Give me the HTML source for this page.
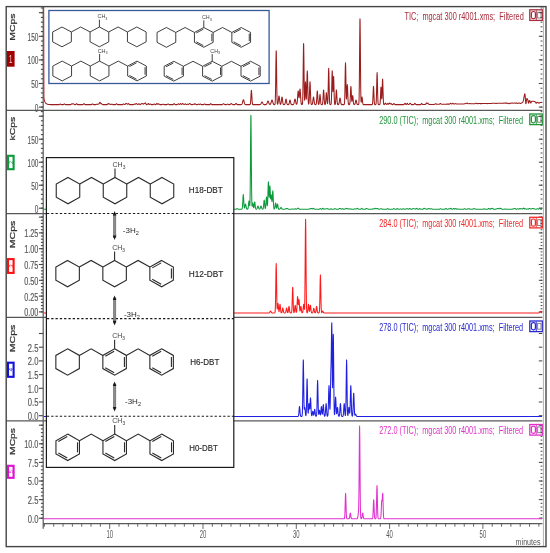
<!DOCTYPE html><html><head><meta charset="utf-8"><style>html,body{margin:0;padding:0;background:#fff;}svg{display:block;filter:blur(0.3px)}</style></head><body><svg width="550" height="553" viewBox="0 0 550 553" font-family="'Liberation Sans', Arial, sans-serif">
<rect width="550" height="553" fill="#fff"/>
<clipPath id="cp0"><rect x="43.2" y="6.8" width="499.2" height="103.60000000000001"/></clipPath>
<line x1="40.9" y1="107.10" x2="43.2" y2="107.10" stroke="#444" stroke-width="1.1"/>
<line x1="540.6" y1="107.10" x2="542.4" y2="107.10" stroke="#444" stroke-width="1.0"/>
<line x1="40.9" y1="102.38" x2="43.2" y2="102.38" stroke="#444" stroke-width="1.1"/>
<line x1="540.6" y1="102.38" x2="542.4" y2="102.38" stroke="#444" stroke-width="1.0"/>
<line x1="40.9" y1="97.66" x2="43.2" y2="97.66" stroke="#444" stroke-width="1.1"/>
<line x1="540.6" y1="97.66" x2="542.4" y2="97.66" stroke="#444" stroke-width="1.0"/>
<line x1="40.9" y1="92.94" x2="43.2" y2="92.94" stroke="#444" stroke-width="1.1"/>
<line x1="540.6" y1="92.94" x2="542.4" y2="92.94" stroke="#444" stroke-width="1.0"/>
<line x1="40.9" y1="88.22" x2="43.2" y2="88.22" stroke="#444" stroke-width="1.1"/>
<line x1="540.6" y1="88.22" x2="542.4" y2="88.22" stroke="#444" stroke-width="1.0"/>
<line x1="40.9" y1="83.50" x2="43.2" y2="83.50" stroke="#444" stroke-width="1.1"/>
<line x1="540.6" y1="83.50" x2="542.4" y2="83.50" stroke="#444" stroke-width="1.0"/>
<line x1="40.9" y1="78.78" x2="43.2" y2="78.78" stroke="#444" stroke-width="1.1"/>
<line x1="540.6" y1="78.78" x2="542.4" y2="78.78" stroke="#444" stroke-width="1.0"/>
<line x1="40.9" y1="74.06" x2="43.2" y2="74.06" stroke="#444" stroke-width="1.1"/>
<line x1="540.6" y1="74.06" x2="542.4" y2="74.06" stroke="#444" stroke-width="1.0"/>
<line x1="40.9" y1="69.34" x2="43.2" y2="69.34" stroke="#444" stroke-width="1.1"/>
<line x1="540.6" y1="69.34" x2="542.4" y2="69.34" stroke="#444" stroke-width="1.0"/>
<line x1="40.9" y1="64.62" x2="43.2" y2="64.62" stroke="#444" stroke-width="1.1"/>
<line x1="540.6" y1="64.62" x2="542.4" y2="64.62" stroke="#444" stroke-width="1.0"/>
<line x1="40.9" y1="59.90" x2="43.2" y2="59.90" stroke="#444" stroke-width="1.1"/>
<line x1="540.6" y1="59.90" x2="542.4" y2="59.90" stroke="#444" stroke-width="1.0"/>
<line x1="40.9" y1="55.18" x2="43.2" y2="55.18" stroke="#444" stroke-width="1.1"/>
<line x1="540.6" y1="55.18" x2="542.4" y2="55.18" stroke="#444" stroke-width="1.0"/>
<line x1="40.9" y1="50.46" x2="43.2" y2="50.46" stroke="#444" stroke-width="1.1"/>
<line x1="540.6" y1="50.46" x2="542.4" y2="50.46" stroke="#444" stroke-width="1.0"/>
<line x1="40.9" y1="45.74" x2="43.2" y2="45.74" stroke="#444" stroke-width="1.1"/>
<line x1="540.6" y1="45.74" x2="542.4" y2="45.74" stroke="#444" stroke-width="1.0"/>
<line x1="40.9" y1="41.02" x2="43.2" y2="41.02" stroke="#444" stroke-width="1.1"/>
<line x1="540.6" y1="41.02" x2="542.4" y2="41.02" stroke="#444" stroke-width="1.0"/>
<line x1="40.9" y1="36.30" x2="43.2" y2="36.30" stroke="#444" stroke-width="1.1"/>
<line x1="540.6" y1="36.30" x2="542.4" y2="36.30" stroke="#444" stroke-width="1.0"/>
<line x1="40.9" y1="31.58" x2="43.2" y2="31.58" stroke="#444" stroke-width="1.1"/>
<line x1="540.6" y1="31.58" x2="542.4" y2="31.58" stroke="#444" stroke-width="1.0"/>
<line x1="40.9" y1="26.86" x2="43.2" y2="26.86" stroke="#444" stroke-width="1.1"/>
<line x1="540.6" y1="26.86" x2="542.4" y2="26.86" stroke="#444" stroke-width="1.0"/>
<line x1="40.9" y1="22.14" x2="43.2" y2="22.14" stroke="#444" stroke-width="1.1"/>
<line x1="540.6" y1="22.14" x2="542.4" y2="22.14" stroke="#444" stroke-width="1.0"/>
<line x1="40.9" y1="17.42" x2="43.2" y2="17.42" stroke="#444" stroke-width="1.1"/>
<line x1="540.6" y1="17.42" x2="542.4" y2="17.42" stroke="#444" stroke-width="1.0"/>
<line x1="40.9" y1="12.70" x2="43.2" y2="12.70" stroke="#444" stroke-width="1.1"/>
<line x1="540.6" y1="12.70" x2="542.4" y2="12.70" stroke="#444" stroke-width="1.0"/>
<line x1="40.9" y1="7.98" x2="43.2" y2="7.98" stroke="#444" stroke-width="1.1"/>
<line x1="540.6" y1="7.98" x2="542.4" y2="7.98" stroke="#444" stroke-width="1.0"/>
<line x1="38.9" y1="107.10" x2="43.2" y2="107.10" stroke="#444" stroke-width="1.1"/>
<line x1="538.8" y1="107.10" x2="542.4" y2="107.10" stroke="#444" stroke-width="1.0"/>
<line x1="38.9" y1="83.50" x2="43.2" y2="83.50" stroke="#444" stroke-width="1.1"/>
<line x1="538.8" y1="83.50" x2="542.4" y2="83.50" stroke="#444" stroke-width="1.0"/>
<line x1="38.9" y1="59.90" x2="43.2" y2="59.90" stroke="#444" stroke-width="1.1"/>
<line x1="538.8" y1="59.90" x2="542.4" y2="59.90" stroke="#444" stroke-width="1.0"/>
<line x1="38.9" y1="36.30" x2="43.2" y2="36.30" stroke="#444" stroke-width="1.1"/>
<line x1="538.8" y1="36.30" x2="542.4" y2="36.30" stroke="#444" stroke-width="1.0"/>
<line x1="38.9" y1="12.70" x2="43.2" y2="12.70" stroke="#444" stroke-width="1.1"/>
<line x1="538.8" y1="12.70" x2="542.4" y2="12.70" stroke="#444" stroke-width="1.0"/>
<text x="34.8" y="111.50" font-size="10.4" fill="#555555" stroke="#555555" stroke-width="0.15" textLength="3.6" lengthAdjust="spacingAndGlyphs">0</text>
<text x="31.2" y="87.90" font-size="10.4" fill="#555555" stroke="#555555" stroke-width="0.15" textLength="7.2" lengthAdjust="spacingAndGlyphs">50</text>
<text x="27.6" y="64.30" font-size="10.4" fill="#555555" stroke="#555555" stroke-width="0.15" textLength="10.8" lengthAdjust="spacingAndGlyphs">100</text>
<text x="27.6" y="40.70" font-size="10.4" fill="#555555" stroke="#555555" stroke-width="0.15" textLength="10.8" lengthAdjust="spacingAndGlyphs">150</text>
<text transform="translate(15.2,40.7) rotate(-90)" font-size="8.0" fill="#333" stroke="#333" stroke-width="0.25" textLength="27.3" lengthAdjust="spacingAndGlyphs">MCps</text>
<rect x="6.8" y="51.0" width="7.8" height="15.7" fill="#a00000"/>
<text x="10.8" y="62.9" font-size="10.5" fill="#f4dede" text-anchor="middle" textLength="3.4" lengthAdjust="spacingAndGlyphs">1</text>
<text x="404.4" y="19.5" font-size="11" fill="#a82c3c" textLength="119.4" lengthAdjust="spacingAndGlyphs" style="white-space:pre">TIC;  mgcat 300 r4001.xms;  Filtered</text>
<rect x="529.8" y="9.8" width="12.6" height="10.6" fill="none" stroke="#a82c3c" stroke-width="1.3"/>
<rect x="531.4" y="11.5" width="4.0" height="7.2" rx="1.8" fill="none" stroke="#a82c3c" stroke-width="1.2"/>
<line x1="536.3" y1="10.2" x2="536.3" y2="20.0" stroke="#a82c3c" stroke-width="0.9"/>
<rect x="537.6" y="12.2" width="3.4" height="5.8" fill="none" stroke="#333" stroke-opacity="0.6" stroke-width="1.0"/>
<clipPath id="cp1"><rect x="43.2" y="111.0" width="499.2" height="102.69999999999999"/></clipPath>
<line x1="40.9" y1="208.20" x2="43.2" y2="208.20" stroke="#444" stroke-width="1.1"/>
<line x1="540.6" y1="208.20" x2="542.4" y2="208.20" stroke="#444" stroke-width="1.0"/>
<line x1="40.9" y1="203.60" x2="43.2" y2="203.60" stroke="#444" stroke-width="1.1"/>
<line x1="540.6" y1="203.60" x2="542.4" y2="203.60" stroke="#444" stroke-width="1.0"/>
<line x1="40.9" y1="199.00" x2="43.2" y2="199.00" stroke="#444" stroke-width="1.1"/>
<line x1="540.6" y1="199.00" x2="542.4" y2="199.00" stroke="#444" stroke-width="1.0"/>
<line x1="40.9" y1="194.40" x2="43.2" y2="194.40" stroke="#444" stroke-width="1.1"/>
<line x1="540.6" y1="194.40" x2="542.4" y2="194.40" stroke="#444" stroke-width="1.0"/>
<line x1="40.9" y1="189.80" x2="43.2" y2="189.80" stroke="#444" stroke-width="1.1"/>
<line x1="540.6" y1="189.80" x2="542.4" y2="189.80" stroke="#444" stroke-width="1.0"/>
<line x1="40.9" y1="185.20" x2="43.2" y2="185.20" stroke="#444" stroke-width="1.1"/>
<line x1="540.6" y1="185.20" x2="542.4" y2="185.20" stroke="#444" stroke-width="1.0"/>
<line x1="40.9" y1="180.60" x2="43.2" y2="180.60" stroke="#444" stroke-width="1.1"/>
<line x1="540.6" y1="180.60" x2="542.4" y2="180.60" stroke="#444" stroke-width="1.0"/>
<line x1="40.9" y1="176.00" x2="43.2" y2="176.00" stroke="#444" stroke-width="1.1"/>
<line x1="540.6" y1="176.00" x2="542.4" y2="176.00" stroke="#444" stroke-width="1.0"/>
<line x1="40.9" y1="171.40" x2="43.2" y2="171.40" stroke="#444" stroke-width="1.1"/>
<line x1="540.6" y1="171.40" x2="542.4" y2="171.40" stroke="#444" stroke-width="1.0"/>
<line x1="40.9" y1="166.80" x2="43.2" y2="166.80" stroke="#444" stroke-width="1.1"/>
<line x1="540.6" y1="166.80" x2="542.4" y2="166.80" stroke="#444" stroke-width="1.0"/>
<line x1="40.9" y1="162.20" x2="43.2" y2="162.20" stroke="#444" stroke-width="1.1"/>
<line x1="540.6" y1="162.20" x2="542.4" y2="162.20" stroke="#444" stroke-width="1.0"/>
<line x1="40.9" y1="157.60" x2="43.2" y2="157.60" stroke="#444" stroke-width="1.1"/>
<line x1="540.6" y1="157.60" x2="542.4" y2="157.60" stroke="#444" stroke-width="1.0"/>
<line x1="40.9" y1="153.00" x2="43.2" y2="153.00" stroke="#444" stroke-width="1.1"/>
<line x1="540.6" y1="153.00" x2="542.4" y2="153.00" stroke="#444" stroke-width="1.0"/>
<line x1="40.9" y1="148.40" x2="43.2" y2="148.40" stroke="#444" stroke-width="1.1"/>
<line x1="540.6" y1="148.40" x2="542.4" y2="148.40" stroke="#444" stroke-width="1.0"/>
<line x1="40.9" y1="143.80" x2="43.2" y2="143.80" stroke="#444" stroke-width="1.1"/>
<line x1="540.6" y1="143.80" x2="542.4" y2="143.80" stroke="#444" stroke-width="1.0"/>
<line x1="40.9" y1="139.20" x2="43.2" y2="139.20" stroke="#444" stroke-width="1.1"/>
<line x1="540.6" y1="139.20" x2="542.4" y2="139.20" stroke="#444" stroke-width="1.0"/>
<line x1="40.9" y1="134.60" x2="43.2" y2="134.60" stroke="#444" stroke-width="1.1"/>
<line x1="540.6" y1="134.60" x2="542.4" y2="134.60" stroke="#444" stroke-width="1.0"/>
<line x1="40.9" y1="130.00" x2="43.2" y2="130.00" stroke="#444" stroke-width="1.1"/>
<line x1="540.6" y1="130.00" x2="542.4" y2="130.00" stroke="#444" stroke-width="1.0"/>
<line x1="40.9" y1="125.40" x2="43.2" y2="125.40" stroke="#444" stroke-width="1.1"/>
<line x1="540.6" y1="125.40" x2="542.4" y2="125.40" stroke="#444" stroke-width="1.0"/>
<line x1="40.9" y1="120.80" x2="43.2" y2="120.80" stroke="#444" stroke-width="1.1"/>
<line x1="540.6" y1="120.80" x2="542.4" y2="120.80" stroke="#444" stroke-width="1.0"/>
<line x1="40.9" y1="116.20" x2="43.2" y2="116.20" stroke="#444" stroke-width="1.1"/>
<line x1="540.6" y1="116.20" x2="542.4" y2="116.20" stroke="#444" stroke-width="1.0"/>
<line x1="40.9" y1="111.60" x2="43.2" y2="111.60" stroke="#444" stroke-width="1.1"/>
<line x1="540.6" y1="111.60" x2="542.4" y2="111.60" stroke="#444" stroke-width="1.0"/>
<line x1="38.9" y1="208.20" x2="43.2" y2="208.20" stroke="#444" stroke-width="1.1"/>
<line x1="538.8" y1="208.20" x2="542.4" y2="208.20" stroke="#444" stroke-width="1.0"/>
<line x1="38.9" y1="185.20" x2="43.2" y2="185.20" stroke="#444" stroke-width="1.1"/>
<line x1="538.8" y1="185.20" x2="542.4" y2="185.20" stroke="#444" stroke-width="1.0"/>
<line x1="38.9" y1="162.20" x2="43.2" y2="162.20" stroke="#444" stroke-width="1.1"/>
<line x1="538.8" y1="162.20" x2="542.4" y2="162.20" stroke="#444" stroke-width="1.0"/>
<line x1="38.9" y1="139.20" x2="43.2" y2="139.20" stroke="#444" stroke-width="1.1"/>
<line x1="538.8" y1="139.20" x2="542.4" y2="139.20" stroke="#444" stroke-width="1.0"/>
<line x1="38.9" y1="116.20" x2="43.2" y2="116.20" stroke="#444" stroke-width="1.1"/>
<line x1="538.8" y1="116.20" x2="542.4" y2="116.20" stroke="#444" stroke-width="1.0"/>
<text x="34.8" y="212.60" font-size="10.4" fill="#555555" stroke="#555555" stroke-width="0.15" textLength="3.6" lengthAdjust="spacingAndGlyphs">0</text>
<text x="31.2" y="189.60" font-size="10.4" fill="#555555" stroke="#555555" stroke-width="0.15" textLength="7.2" lengthAdjust="spacingAndGlyphs">50</text>
<text x="27.6" y="166.60" font-size="10.4" fill="#555555" stroke="#555555" stroke-width="0.15" textLength="10.8" lengthAdjust="spacingAndGlyphs">100</text>
<text x="27.6" y="143.60" font-size="10.4" fill="#555555" stroke="#555555" stroke-width="0.15" textLength="10.8" lengthAdjust="spacingAndGlyphs">150</text>
<text transform="translate(15.2,140.4) rotate(-90)" font-size="8.0" fill="#333" stroke="#333" stroke-width="0.25" textLength="23.7" lengthAdjust="spacingAndGlyphs">kCps</text>
<rect x="8.0" y="155.8" width="5.6" height="13.4" fill="#fff" stroke="#0c9a3c" stroke-width="2.1"/>
<text transform="translate(12.6,162.5) rotate(-90)" font-size="5.6" fill="#0c9a3c" text-anchor="middle">2</text>
<text x="379.2" y="123.7" font-size="11" fill="#22943a" textLength="143.9" lengthAdjust="spacingAndGlyphs" style="white-space:pre">290.0 (TIC);  mgcat 300 r4001.xms;  Filtered</text>
<rect x="529.8" y="114.0" width="12.6" height="10.6" fill="none" stroke="#22943a" stroke-width="1.3"/>
<rect x="531.4" y="115.7" width="4.0" height="7.2" rx="1.8" fill="none" stroke="#22943a" stroke-width="1.2"/>
<line x1="536.3" y1="114.4" x2="536.3" y2="124.2" stroke="#22943a" stroke-width="0.9"/>
<rect x="537.6" y="116.4" width="3.4" height="5.8" fill="none" stroke="#333" stroke-opacity="0.6" stroke-width="1.0"/>
<clipPath id="cp2"><rect x="43.2" y="214.29999999999998" width="499.2" height="103.1"/></clipPath>
<line x1="40.9" y1="311.90" x2="43.2" y2="311.90" stroke="#444" stroke-width="1.1"/>
<line x1="540.6" y1="311.90" x2="542.4" y2="311.90" stroke="#444" stroke-width="1.0"/>
<line x1="40.9" y1="308.74" x2="43.2" y2="308.74" stroke="#444" stroke-width="1.1"/>
<line x1="540.6" y1="308.74" x2="542.4" y2="308.74" stroke="#444" stroke-width="1.0"/>
<line x1="40.9" y1="305.58" x2="43.2" y2="305.58" stroke="#444" stroke-width="1.1"/>
<line x1="540.6" y1="305.58" x2="542.4" y2="305.58" stroke="#444" stroke-width="1.0"/>
<line x1="40.9" y1="302.42" x2="43.2" y2="302.42" stroke="#444" stroke-width="1.1"/>
<line x1="540.6" y1="302.42" x2="542.4" y2="302.42" stroke="#444" stroke-width="1.0"/>
<line x1="40.9" y1="299.26" x2="43.2" y2="299.26" stroke="#444" stroke-width="1.1"/>
<line x1="540.6" y1="299.26" x2="542.4" y2="299.26" stroke="#444" stroke-width="1.0"/>
<line x1="40.9" y1="296.10" x2="43.2" y2="296.10" stroke="#444" stroke-width="1.1"/>
<line x1="540.6" y1="296.10" x2="542.4" y2="296.10" stroke="#444" stroke-width="1.0"/>
<line x1="40.9" y1="292.94" x2="43.2" y2="292.94" stroke="#444" stroke-width="1.1"/>
<line x1="540.6" y1="292.94" x2="542.4" y2="292.94" stroke="#444" stroke-width="1.0"/>
<line x1="40.9" y1="289.78" x2="43.2" y2="289.78" stroke="#444" stroke-width="1.1"/>
<line x1="540.6" y1="289.78" x2="542.4" y2="289.78" stroke="#444" stroke-width="1.0"/>
<line x1="40.9" y1="286.62" x2="43.2" y2="286.62" stroke="#444" stroke-width="1.1"/>
<line x1="540.6" y1="286.62" x2="542.4" y2="286.62" stroke="#444" stroke-width="1.0"/>
<line x1="40.9" y1="283.46" x2="43.2" y2="283.46" stroke="#444" stroke-width="1.1"/>
<line x1="540.6" y1="283.46" x2="542.4" y2="283.46" stroke="#444" stroke-width="1.0"/>
<line x1="40.9" y1="280.30" x2="43.2" y2="280.30" stroke="#444" stroke-width="1.1"/>
<line x1="540.6" y1="280.30" x2="542.4" y2="280.30" stroke="#444" stroke-width="1.0"/>
<line x1="40.9" y1="277.14" x2="43.2" y2="277.14" stroke="#444" stroke-width="1.1"/>
<line x1="540.6" y1="277.14" x2="542.4" y2="277.14" stroke="#444" stroke-width="1.0"/>
<line x1="40.9" y1="273.98" x2="43.2" y2="273.98" stroke="#444" stroke-width="1.1"/>
<line x1="540.6" y1="273.98" x2="542.4" y2="273.98" stroke="#444" stroke-width="1.0"/>
<line x1="40.9" y1="270.82" x2="43.2" y2="270.82" stroke="#444" stroke-width="1.1"/>
<line x1="540.6" y1="270.82" x2="542.4" y2="270.82" stroke="#444" stroke-width="1.0"/>
<line x1="40.9" y1="267.66" x2="43.2" y2="267.66" stroke="#444" stroke-width="1.1"/>
<line x1="540.6" y1="267.66" x2="542.4" y2="267.66" stroke="#444" stroke-width="1.0"/>
<line x1="40.9" y1="264.50" x2="43.2" y2="264.50" stroke="#444" stroke-width="1.1"/>
<line x1="540.6" y1="264.50" x2="542.4" y2="264.50" stroke="#444" stroke-width="1.0"/>
<line x1="40.9" y1="261.34" x2="43.2" y2="261.34" stroke="#444" stroke-width="1.1"/>
<line x1="540.6" y1="261.34" x2="542.4" y2="261.34" stroke="#444" stroke-width="1.0"/>
<line x1="40.9" y1="258.18" x2="43.2" y2="258.18" stroke="#444" stroke-width="1.1"/>
<line x1="540.6" y1="258.18" x2="542.4" y2="258.18" stroke="#444" stroke-width="1.0"/>
<line x1="40.9" y1="255.02" x2="43.2" y2="255.02" stroke="#444" stroke-width="1.1"/>
<line x1="540.6" y1="255.02" x2="542.4" y2="255.02" stroke="#444" stroke-width="1.0"/>
<line x1="40.9" y1="251.86" x2="43.2" y2="251.86" stroke="#444" stroke-width="1.1"/>
<line x1="540.6" y1="251.86" x2="542.4" y2="251.86" stroke="#444" stroke-width="1.0"/>
<line x1="40.9" y1="248.70" x2="43.2" y2="248.70" stroke="#444" stroke-width="1.1"/>
<line x1="540.6" y1="248.70" x2="542.4" y2="248.70" stroke="#444" stroke-width="1.0"/>
<line x1="40.9" y1="245.54" x2="43.2" y2="245.54" stroke="#444" stroke-width="1.1"/>
<line x1="540.6" y1="245.54" x2="542.4" y2="245.54" stroke="#444" stroke-width="1.0"/>
<line x1="40.9" y1="242.38" x2="43.2" y2="242.38" stroke="#444" stroke-width="1.1"/>
<line x1="540.6" y1="242.38" x2="542.4" y2="242.38" stroke="#444" stroke-width="1.0"/>
<line x1="40.9" y1="239.22" x2="43.2" y2="239.22" stroke="#444" stroke-width="1.1"/>
<line x1="540.6" y1="239.22" x2="542.4" y2="239.22" stroke="#444" stroke-width="1.0"/>
<line x1="40.9" y1="236.06" x2="43.2" y2="236.06" stroke="#444" stroke-width="1.1"/>
<line x1="540.6" y1="236.06" x2="542.4" y2="236.06" stroke="#444" stroke-width="1.0"/>
<line x1="40.9" y1="232.90" x2="43.2" y2="232.90" stroke="#444" stroke-width="1.1"/>
<line x1="540.6" y1="232.90" x2="542.4" y2="232.90" stroke="#444" stroke-width="1.0"/>
<line x1="40.9" y1="229.74" x2="43.2" y2="229.74" stroke="#444" stroke-width="1.1"/>
<line x1="540.6" y1="229.74" x2="542.4" y2="229.74" stroke="#444" stroke-width="1.0"/>
<line x1="40.9" y1="226.58" x2="43.2" y2="226.58" stroke="#444" stroke-width="1.1"/>
<line x1="540.6" y1="226.58" x2="542.4" y2="226.58" stroke="#444" stroke-width="1.0"/>
<line x1="40.9" y1="223.42" x2="43.2" y2="223.42" stroke="#444" stroke-width="1.1"/>
<line x1="540.6" y1="223.42" x2="542.4" y2="223.42" stroke="#444" stroke-width="1.0"/>
<line x1="40.9" y1="220.26" x2="43.2" y2="220.26" stroke="#444" stroke-width="1.1"/>
<line x1="540.6" y1="220.26" x2="542.4" y2="220.26" stroke="#444" stroke-width="1.0"/>
<line x1="40.9" y1="217.10" x2="43.2" y2="217.10" stroke="#444" stroke-width="1.1"/>
<line x1="540.6" y1="217.10" x2="542.4" y2="217.10" stroke="#444" stroke-width="1.0"/>
<line x1="38.9" y1="311.90" x2="43.2" y2="311.90" stroke="#444" stroke-width="1.1"/>
<line x1="538.8" y1="311.90" x2="542.4" y2="311.90" stroke="#444" stroke-width="1.0"/>
<line x1="38.9" y1="296.10" x2="43.2" y2="296.10" stroke="#444" stroke-width="1.1"/>
<line x1="538.8" y1="296.10" x2="542.4" y2="296.10" stroke="#444" stroke-width="1.0"/>
<line x1="38.9" y1="280.30" x2="43.2" y2="280.30" stroke="#444" stroke-width="1.1"/>
<line x1="538.8" y1="280.30" x2="542.4" y2="280.30" stroke="#444" stroke-width="1.0"/>
<line x1="38.9" y1="264.50" x2="43.2" y2="264.50" stroke="#444" stroke-width="1.1"/>
<line x1="538.8" y1="264.50" x2="542.4" y2="264.50" stroke="#444" stroke-width="1.0"/>
<line x1="38.9" y1="248.70" x2="43.2" y2="248.70" stroke="#444" stroke-width="1.1"/>
<line x1="538.8" y1="248.70" x2="542.4" y2="248.70" stroke="#444" stroke-width="1.0"/>
<line x1="38.9" y1="232.90" x2="43.2" y2="232.90" stroke="#444" stroke-width="1.1"/>
<line x1="538.8" y1="232.90" x2="542.4" y2="232.90" stroke="#444" stroke-width="1.0"/>
<line x1="38.9" y1="217.10" x2="43.2" y2="217.10" stroke="#444" stroke-width="1.1"/>
<line x1="538.8" y1="217.10" x2="542.4" y2="217.10" stroke="#444" stroke-width="1.0"/>
<text x="24.2" y="316.30" font-size="10.4" fill="#555555" stroke="#555555" stroke-width="0.15" textLength="14.2" lengthAdjust="spacingAndGlyphs">0.00</text>
<text x="24.2" y="300.50" font-size="10.4" fill="#555555" stroke="#555555" stroke-width="0.15" textLength="14.2" lengthAdjust="spacingAndGlyphs">0.25</text>
<text x="24.2" y="284.70" font-size="10.4" fill="#555555" stroke="#555555" stroke-width="0.15" textLength="14.2" lengthAdjust="spacingAndGlyphs">0.50</text>
<text x="24.2" y="268.90" font-size="10.4" fill="#555555" stroke="#555555" stroke-width="0.15" textLength="14.2" lengthAdjust="spacingAndGlyphs">0.75</text>
<text x="24.2" y="253.10" font-size="10.4" fill="#555555" stroke="#555555" stroke-width="0.15" textLength="14.2" lengthAdjust="spacingAndGlyphs">1.00</text>
<text x="24.2" y="237.30" font-size="10.4" fill="#555555" stroke="#555555" stroke-width="0.15" textLength="14.2" lengthAdjust="spacingAndGlyphs">1.25</text>
<text transform="translate(15.2,248.2) rotate(-90)" font-size="8.0" fill="#333" stroke="#333" stroke-width="0.25" textLength="27.6" lengthAdjust="spacingAndGlyphs">MCps</text>
<rect x="8.0" y="259.1" width="5.6" height="13.8" fill="#fff" stroke="#ff1010" stroke-width="2.1"/>
<text transform="translate(12.6,266.0) rotate(-90)" font-size="5.6" fill="#ff1010" text-anchor="middle">3</text>
<text x="379.2" y="227.0" font-size="11" fill="#f02a2a" textLength="143.9" lengthAdjust="spacingAndGlyphs" style="white-space:pre">284.0 (TIC);  mgcat 300 r4001.xms;  Filtered</text>
<rect x="529.8" y="217.3" width="12.6" height="10.6" fill="none" stroke="#f02a2a" stroke-width="1.3"/>
<rect x="531.4" y="219.0" width="4.0" height="7.2" rx="1.8" fill="none" stroke="#f02a2a" stroke-width="1.2"/>
<line x1="536.3" y1="217.7" x2="536.3" y2="227.5" stroke="#f02a2a" stroke-width="0.9"/>
<rect x="537.6" y="219.7" width="3.4" height="5.8" fill="none" stroke="#333" stroke-opacity="0.6" stroke-width="1.0"/>
<clipPath id="cp3"><rect x="43.2" y="318.0" width="499.2" height="102.9"/></clipPath>
<line x1="38.9" y1="415.70" x2="43.2" y2="415.70" stroke="#444" stroke-width="1.1"/>
<line x1="538.8" y1="415.70" x2="542.4" y2="415.70" stroke="#444" stroke-width="1.0"/>
<line x1="38.9" y1="402.00" x2="43.2" y2="402.00" stroke="#444" stroke-width="1.1"/>
<line x1="538.8" y1="402.00" x2="542.4" y2="402.00" stroke="#444" stroke-width="1.0"/>
<line x1="38.9" y1="388.30" x2="43.2" y2="388.30" stroke="#444" stroke-width="1.1"/>
<line x1="538.8" y1="388.30" x2="542.4" y2="388.30" stroke="#444" stroke-width="1.0"/>
<line x1="38.9" y1="374.60" x2="43.2" y2="374.60" stroke="#444" stroke-width="1.1"/>
<line x1="538.8" y1="374.60" x2="542.4" y2="374.60" stroke="#444" stroke-width="1.0"/>
<line x1="38.9" y1="360.90" x2="43.2" y2="360.90" stroke="#444" stroke-width="1.1"/>
<line x1="538.8" y1="360.90" x2="542.4" y2="360.90" stroke="#444" stroke-width="1.0"/>
<line x1="38.9" y1="347.20" x2="43.2" y2="347.20" stroke="#444" stroke-width="1.1"/>
<line x1="538.8" y1="347.20" x2="542.4" y2="347.20" stroke="#444" stroke-width="1.0"/>
<line x1="38.9" y1="333.50" x2="43.2" y2="333.50" stroke="#444" stroke-width="1.1"/>
<line x1="538.8" y1="333.50" x2="542.4" y2="333.50" stroke="#444" stroke-width="1.0"/>
<text x="27.8" y="420.10" font-size="10.4" fill="#555555" stroke="#555555" stroke-width="0.15" textLength="10.6" lengthAdjust="spacingAndGlyphs">0.0</text>
<text x="27.8" y="406.40" font-size="10.4" fill="#555555" stroke="#555555" stroke-width="0.15" textLength="10.6" lengthAdjust="spacingAndGlyphs">0.5</text>
<text x="27.8" y="392.70" font-size="10.4" fill="#555555" stroke="#555555" stroke-width="0.15" textLength="10.6" lengthAdjust="spacingAndGlyphs">1.0</text>
<text x="27.8" y="379.00" font-size="10.4" fill="#555555" stroke="#555555" stroke-width="0.15" textLength="10.6" lengthAdjust="spacingAndGlyphs">1.5</text>
<text x="27.8" y="365.30" font-size="10.4" fill="#555555" stroke="#555555" stroke-width="0.15" textLength="10.6" lengthAdjust="spacingAndGlyphs">2.0</text>
<text x="27.8" y="351.60" font-size="10.4" fill="#555555" stroke="#555555" stroke-width="0.15" textLength="10.6" lengthAdjust="spacingAndGlyphs">2.5</text>
<text transform="translate(15.2,352.2) rotate(-90)" font-size="8.0" fill="#333" stroke="#333" stroke-width="0.25" textLength="27.6" lengthAdjust="spacingAndGlyphs">MCps</text>
<rect x="8.0" y="362.7" width="5.6" height="14.1" fill="#fff" stroke="#1010e0" stroke-width="2.1"/>
<text transform="translate(12.6,369.8) rotate(-90)" font-size="5.6" fill="#1010e0" text-anchor="middle">4</text>
<text x="379.2" y="330.7" font-size="11" fill="#2a2ad0" textLength="143.9" lengthAdjust="spacingAndGlyphs" style="white-space:pre">278.0 (TIC);  mgcat 300 r4001.xms;  Filtered</text>
<rect x="529.8" y="321.0" width="12.6" height="10.6" fill="none" stroke="#2a2ad0" stroke-width="1.3"/>
<rect x="531.4" y="322.7" width="4.0" height="7.2" rx="1.8" fill="none" stroke="#2a2ad0" stroke-width="1.2"/>
<line x1="536.3" y1="321.4" x2="536.3" y2="331.2" stroke="#2a2ad0" stroke-width="0.9"/>
<rect x="537.6" y="323.4" width="3.4" height="5.8" fill="none" stroke="#333" stroke-opacity="0.6" stroke-width="1.0"/>
<clipPath id="cp4"><rect x="43.2" y="421.5" width="499.2" height="102.20000000000007"/></clipPath>
<line x1="40.9" y1="518.20" x2="43.2" y2="518.20" stroke="#444" stroke-width="1.1"/>
<line x1="540.6" y1="518.20" x2="542.4" y2="518.20" stroke="#444" stroke-width="1.0"/>
<line x1="40.9" y1="514.48" x2="43.2" y2="514.48" stroke="#444" stroke-width="1.1"/>
<line x1="540.6" y1="514.48" x2="542.4" y2="514.48" stroke="#444" stroke-width="1.0"/>
<line x1="40.9" y1="510.76" x2="43.2" y2="510.76" stroke="#444" stroke-width="1.1"/>
<line x1="540.6" y1="510.76" x2="542.4" y2="510.76" stroke="#444" stroke-width="1.0"/>
<line x1="40.9" y1="507.04" x2="43.2" y2="507.04" stroke="#444" stroke-width="1.1"/>
<line x1="540.6" y1="507.04" x2="542.4" y2="507.04" stroke="#444" stroke-width="1.0"/>
<line x1="40.9" y1="503.32" x2="43.2" y2="503.32" stroke="#444" stroke-width="1.1"/>
<line x1="540.6" y1="503.32" x2="542.4" y2="503.32" stroke="#444" stroke-width="1.0"/>
<line x1="40.9" y1="499.60" x2="43.2" y2="499.60" stroke="#444" stroke-width="1.1"/>
<line x1="540.6" y1="499.60" x2="542.4" y2="499.60" stroke="#444" stroke-width="1.0"/>
<line x1="40.9" y1="495.88" x2="43.2" y2="495.88" stroke="#444" stroke-width="1.1"/>
<line x1="540.6" y1="495.88" x2="542.4" y2="495.88" stroke="#444" stroke-width="1.0"/>
<line x1="40.9" y1="492.16" x2="43.2" y2="492.16" stroke="#444" stroke-width="1.1"/>
<line x1="540.6" y1="492.16" x2="542.4" y2="492.16" stroke="#444" stroke-width="1.0"/>
<line x1="40.9" y1="488.44" x2="43.2" y2="488.44" stroke="#444" stroke-width="1.1"/>
<line x1="540.6" y1="488.44" x2="542.4" y2="488.44" stroke="#444" stroke-width="1.0"/>
<line x1="40.9" y1="484.72" x2="43.2" y2="484.72" stroke="#444" stroke-width="1.1"/>
<line x1="540.6" y1="484.72" x2="542.4" y2="484.72" stroke="#444" stroke-width="1.0"/>
<line x1="40.9" y1="481.00" x2="43.2" y2="481.00" stroke="#444" stroke-width="1.1"/>
<line x1="540.6" y1="481.00" x2="542.4" y2="481.00" stroke="#444" stroke-width="1.0"/>
<line x1="40.9" y1="477.28" x2="43.2" y2="477.28" stroke="#444" stroke-width="1.1"/>
<line x1="540.6" y1="477.28" x2="542.4" y2="477.28" stroke="#444" stroke-width="1.0"/>
<line x1="40.9" y1="473.56" x2="43.2" y2="473.56" stroke="#444" stroke-width="1.1"/>
<line x1="540.6" y1="473.56" x2="542.4" y2="473.56" stroke="#444" stroke-width="1.0"/>
<line x1="40.9" y1="469.84" x2="43.2" y2="469.84" stroke="#444" stroke-width="1.1"/>
<line x1="540.6" y1="469.84" x2="542.4" y2="469.84" stroke="#444" stroke-width="1.0"/>
<line x1="40.9" y1="466.12" x2="43.2" y2="466.12" stroke="#444" stroke-width="1.1"/>
<line x1="540.6" y1="466.12" x2="542.4" y2="466.12" stroke="#444" stroke-width="1.0"/>
<line x1="40.9" y1="462.40" x2="43.2" y2="462.40" stroke="#444" stroke-width="1.1"/>
<line x1="540.6" y1="462.40" x2="542.4" y2="462.40" stroke="#444" stroke-width="1.0"/>
<line x1="40.9" y1="458.68" x2="43.2" y2="458.68" stroke="#444" stroke-width="1.1"/>
<line x1="540.6" y1="458.68" x2="542.4" y2="458.68" stroke="#444" stroke-width="1.0"/>
<line x1="40.9" y1="454.96" x2="43.2" y2="454.96" stroke="#444" stroke-width="1.1"/>
<line x1="540.6" y1="454.96" x2="542.4" y2="454.96" stroke="#444" stroke-width="1.0"/>
<line x1="40.9" y1="451.24" x2="43.2" y2="451.24" stroke="#444" stroke-width="1.1"/>
<line x1="540.6" y1="451.24" x2="542.4" y2="451.24" stroke="#444" stroke-width="1.0"/>
<line x1="40.9" y1="447.52" x2="43.2" y2="447.52" stroke="#444" stroke-width="1.1"/>
<line x1="540.6" y1="447.52" x2="542.4" y2="447.52" stroke="#444" stroke-width="1.0"/>
<line x1="40.9" y1="443.80" x2="43.2" y2="443.80" stroke="#444" stroke-width="1.1"/>
<line x1="540.6" y1="443.80" x2="542.4" y2="443.80" stroke="#444" stroke-width="1.0"/>
<line x1="40.9" y1="440.08" x2="43.2" y2="440.08" stroke="#444" stroke-width="1.1"/>
<line x1="540.6" y1="440.08" x2="542.4" y2="440.08" stroke="#444" stroke-width="1.0"/>
<line x1="40.9" y1="436.36" x2="43.2" y2="436.36" stroke="#444" stroke-width="1.1"/>
<line x1="540.6" y1="436.36" x2="542.4" y2="436.36" stroke="#444" stroke-width="1.0"/>
<line x1="40.9" y1="432.64" x2="43.2" y2="432.64" stroke="#444" stroke-width="1.1"/>
<line x1="540.6" y1="432.64" x2="542.4" y2="432.64" stroke="#444" stroke-width="1.0"/>
<line x1="40.9" y1="428.92" x2="43.2" y2="428.92" stroke="#444" stroke-width="1.1"/>
<line x1="540.6" y1="428.92" x2="542.4" y2="428.92" stroke="#444" stroke-width="1.0"/>
<line x1="40.9" y1="425.20" x2="43.2" y2="425.20" stroke="#444" stroke-width="1.1"/>
<line x1="540.6" y1="425.20" x2="542.4" y2="425.20" stroke="#444" stroke-width="1.0"/>
<line x1="38.9" y1="518.20" x2="43.2" y2="518.20" stroke="#444" stroke-width="1.1"/>
<line x1="538.8" y1="518.20" x2="542.4" y2="518.20" stroke="#444" stroke-width="1.0"/>
<line x1="38.9" y1="499.60" x2="43.2" y2="499.60" stroke="#444" stroke-width="1.1"/>
<line x1="538.8" y1="499.60" x2="542.4" y2="499.60" stroke="#444" stroke-width="1.0"/>
<line x1="38.9" y1="481.00" x2="43.2" y2="481.00" stroke="#444" stroke-width="1.1"/>
<line x1="538.8" y1="481.00" x2="542.4" y2="481.00" stroke="#444" stroke-width="1.0"/>
<line x1="38.9" y1="462.40" x2="43.2" y2="462.40" stroke="#444" stroke-width="1.1"/>
<line x1="538.8" y1="462.40" x2="542.4" y2="462.40" stroke="#444" stroke-width="1.0"/>
<line x1="38.9" y1="443.80" x2="43.2" y2="443.80" stroke="#444" stroke-width="1.1"/>
<line x1="538.8" y1="443.80" x2="542.4" y2="443.80" stroke="#444" stroke-width="1.0"/>
<line x1="38.9" y1="425.20" x2="43.2" y2="425.20" stroke="#444" stroke-width="1.1"/>
<line x1="538.8" y1="425.20" x2="542.4" y2="425.20" stroke="#444" stroke-width="1.0"/>
<text x="27.8" y="522.60" font-size="10.4" fill="#555555" stroke="#555555" stroke-width="0.15" textLength="10.6" lengthAdjust="spacingAndGlyphs">0.0</text>
<text x="27.8" y="504.00" font-size="10.4" fill="#555555" stroke="#555555" stroke-width="0.15" textLength="10.6" lengthAdjust="spacingAndGlyphs">2.5</text>
<text x="27.8" y="485.40" font-size="10.4" fill="#555555" stroke="#555555" stroke-width="0.15" textLength="10.6" lengthAdjust="spacingAndGlyphs">5.0</text>
<text x="27.8" y="466.80" font-size="10.4" fill="#555555" stroke="#555555" stroke-width="0.15" textLength="10.6" lengthAdjust="spacingAndGlyphs">7.5</text>
<text x="24.2" y="448.20" font-size="10.4" fill="#555555" stroke="#555555" stroke-width="0.15" textLength="14.2" lengthAdjust="spacingAndGlyphs">10.0</text>
<text transform="translate(15.2,454.9) rotate(-90)" font-size="8.0" fill="#333" stroke="#333" stroke-width="0.25" textLength="26.9" lengthAdjust="spacingAndGlyphs">MCps</text>
<rect x="8.0" y="465.8" width="5.6" height="12.0" fill="#fff" stroke="#e010d0" stroke-width="2.1"/>
<text transform="translate(12.6,471.8) rotate(-90)" font-size="5.6" fill="#e010d0" text-anchor="middle">5</text>
<text x="379.2" y="434.2" font-size="11" fill="#e030c8" textLength="143.9" lengthAdjust="spacingAndGlyphs" style="white-space:pre">272.0 (TIC);  mgcat 300 r4001.xms;  Filtered</text>
<rect x="529.8" y="424.5" width="12.6" height="10.6" fill="none" stroke="#e030c8" stroke-width="1.3"/>
<rect x="531.4" y="426.2" width="4.0" height="7.2" rx="1.8" fill="none" stroke="#e030c8" stroke-width="1.2"/>
<line x1="536.3" y1="424.9" x2="536.3" y2="434.7" stroke="#e030c8" stroke-width="0.9"/>
<rect x="537.6" y="426.9" width="3.4" height="5.8" fill="none" stroke="#333" stroke-opacity="0.6" stroke-width="1.0"/>
<polyline clip-path="url(#cp0)" points="43.6,-10 43.9,98.1 44.1,99.1 44.3,99.9 44.5,100.6 44.7,101.2 44.9,101.7 45.1,102.1 45.3,102.5 45.5,102.8 45.7,103.1 45.9,103.3 46.1,103.5 46.3,103.6 46.5,103.8 46.7,103.9 46.9,104.0 47.1,104.1 47.3,104.2 47.5,104.2 47.7,104.3 47.9,104.3 48.1,104.4 48.3,104.4 48.5,104.4 48.7,104.5 48.9,104.5 49.1,104.5 49.3,104.5 49.5,104.5 49.7,104.5 49.9,104.5 50.1,104.6 50.3,104.6 50.5,104.6 50.7,104.6 50.9,104.6 51.1,104.6 51.3,104.6 51.5,104.6 51.7,104.6 51.9,104.6 52.1,104.6 52.3,104.6 52.5,104.6 52.7,104.6 52.9,104.6 53.1,104.6 53.3,104.6 53.5,104.6 53.7,104.6 53.9,104.6 54.1,104.6 54.3,104.6 54.5,104.6 54.7,104.6 54.9,104.6 55.1,104.6 55.3,104.6 55.5,104.6 55.7,104.6 55.9,104.6 56.1,104.6 56.3,104.6 56.5,104.6 56.7,104.6 56.9,104.6 57.1,104.6 57.3,104.6 57.5,104.6 57.7,104.6 57.9,104.6 58.1,104.6 58.3,104.6 58.5,104.6 58.7,104.6 58.9,104.6 59.1,104.6 59.3,104.5 59.5,104.5 59.7,104.4 59.9,104.2 60.1,104.1 60.3,104.0 60.3,104.0 60.5,104.1 60.7,104.3 60.9,104.4 61.1,104.5 61.3,104.6 61.5,104.6 61.7,104.6 61.9,104.6 62.1,104.6 62.3,104.6 62.5,104.6 62.7,104.6 62.9,104.6 63.1,104.6 63.3,104.6 63.5,104.5 63.7,104.5 63.9,104.3 64.1,104.1 64.3,103.9 64.5,103.9 64.5,103.9 64.7,104.0 64.9,104.1 65.1,104.3 65.3,104.5 65.5,104.6 65.7,104.6 65.9,104.6 66.1,104.6 66.3,104.6 66.5,104.6 66.7,104.6 66.9,104.6 67.1,104.6 67.3,104.6 67.5,104.6 67.7,104.6 67.9,104.6 68.1,104.6 68.3,104.6 68.5,104.6 68.7,104.6 68.9,104.6 69.1,104.6 69.3,104.6 69.5,104.6 69.7,104.6 69.9,104.6 70.1,104.6 70.3,104.6 70.5,104.6 70.7,104.6 70.9,104.5 71.1,104.4 71.3,104.3 71.5,104.1 71.7,103.9 71.9,103.8 71.9,103.8 72.1,103.9 72.3,103.9 72.5,104.0 72.7,103.9 72.9,103.8 73.0,103.8 73.1,103.8 73.3,103.8 73.5,103.9 73.7,104.0 73.7,104.0 73.9,104.2 74.1,104.3 74.3,104.4 74.5,104.5 74.7,104.6 74.9,104.6 75.1,104.6 75.3,104.6 75.5,104.6 75.7,104.5 75.9,104.3 76.1,104.1 76.3,103.9 76.5,103.7 76.6,103.7 76.7,103.7 76.9,103.9 77.1,104.1 77.3,104.3 77.5,104.5 77.7,104.6 77.9,104.6 78.1,104.6 78.3,104.6 78.5,104.6 78.7,104.6 78.9,104.6 79.1,104.6 79.3,104.6 79.5,104.6 79.7,104.6 79.9,104.6 80.1,104.6 80.3,104.6 80.5,104.6 80.7,104.6 80.9,104.6 81.1,104.6 81.3,104.6 81.5,104.6 81.7,104.6 81.9,104.6 82.1,104.6 82.3,104.6 82.5,104.6 82.7,104.6 82.9,104.5 83.1,104.5 83.3,104.3 83.5,104.0 83.7,103.8 83.9,103.6 84.0,103.6 84.1,103.6 84.3,103.8 84.5,104.1 84.7,104.3 84.9,104.5 85.1,104.6 85.3,104.6 85.5,104.6 85.7,104.6 85.9,104.6 86.1,104.6 86.3,104.6 86.5,104.6 86.7,104.6 86.9,104.6 87.1,104.6 87.3,104.6 87.5,104.6 87.7,104.6 87.9,104.6 88.1,104.6 88.3,104.6 88.5,104.6 88.7,104.6 88.9,104.6 89.1,104.6 89.3,104.6 89.5,104.6 89.7,104.6 89.9,104.6 90.1,104.6 90.3,104.6 90.5,104.6 90.7,104.6 90.9,104.6 91.1,104.6 91.3,104.6 91.5,104.5 91.7,104.4 91.9,104.3 92.1,104.1 92.3,103.9 92.5,103.9 92.5,103.9 92.7,103.9 92.9,104.1 93.1,104.3 93.3,104.5 93.5,104.5 93.7,104.6 93.9,104.6 94.1,104.6 94.3,104.6 94.5,104.6 94.7,104.6 94.9,104.6 95.1,104.6 95.3,104.6 95.5,104.6 95.7,104.6 95.9,104.6 96.1,104.5 96.3,104.4 96.5,104.3 96.7,104.2 96.9,104.2 96.9,104.2 97.1,104.2 97.3,104.3 97.5,104.4 97.7,104.4 97.9,104.3 98.1,104.1 98.3,104.0 98.4,104.0 98.5,104.0 98.7,104.0 98.9,104.0 99.1,103.9 99.3,103.5 99.5,103.0 99.7,102.5 99.9,102.2 100.0,102.2 100.1,102.2 100.3,102.5 100.5,103.0 100.7,103.4 100.9,103.6 101.1,103.6 101.3,103.6 101.5,103.6 101.5,103.6 101.7,103.8 101.9,104.0 102.1,104.3 102.3,104.4 102.5,104.5 102.7,104.6 102.9,104.6 103.1,104.6 103.3,104.6 103.5,104.6 103.7,104.6 103.9,104.6 104.1,104.6 104.3,104.6 104.5,104.6 104.7,104.6 104.9,104.6 105.1,104.6 105.3,104.6 105.5,104.6 105.7,104.6 105.9,104.6 106.1,104.6 106.3,104.6 106.5,104.6 106.7,104.6 106.9,104.6 107.1,104.6 107.3,104.5 107.5,104.4 107.7,104.2 107.9,103.9 108.1,103.7 108.3,103.5 108.3,103.5 108.5,103.6 108.7,103.8 108.9,104.0 109.1,104.1 109.3,104.1 109.5,104.0 109.7,103.9 109.7,103.9 109.9,104.0 110.1,104.2 110.3,104.4 110.5,104.5 110.7,104.5 110.9,104.5 111.1,104.5 111.3,104.4 111.5,104.3 111.7,104.2 111.9,104.1 111.9,104.1 112.1,104.2 112.3,104.3 112.5,104.4 112.7,104.5 112.9,104.6 113.1,104.6 113.3,104.6 113.5,104.6 113.7,104.6 113.9,104.6 114.1,104.6 114.3,104.6 114.5,104.6 114.7,104.6 114.9,104.6 115.1,104.6 115.3,104.6 115.5,104.5 115.7,104.4 115.9,104.3 116.1,104.0 116.3,103.8 116.5,103.7 116.5,103.7 116.7,103.8 116.9,104.0 117.1,104.2 117.3,104.4 117.5,104.5 117.7,104.6 117.9,104.6 118.1,104.6 118.3,104.6 118.5,104.6 118.7,104.6 118.9,104.6 119.1,104.6 119.3,104.6 119.5,104.6 119.7,104.6 119.9,104.6 120.1,104.6 120.3,104.6 120.5,104.6 120.7,104.6 120.9,104.6 121.1,104.6 121.3,104.6 121.5,104.6 121.7,104.6 121.9,104.6 122.1,104.6 122.3,104.6 122.5,104.6 122.7,104.5 122.9,104.3 123.1,104.2 123.3,104.0 123.5,103.9 123.5,103.9 123.7,103.9 123.9,104.1 124.1,104.3 124.3,104.4 124.5,104.5 124.7,104.5 124.9,104.5 125.1,104.4 125.3,104.1 125.5,103.9 125.7,103.6 125.9,103.5 125.9,103.5 126.1,103.5 126.3,103.6 126.5,103.6 126.7,103.6 126.7,103.6 126.9,103.7 127.0,103.7 127.1,103.8 127.3,104.0 127.5,104.2 127.7,104.3 127.9,104.2 128.1,104.0 128.3,103.8 128.5,103.6 128.6,103.6 128.7,103.7 128.9,103.9 129.1,104.1 129.3,104.4 129.5,104.5 129.7,104.6 129.9,104.6 130.1,104.6 130.3,104.6 130.5,104.6 130.7,104.6 130.9,104.6 131.1,104.6 131.3,104.6 131.5,104.6 131.7,104.6 131.9,104.6 132.1,104.6 132.3,104.6 132.5,104.6 132.7,104.6 132.9,104.6 133.1,104.6 133.3,104.6 133.5,104.5 133.7,104.5 133.9,104.3 134.1,104.2 134.3,104.1 134.3,104.1 134.5,104.1 134.7,104.1 134.7,104.1 134.9,104.2 135.1,104.3 135.3,104.3 135.5,104.1 135.7,103.9 135.9,103.7 136.0,103.6 136.1,103.6 136.3,103.5 136.5,103.6 136.7,103.7 136.8,103.7 136.9,103.9 137.1,104.1 137.3,104.3 137.5,104.4 137.7,104.5 137.9,104.5 138.1,104.4 138.3,104.3 138.5,104.0 138.7,103.8 138.9,103.7 138.9,103.7 139.1,103.8 139.3,104.0 139.5,104.2 139.7,104.4 139.9,104.5 140.1,104.6 140.3,104.6 140.5,104.5 140.7,104.3 140.9,104.1 141.1,103.8 141.3,103.6 141.4,103.5 141.5,103.5 141.5,103.5 141.7,103.6 141.9,103.7 142.1,103.8 142.3,103.7 142.5,103.6 142.6,103.6 142.7,103.6 142.9,103.7 143.1,104.0 143.3,104.1 143.5,104.1 143.7,104.0 143.9,103.7 144.1,103.5 144.2,103.4 144.3,103.4 144.5,103.4 144.7,103.4 144.9,103.3 145.1,103.1 145.3,102.9 145.5,103.0 145.5,103.0 145.7,103.3 145.9,103.8 145.9,103.8 146.1,104.2 146.3,104.4 146.5,104.6 146.7,104.6 146.9,104.6 147.1,104.6 147.3,104.5 147.5,104.4 147.7,104.2 147.9,103.9 148.1,103.7 148.3,103.5 148.3,103.5 148.5,103.6 148.7,103.8 148.9,104.1 149.1,104.4 149.3,104.5 149.5,104.5 149.7,104.4 149.9,104.2 150.0,104.1 150.1,104.0 150.2,103.9 150.3,103.9 150.5,104.0 150.7,104.2 150.9,104.3 151.1,104.5 151.3,104.6 151.5,104.6 151.7,104.6 151.9,104.6 152.1,104.6 152.3,104.6 152.5,104.6 152.7,104.6 152.9,104.6 153.1,104.6 153.3,104.5 153.5,104.4 153.7,104.2 153.9,104.0 154.1,103.9 154.1,103.9 154.2,103.9 154.3,104.0 154.4,104.1 154.5,104.2 154.7,104.4 154.9,104.5 155.1,104.6 155.3,104.6 155.5,104.6 155.7,104.6 155.9,104.5 156.1,104.4 156.3,104.2 156.5,103.9 156.7,103.6 156.9,103.4 156.9,103.4 157.1,103.5 157.3,103.8 157.5,104.1 157.7,104.3 157.9,104.4 158.1,104.3 158.3,104.1 158.5,103.9 158.7,103.8 158.7,103.8 158.9,103.9 159.1,104.0 159.3,104.3 159.5,104.4 159.7,104.5 159.9,104.6 160.1,104.6 160.3,104.6 160.5,104.6 160.7,104.6 160.9,104.6 161.1,104.6 161.3,104.6 161.5,104.6 161.7,104.6 161.9,104.6 162.1,104.6 162.3,104.5 162.5,104.4 162.7,104.3 162.9,104.2 163.1,104.2 163.1,104.2 163.3,104.2 163.5,104.3 163.7,104.4 163.9,104.5 164.1,104.6 164.3,104.6 164.5,104.6 164.7,104.6 164.9,104.6 165.1,104.6 165.3,104.6 165.5,104.6 165.7,104.6 165.9,104.6 166.1,104.6 166.3,104.6 166.5,104.6 166.7,104.6 166.9,104.6 167.1,104.5 167.3,104.5 167.5,104.3 167.7,104.1 167.9,103.9 168.1,103.9 168.1,103.9 168.3,103.9 168.5,104.1 168.7,104.3 168.9,104.5 169.1,104.5 169.3,104.6 169.5,104.6 169.7,104.6 169.9,104.6 170.1,104.6 170.3,104.6 170.5,104.6 170.7,104.6 170.9,104.6 171.1,104.6 171.3,104.6 171.5,104.6 171.7,104.6 171.9,104.6 172.1,104.6 172.3,104.6 172.5,104.6 172.7,104.6 172.9,104.6 173.1,104.6 173.3,104.5 173.5,104.3 173.7,104.0 173.9,103.7 174.1,103.6 174.2,103.5 174.3,103.6 174.5,103.8 174.7,104.1 174.9,104.3 175.1,104.5 175.3,104.6 175.5,104.6 175.7,104.6 175.9,104.6 176.1,104.6 176.3,104.6 176.5,104.6 176.7,104.6 176.9,104.6 177.1,104.6 177.3,104.5 177.5,104.5 177.7,104.3 177.9,104.1 178.1,103.8 178.3,103.7 178.3,103.7 178.5,103.8 178.7,104.0 178.9,104.2 179.1,104.4 179.3,104.5 179.5,104.5 179.7,104.3 179.9,104.1 180.1,103.8 180.3,103.6 180.4,103.6 180.5,103.6 180.7,103.8 180.9,104.0 181.1,104.3 181.3,104.4 181.5,104.4 181.7,104.3 181.9,104.1 182.1,103.9 182.3,103.7 182.3,103.7 182.5,103.6 182.7,103.5 182.9,103.6 182.9,103.6 183.1,103.7 183.3,104.0 183.5,104.2 183.7,104.4 183.9,104.5 184.1,104.6 184.3,104.5 184.5,104.4 184.7,104.3 184.9,104.1 185.1,103.8 185.3,103.8 185.3,103.8 185.5,103.8 185.7,104.0 185.9,104.3 186.1,104.4 186.3,104.5 186.5,104.6 186.7,104.6 186.9,104.5 187.1,104.4 187.3,104.3 187.5,104.2 187.7,104.1 187.7,104.1 187.9,104.2 188.1,104.3 188.3,104.4 188.5,104.4 188.7,104.4 188.9,104.2 189.1,104.0 189.3,103.7 189.5,103.6 189.5,103.6 189.7,103.6 189.9,103.6 190.1,103.7 190.2,103.8 190.3,103.9 190.5,104.1 190.7,104.3 190.9,104.4 191.1,104.5 191.3,104.6 191.5,104.6 191.7,104.6 191.9,104.6 192.1,104.6 192.3,104.6 192.5,104.6 192.7,104.5 192.9,104.4 193.1,104.3 193.3,104.2 193.4,104.2 193.5,104.2 193.7,104.3 193.9,104.4 194.1,104.4 194.3,104.4 194.5,104.2 194.7,103.9 194.9,103.7 195.1,103.7 195.1,103.7 195.3,103.8 195.5,104.0 195.7,104.3 195.9,104.4 196.1,104.5 196.3,104.6 196.5,104.6 196.7,104.6 196.9,104.6 197.1,104.6 197.3,104.6 197.5,104.5 197.7,104.4 197.9,104.3 198.1,104.2 198.3,104.1 198.4,104.1 198.5,104.1 198.7,104.2 198.9,104.4 199.1,104.5 199.3,104.5 199.5,104.5 199.7,104.4 199.9,104.3 200.1,104.1 200.3,104.0 200.4,104.0 200.5,104.0 200.7,104.1 200.9,104.3 201.1,104.4 201.3,104.5 201.5,104.6 201.7,104.6 201.9,104.6 202.1,104.6 202.3,104.6 202.5,104.6 202.7,104.6 202.9,104.6 203.1,104.6 203.3,104.6 203.5,104.6 203.7,104.5 203.9,104.4 204.1,104.3 204.3,104.1 204.5,103.9 204.7,103.9 204.7,103.9 204.9,103.9 205.1,104.1 205.3,104.3 205.5,104.5 205.7,104.6 205.9,104.6 206.1,104.6 206.3,104.6 206.5,104.6 206.7,104.6 206.9,104.6 207.1,104.6 207.3,104.6 207.5,104.6 207.7,104.6 207.9,104.6 208.1,104.6 208.3,104.6 208.5,104.6 208.7,104.6 208.9,104.6 209.1,104.6 209.3,104.6 209.5,104.6 209.7,104.6 209.9,104.5 210.1,104.4 210.3,104.1 210.5,103.9 210.7,103.7 210.8,103.6 210.9,103.7 211.1,103.8 211.3,104.1 211.5,104.3 211.7,104.5 211.9,104.6 212.1,104.6 212.3,104.6 212.5,104.6 212.7,104.6 212.9,104.6 213.1,104.6 213.3,104.6 213.5,104.6 213.7,104.6 213.9,104.6 214.1,104.6 214.3,104.6 214.5,104.6 214.7,104.6 214.9,104.6 215.1,104.6 215.3,104.6 215.5,104.6 215.7,104.6 215.9,104.6 216.1,104.6 216.3,104.6 216.5,104.6 216.7,104.6 216.9,104.6 217.1,104.6 217.3,104.6 217.5,104.6 217.7,104.6 217.9,104.6 218.1,104.6 218.3,104.6 218.5,104.6 218.7,104.6 218.9,104.6 219.1,104.6 219.3,104.6 219.5,104.6 219.7,104.6 219.9,104.6 220.1,104.6 220.3,104.6 220.5,104.6 220.7,104.6 220.9,104.6 221.1,104.6 221.3,104.6 221.5,104.6 221.7,104.6 221.9,104.6 222.1,104.6 222.3,104.5 222.5,104.5 222.7,104.3 222.9,104.1 223.1,103.9 223.2,103.9 223.3,103.8 223.5,103.7 223.6,103.7 223.7,103.7 223.7,103.7 223.9,103.8 224.1,104.0 224.3,104.3 224.5,104.4 224.7,104.5 224.9,104.6 225.1,104.6 225.3,104.6 225.5,104.6 225.7,104.6 225.9,104.6 226.1,104.6 226.3,104.6 226.5,104.6 226.7,104.5 226.9,104.5 227.1,104.3 227.3,104.2 227.5,104.1 227.6,104.1 227.7,104.1 227.9,104.2 228.1,104.3 228.3,104.5 228.5,104.5 228.7,104.6 228.9,104.6 229.1,104.6 229.3,104.6 229.5,104.6 229.7,104.6 229.9,104.6 230.1,104.5 230.3,104.3 230.5,104.1 230.7,103.8 230.9,103.6 231.0,103.6 231.1,103.6 231.3,103.6 231.5,103.8 231.7,104.0 231.9,104.1 232.0,104.1 232.1,104.2 232.3,104.3 232.5,104.4 232.7,104.5 232.9,104.6 233.1,104.6 233.3,104.6 233.5,104.6 233.7,104.6 233.9,104.6 234.1,104.6 234.3,104.6 234.5,104.6 234.7,104.6 234.9,104.6 235.1,104.5 235.3,104.3 235.5,104.0 235.7,103.7 235.9,103.5 236.0,103.4 236.1,103.4 236.3,103.6 236.5,103.9 236.7,104.2 236.9,104.4 237.1,104.5 237.3,104.6 237.5,104.6 237.7,104.6 237.9,104.6 238.1,104.6 238.3,104.6 238.5,104.6 238.7,104.6 238.9,104.6 239.1,104.6 239.3,104.6 239.5,104.6 239.7,104.6 239.9,104.6 240.1,104.6 240.3,104.6 240.5,104.6 240.7,104.6 240.9,104.6 241.1,104.6 241.3,104.5 241.5,104.5 241.7,104.3 241.9,104.1 242.1,103.7 242.3,103.2 242.5,102.5 242.7,101.7 242.9,100.9 243.1,100.2 243.3,99.8 243.4,99.8 243.5,99.8 243.7,100.2 243.9,100.9 244.1,101.7 244.3,102.5 244.5,103.2 244.7,103.7 244.9,104.1 245.1,104.3 245.3,104.5 245.5,104.5 245.7,104.6 245.9,104.6 246.1,104.6 246.3,104.6 246.5,104.6 246.7,104.6 246.9,104.6 247.1,104.6 247.3,104.6 247.5,104.6 247.7,104.6 247.9,104.6 248.1,104.6 248.3,104.6 248.5,104.6 248.7,104.6 248.9,104.6 249.1,104.6 249.3,104.6 249.5,104.6 249.7,104.6 249.9,104.6 250.1,104.4 250.3,104.0 250.5,102.8 250.7,100.6 250.9,97.1 251.1,93.3 251.3,90.7 251.4,90.3 251.5,90.7 251.7,93.3 251.9,97.1 252.1,100.6 252.3,102.8 252.5,104.0 252.7,104.4 252.9,104.6 253.1,104.6 253.3,104.6 253.5,104.6 253.7,104.6 253.9,104.6 254.1,104.6 254.3,104.6 254.5,104.6 254.7,104.6 254.9,104.6 255.1,104.6 255.3,104.6 255.5,104.6 255.7,104.6 255.9,104.6 256.1,104.6 256.3,104.6 256.5,104.6 256.7,104.6 256.9,104.6 257.1,104.6 257.3,104.6 257.5,104.6 257.7,104.6 257.9,104.6 258.1,104.6 258.3,104.6 258.5,104.6 258.7,104.6 258.9,104.6 259.1,104.6 259.3,104.6 259.5,104.6 259.7,104.6 259.9,104.6 260.1,104.5 260.3,104.5 260.5,104.3 260.7,104.1 260.9,103.8 261.1,103.5 261.3,103.0 261.5,102.6 261.7,102.2 261.9,102.0 262.0,102.0 262.1,102.0 262.3,102.2 262.5,102.6 262.7,103.0 262.9,103.5 263.1,103.8 263.3,104.1 263.5,104.3 263.7,104.5 263.9,104.5 264.1,104.6 264.3,104.6 264.5,104.6 264.7,104.6 264.9,104.6 265.1,104.6 265.3,104.6 265.5,104.6 265.7,104.6 265.9,104.6 266.1,104.5 266.3,104.4 266.5,104.2 266.7,103.9 266.9,103.5 267.1,103.0 267.3,102.4 267.5,101.8 267.7,101.3 267.9,101.0 268.0,101.0 268.1,101.0 268.3,101.3 268.5,101.8 268.7,102.4 268.9,103.0 269.1,103.5 269.3,103.9 269.5,104.2 269.7,104.4 269.9,104.5 270.1,104.4 270.3,104.3 270.5,104.1 270.7,103.8 270.9,103.2 271.1,102.6 271.3,101.8 271.5,101.0 271.7,100.4 271.9,100.0 272.0,100.0 272.1,100.0 272.3,100.4 272.5,101.0 272.7,101.8 272.9,102.6 273.1,103.2 273.3,103.8 273.5,104.1 273.7,104.4 273.9,104.5 274.1,104.5 274.3,104.6 274.5,104.6 274.7,104.6 274.9,104.4 275.1,103.5 275.3,100.5 275.5,93.3 275.7,80.4 275.9,64.2 276.1,52.5 276.2,50.8 276.3,52.5 276.5,64.2 276.7,80.4 276.9,93.3 277.1,100.5 277.3,103.4 277.5,104.2 277.7,104.1 277.9,103.6 278.1,102.6 278.3,101.0 278.5,99.1 278.7,97.3 278.9,96.2 279.0,96.0 279.1,96.2 279.3,97.3 279.5,99.1 279.7,101.0 279.9,102.6 280.1,103.6 280.3,104.1 280.5,104.3 280.7,104.2 280.9,103.7 281.1,102.8 281.3,101.4 281.5,99.7 281.7,98.1 281.9,97.1 282.0,97.0 282.1,97.1 282.3,98.1 282.5,99.7 282.7,101.4 282.9,102.8 283.1,103.7 283.3,104.2 283.5,104.5 283.7,104.6 283.9,104.6 284.1,104.6 284.3,104.6 284.5,104.5 284.7,104.3 284.9,104.0 285.1,103.3 285.3,102.3 285.5,101.0 285.7,99.8 285.9,99.1 286.0,99.0 286.1,99.1 286.3,99.8 286.5,101.0 286.7,102.3 286.9,103.3 287.1,104.0 287.3,104.3 287.5,104.5 287.7,104.6 287.9,104.6 288.1,104.6 288.3,104.6 288.5,104.5 288.7,104.4 288.9,104.1 289.1,103.5 289.3,102.7 289.5,101.7 289.7,100.7 289.9,100.1 290.0,100.0 290.1,100.1 290.3,100.7 290.5,101.7 290.7,102.7 290.9,103.5 291.1,104.1 291.3,104.4 291.5,104.5 291.7,104.6 291.9,104.6 292.1,104.6 292.3,104.6 292.5,104.6 292.7,104.6 292.9,104.6 293.1,104.6 293.3,104.5 293.5,104.3 293.7,104.0 293.9,103.5 294.1,102.7 294.3,101.7 294.5,100.6 294.7,99.6 294.9,99.1 295.0,99.0 295.1,99.1 295.3,99.6 295.5,100.6 295.7,101.7 295.9,102.7 296.1,103.5 296.3,104.0 296.5,104.2 296.7,104.2 296.9,103.9 297.1,103.0 297.3,101.4 297.5,99.0 297.7,95.9 297.9,93.0 298.1,91.2 298.2,91.0 298.3,91.2 298.5,92.8 298.7,95.2 298.9,97.2 299.1,97.8 299.3,96.6 299.5,94.0 299.7,91.1 299.9,89.2 300.0,89.0 300.1,89.3 300.3,91.4 300.5,94.7 300.7,98.1 300.9,101.0 301.1,102.8 301.3,103.8 301.5,104.3 301.7,104.5 301.9,104.6 302.1,104.5 302.3,104.3 302.5,103.3 302.7,100.0 302.9,91.8 303.1,77.1 303.3,58.8 303.5,45.5 303.6,43.6 303.7,45.5 303.9,58.8 304.1,77.1 304.3,91.6 304.5,99.0 304.7,100.3 304.9,97.1 305.1,90.9 305.3,84.5 305.5,81.8 305.5,81.8 305.7,84.5 305.9,90.7 306.1,96.5 306.3,99.1 306.5,97.2 306.7,91.1 306.9,82.3 307.1,74.2 307.3,70.9 307.3,70.9 307.5,74.2 307.7,82.3 307.9,91.3 308.1,98.1 308.3,102.0 308.5,103.7 308.7,104.1 308.9,103.6 309.1,101.8 309.3,98.2 309.5,92.6 309.7,86.5 309.9,82.4 310.0,81.8 310.1,82.4 310.3,86.5 310.5,92.6 310.7,98.2 310.9,101.8 311.1,103.6 311.3,104.3 311.5,104.5 311.7,104.6 311.9,104.5 312.1,104.4 312.3,104.0 312.5,103.3 312.7,102.2 312.9,100.6 313.1,98.9 313.3,97.5 313.5,97.0 313.5,97.0 313.7,97.5 313.9,98.9 314.1,100.6 314.3,102.2 314.5,103.3 314.7,104.0 314.9,104.4 315.1,104.5 315.3,104.6 315.5,104.6 315.7,104.6 315.9,104.5 316.1,104.3 316.3,103.6 316.5,102.0 316.7,99.2 316.9,95.5 317.1,92.2 317.3,90.9 317.3,90.9 317.5,92.2 317.7,95.5 317.9,99.2 318.1,102.0 318.3,103.6 318.5,104.2 318.7,104.4 318.9,104.1 319.1,103.4 319.3,101.8 319.5,99.3 319.7,96.6 319.9,94.8 320.0,94.5 320.1,94.8 320.3,96.6 320.5,99.3 320.7,101.8 320.9,103.4 321.1,104.2 321.3,104.5 321.5,104.6 321.7,104.6 321.9,104.6 322.1,104.6 322.3,104.4 322.5,104.0 322.7,102.8 322.9,100.5 323.1,96.9 323.3,93.0 323.5,90.4 323.6,90.0 323.7,90.4 323.9,93.0 324.1,96.9 324.3,100.5 324.5,102.8 324.7,104.0 324.9,104.4 325.1,104.4 325.3,104.1 325.5,103.1 325.7,101.2 325.9,98.4 326.1,95.2 326.3,93.0 326.4,92.7 326.5,93.0 326.7,95.2 326.9,98.4 327.1,101.2 327.3,103.1 327.5,103.7 327.7,102.9 327.9,99.8 328.1,93.0 328.3,82.7 328.5,72.6 328.7,68.2 328.7,68.2 328.9,72.6 329.1,82.7 329.3,93.0 329.5,99.9 329.7,103.1 329.9,104.2 330.1,104.5 330.3,104.6 330.5,104.6 330.7,104.6 330.9,104.4 331.1,103.9 331.3,102.1 331.5,97.5 331.7,89.4 331.9,79.3 332.1,71.9 332.2,70.8 332.3,71.8 332.5,78.7 332.7,87.3 332.9,91.6 333.1,89.4 333.3,82.8 333.5,77.2 333.6,76.4 333.7,77.3 333.9,83.5 334.1,91.9 334.3,98.7 334.5,102.5 334.7,104.0 334.9,104.4 335.1,104.4 335.3,104.0 335.5,102.8 335.7,100.5 335.9,96.9 336.1,93.0 336.3,90.4 336.4,90.0 336.5,90.4 336.7,93.0 336.9,96.9 337.1,100.5 337.3,102.8 337.5,104.0 337.7,104.4 337.9,104.6 338.1,104.6 338.3,104.6 338.5,104.5 338.7,104.3 338.9,103.8 339.1,103.1 339.3,101.9 339.5,100.4 339.7,99.0 339.9,98.1 340.0,98.0 340.1,98.1 340.3,99.0 340.5,100.4 340.7,101.9 340.9,103.1 341.1,103.8 341.3,104.3 341.5,104.5 341.7,104.6 341.9,104.6 342.1,104.6 342.3,104.6 342.5,104.6 342.7,104.6 342.9,104.6 343.1,104.6 343.3,104.6 343.5,104.6 343.7,104.6 343.9,104.6 344.1,104.5 344.3,104.2 344.5,102.9 344.7,99.2 344.9,91.3 345.1,79.4 345.3,67.7 345.5,62.7 345.5,62.7 345.7,67.7 345.9,79.3 346.1,90.8 346.3,97.6 346.5,99.0 346.7,96.2 346.9,91.2 347.1,86.5 347.3,84.5 347.3,84.5 347.5,86.5 347.7,91.3 347.9,96.7 348.1,100.8 348.3,103.1 348.5,104.1 348.7,104.5 348.9,104.6 349.1,104.6 349.3,104.6 349.5,104.5 349.7,104.2 349.9,103.2 350.1,101.1 350.3,97.4 350.5,92.6 350.7,88.2 350.9,86.4 350.9,86.4 351.1,88.2 351.3,92.5 351.5,97.2 351.7,100.4 351.9,101.5 352.1,100.6 352.3,98.5 352.5,96.4 352.7,95.5 352.7,95.5 352.9,96.4 353.1,98.6 353.3,101.0 353.5,102.9 353.7,103.9 353.9,104.4 354.1,104.5 354.3,104.6 354.5,104.5 354.7,104.4 354.9,104.1 355.1,103.5 355.3,102.7 355.5,101.7 355.7,100.7 355.9,100.1 356.0,100.0 356.1,100.1 356.3,100.7 356.5,101.7 356.7,102.7 356.9,103.5 357.1,104.1 357.3,104.4 357.5,104.5 357.7,104.6 357.9,104.6 358.1,104.6 358.3,104.6 358.5,104.5 358.7,104.2 358.9,102.8 359.1,98.1 359.3,86.6 359.5,65.9 359.7,40.1 359.9,21.4 360.0,18.7 360.1,21.4 360.3,40.1 360.5,65.9 360.7,86.5 360.9,97.8 361.1,101.8 361.3,102.1 361.5,100.5 361.7,98.6 361.9,97.2 362.0,97.0 362.1,97.2 362.3,98.6 362.5,100.6 362.7,102.5 362.9,103.7 363.1,104.3 363.3,104.5 363.5,104.6 363.7,104.6 363.9,104.6 364.1,104.6 364.3,104.6 364.5,104.6 364.7,104.6 364.9,104.6 365.1,104.6 365.3,104.6 365.5,104.6 365.7,104.6 365.9,104.6 366.1,104.6 366.3,104.6 366.5,104.6 366.7,104.6 366.9,104.6 367.1,104.6 367.3,104.6 367.5,104.6 367.7,104.6 367.9,104.6 368.1,104.6 368.3,104.6 368.5,104.6 368.7,104.6 368.9,104.6 369.1,104.6 369.3,104.6 369.5,104.6 369.7,104.6 369.9,104.6 370.1,104.6 370.3,104.6 370.5,104.6 370.7,104.6 370.9,104.6 371.1,104.6 371.3,104.6 371.5,104.6 371.7,104.6 371.9,104.6 372.1,104.6 372.3,104.4 372.5,103.8 372.7,102.2 372.9,98.8 373.1,93.6 373.3,88.4 373.5,86.2 373.5,86.2 373.7,88.4 373.9,93.6 374.1,98.8 374.3,102.2 374.5,103.8 374.7,104.4 374.9,104.6 375.1,104.6 375.3,104.6 375.5,104.6 375.7,104.5 375.9,104.3 376.1,103.3 376.3,100.4 376.5,94.4 376.7,85.3 376.9,76.3 377.1,72.5 377.1,72.5 377.3,76.3 377.5,85.3 377.7,94.4 377.9,100.4 378.1,103.3 378.3,104.3 378.5,104.5 378.7,104.6 378.9,104.6 379.1,104.6 379.3,104.6 379.5,104.6 379.7,104.5 379.9,104.2 380.1,103.3 380.3,100.9 380.5,96.7 380.7,91.4 380.9,87.5 381.0,87.0 381.1,87.5 381.3,91.3 381.5,96.1 381.7,99.0 381.9,97.9 382.1,92.7 382.3,85.3 382.5,79.8 382.6,79.0 382.7,79.8 382.9,85.4 383.1,93.1 383.3,99.2 383.5,102.7 383.7,104.1 383.9,104.5 384.1,104.6 384.3,104.5 384.5,104.4 384.7,104.1 384.9,103.7 385.1,103.3 385.3,103.1 385.3,103.1 385.5,103.1 385.7,103.2 385.7,103.3 385.9,103.7 386.1,104.0 386.3,104.3 386.5,104.4 386.7,104.4 386.9,104.3 387.1,104.0 387.3,103.8 387.5,103.6 387.6,103.6 387.7,103.6 387.7,103.7 387.9,103.9 388.1,104.1 388.3,104.3 388.5,104.2 388.7,104.0 388.9,103.6 389.1,103.2 389.3,103.0 389.3,103.0 389.5,103.0 389.5,103.1 389.7,103.3 389.9,103.7 390.1,104.0 390.3,104.0 390.5,103.9 390.7,103.6 390.9,103.5 391.0,103.4 391.1,103.5 391.3,103.7 391.5,104.0 391.7,104.3 391.9,104.5 392.1,104.6 392.3,104.6 392.5,104.6 392.7,104.6 392.9,104.5 393.1,104.4 393.3,104.2 393.5,103.9 393.7,103.6 393.9,103.5 393.9,103.5 394.1,103.6 394.3,103.8 394.5,104.1 394.7,104.4 394.9,104.5 395.1,104.6 395.3,104.6 395.5,104.6 395.7,104.6 395.9,104.6 396.1,104.6 396.3,104.6 396.5,104.6 396.7,104.6 396.9,104.6 397.1,104.6 397.3,104.6 397.5,104.6 397.7,104.6 397.9,104.6 398.1,104.6 398.3,104.6 398.5,104.6 398.7,104.6 398.9,104.6 399.1,104.6 399.3,104.6 399.5,104.6 399.7,104.6 399.9,104.6 400.1,104.6 400.3,104.6 400.5,104.6 400.7,104.6 400.9,104.6 401.1,104.6 401.3,104.6 401.5,104.6 401.7,104.6 401.9,104.6 402.1,104.6 402.3,104.6 402.5,104.6 402.7,104.6 402.9,104.6 403.1,104.6 403.3,104.6 403.5,104.6 403.7,104.6 403.9,104.5 404.1,104.4 404.3,104.2 404.5,103.8 404.7,103.5 404.9,103.2 405.0,103.2 405.1,103.2 405.3,103.5 405.5,103.9 405.7,104.2 405.9,104.4 406.1,104.5 406.3,104.5 406.5,104.4 406.7,104.1 406.9,103.8 407.1,103.5 407.3,103.4 407.3,103.3 407.5,103.4 407.7,103.7 407.9,104.1 408.1,104.3 408.3,104.5 408.5,104.5 408.7,104.5 408.9,104.5 409.1,104.3 409.3,104.1 409.5,103.8 409.7,103.6 409.7,103.6 409.9,103.4 410.1,103.3 410.3,103.3 410.3,103.3 410.4,103.3 410.5,103.4 410.7,103.7 410.9,104.0 411.1,104.3 411.3,104.5 411.5,104.6 411.7,104.6 411.9,104.6 412.1,104.6 412.3,104.6 412.5,104.6 412.7,104.6 412.9,104.6 413.1,104.6 413.3,104.6 413.5,104.6 413.7,104.5 413.9,104.5 414.1,104.3 414.3,104.0 414.5,103.6 414.7,103.4 414.8,103.3 414.9,103.4 415.1,103.6 415.3,103.9 415.5,104.2 415.7,104.4 415.9,104.5 416.1,104.6 416.3,104.6 416.5,104.6 416.7,104.6 416.9,104.6 417.1,104.6 417.3,104.6 417.5,104.6 417.7,104.6 417.9,104.6 418.1,104.6 418.3,104.6 418.5,104.6 418.7,104.6 418.9,104.6 419.1,104.6 419.3,104.6 419.5,104.6 419.7,104.6 419.9,104.6 420.1,104.6 420.3,104.6 420.5,104.6 420.7,104.5 420.9,104.4 421.1,104.1 421.3,103.9 421.5,103.6 421.7,103.5 421.7,103.5 421.9,103.6 422.1,103.9 422.3,104.2 422.5,104.4 422.7,104.5 422.9,104.5 423.1,104.5 423.3,104.5 423.5,104.5 423.7,104.5 423.9,104.5 424.1,104.5 424.3,104.5 424.5,104.5 424.7,104.5 424.9,104.5 425.1,104.5 425.3,104.5 425.5,104.4 425.7,104.2 425.9,103.9 426.1,103.5 426.3,103.1 426.4,103.0 426.5,102.9 426.7,102.9 426.8,103.0 426.9,103.1 427.1,103.4 427.3,103.5 427.5,103.4 427.7,103.2 427.9,103.1 427.9,103.1 428.1,103.2 428.3,103.6 428.5,103.9 428.7,104.2 428.9,104.3 429.1,104.4 429.3,104.4 429.5,104.4 429.7,104.4 429.9,104.4 430.1,104.4 430.3,104.4 430.5,104.4 430.7,104.4 430.9,104.4 431.1,104.4 431.3,104.4 431.5,104.4 431.7,104.4 431.9,104.4 432.1,104.4 432.3,104.4 432.5,104.4 432.7,104.4 432.9,104.4 433.1,104.4 433.3,104.4 433.5,104.4 433.7,104.4 433.9,104.4 434.1,104.4 434.3,104.4 434.5,104.3 434.7,104.3 434.9,104.2 435.1,104.1 435.3,103.9 435.5,103.7 435.7,103.7 435.7,103.7 435.9,103.7 436.1,103.9 436.3,104.1 436.5,104.2 436.7,104.3 436.9,104.3 437.1,104.3 437.3,104.3 437.5,104.3 437.7,104.3 437.9,104.3 438.1,104.3 438.3,104.3 438.5,104.3 438.7,104.3 438.9,104.3 439.1,104.3 439.3,104.2 439.5,104.2 439.7,104.0 439.9,103.8 440.1,103.6 440.3,103.4 440.4,103.4 440.5,103.4 440.7,103.5 440.9,103.8 441.1,104.0 441.3,104.1 441.5,104.2 441.7,104.2 441.9,104.2 442.1,104.2 442.3,104.2 442.5,104.2 442.7,104.2 442.9,104.2 443.1,104.2 443.3,104.2 443.5,104.2 443.7,104.2 443.9,104.2 444.1,104.2 444.3,104.2 444.5,104.2 444.7,104.2 444.9,104.2 445.1,104.2 445.3,104.2 445.5,104.2 445.7,104.2 445.9,104.2 446.1,104.2 446.3,104.2 446.5,104.1 446.7,104.1 446.9,104.1 447.1,104.1 447.3,104.1 447.5,104.1 447.7,104.1 447.9,104.1 448.1,104.1 448.3,104.1 448.5,104.1 448.7,104.1 448.9,104.1 449.1,104.1 449.3,104.1 449.5,104.1 449.7,104.0 449.9,103.9 450.1,103.7 450.3,103.5 450.5,103.3 450.6,103.3 450.7,103.3 450.9,103.4 451.1,103.6 451.3,103.8 451.5,104.0 451.7,104.0 451.9,104.0 452.1,103.9 452.3,103.7 452.5,103.6 452.7,103.4 452.9,103.3 452.9,103.3 453.1,103.4 453.3,103.6 453.5,103.8 453.7,103.9 453.9,104.0 454.1,104.0 454.3,104.0 454.5,104.0 454.7,103.9 454.9,103.9 455.1,103.8 455.3,103.7 455.5,103.6 455.5,103.6 455.7,103.6 455.9,103.7 456.1,103.8 456.3,103.9 456.5,103.9 456.7,104.0 456.9,104.0 457.1,104.0 457.3,104.0 457.5,104.0 457.7,104.0 457.9,104.0 458.1,104.0 458.3,103.9 458.5,103.9 458.7,103.9 458.9,103.9 459.1,103.9 459.3,103.9 459.5,103.9 459.7,103.9 459.9,103.9 460.1,103.9 460.3,103.9 460.5,103.9 460.7,103.9 460.9,103.9 461.1,103.9 461.3,103.9 461.5,103.9 461.7,103.9 461.9,103.9 462.1,103.9 462.3,103.9 462.5,103.9 462.7,103.9 462.9,103.9 463.1,103.9 463.3,103.9 463.5,103.9 463.7,103.9 463.9,103.9 464.1,103.9 464.3,103.8 464.5,103.8 464.7,103.8 464.9,103.8 465.1,103.7 465.3,103.7 465.5,103.6 465.7,103.5 465.9,103.4 465.9,103.4 466.1,103.4 466.3,103.4 466.5,103.4 466.7,103.3 466.9,103.1 467.1,103.1 467.1,103.1 467.3,103.1 467.5,103.3 467.7,103.5 467.9,103.6 468.1,103.7 468.3,103.8 468.5,103.8 468.7,103.8 468.9,103.7 469.1,103.7 469.3,103.6 469.5,103.5 469.7,103.4 469.8,103.4 469.9,103.4 470.1,103.5 470.3,103.6 470.5,103.7 470.7,103.7 470.9,103.7 471.1,103.7 471.3,103.7 471.5,103.7 471.7,103.7 471.9,103.7 472.1,103.7 472.3,103.7 472.5,103.7 472.7,103.7 472.9,103.7 473.1,103.7 473.3,103.7 473.5,103.7 473.7,103.7 473.9,103.7 474.1,103.7 474.3,103.7 474.5,103.7 474.7,103.7 474.9,103.7 475.1,103.6 475.3,103.6 475.5,103.5 475.7,103.3 475.9,103.2 476.1,103.2 476.1,103.2 476.3,103.2 476.5,103.3 476.7,103.5 476.9,103.5 477.1,103.6 477.3,103.6 477.5,103.6 477.7,103.6 477.9,103.6 478.1,103.6 478.3,103.6 478.5,103.5 478.7,103.5 478.9,103.4 479.1,103.4 479.1,103.4 479.3,103.4 479.5,103.5 479.7,103.5 479.9,103.5 480.1,103.6 480.3,103.6 480.5,103.6 480.7,103.6 480.9,103.6 481.1,103.6 481.3,103.6 481.5,103.6 481.7,103.6 481.9,103.5 482.1,103.5 482.3,103.5 482.5,103.5 482.7,103.5 482.9,103.5 483.1,103.5 483.3,103.5 483.5,103.5 483.7,103.5 483.9,103.5 484.1,103.5 484.3,103.5 484.5,103.5 484.7,103.5 484.9,103.5 485.1,103.5 485.3,103.5 485.5,103.5 485.7,103.5 485.9,103.5 486.1,103.5 486.3,103.5 486.5,103.5 486.7,103.5 486.9,103.5 487.1,103.5 487.3,103.5 487.5,103.6 487.7,103.6 487.7,103.6 487.9,103.6 488.1,103.5 488.3,103.5 488.5,103.5 488.7,103.4 488.9,103.4 489.1,103.4 489.3,103.4 489.5,103.4 489.7,103.4 489.9,103.4 490.1,103.4 490.3,103.4 490.5,103.4 490.7,103.4 490.9,103.4 491.1,103.4 491.3,103.4 491.5,103.4 491.7,103.4 491.9,103.4 492.1,103.3 492.3,103.3 492.5,103.3 492.7,103.2 492.7,103.2 492.9,103.3 493.1,103.3 493.3,103.3 493.5,103.3 493.7,103.3 493.9,103.3 494.1,103.3 494.3,103.3 494.5,103.3 494.7,103.3 494.9,103.3 495.1,103.3 495.3,103.3 495.5,103.4 495.7,103.4 495.9,103.4 496.1,103.5 496.2,103.5 496.3,103.5 496.5,103.4 496.7,103.4 496.9,103.3 497.1,103.3 497.3,103.3 497.5,103.3 497.7,103.3 497.9,103.3 498.1,103.3 498.3,103.3 498.5,103.3 498.7,103.3 498.9,103.3 499.1,103.3 499.3,103.3 499.5,103.2 499.7,103.2 499.9,103.2 500.1,103.2 500.3,103.2 500.5,103.2 500.7,103.2 500.9,103.2 501.1,103.2 501.3,103.2 501.5,103.2 501.7,103.2 501.9,103.2 502.1,103.2 502.3,103.2 502.5,103.2 502.7,103.2 502.9,103.2 503.1,103.2 503.3,103.2 503.5,103.2 503.7,103.1 503.9,103.1 504.1,103.0 504.3,103.0 504.3,103.0 504.5,103.0 504.7,103.1 504.9,103.1 505.1,103.1 505.3,103.1 505.5,103.1 505.7,103.1 505.9,103.1 506.1,103.1 506.3,103.1 506.5,103.1 506.7,103.1 506.9,103.1 507.1,103.1 507.3,103.2 507.5,103.2 507.7,103.3 507.9,103.5 508.1,103.6 508.3,103.7 508.3,103.7 508.5,103.6 508.7,103.5 508.9,103.4 509.1,103.3 509.3,103.3 509.5,103.4 509.7,103.5 509.9,103.6 510.0,103.6 510.0,103.6 510.1,103.6 510.3,103.5 510.5,103.4 510.7,103.2 510.9,103.1 511.1,103.1 511.3,103.1 511.5,103.0 511.7,103.0 511.9,103.0 512.1,103.0 512.3,103.0 512.5,103.0 512.7,103.1 512.9,103.1 513.1,103.1 513.3,103.2 513.5,103.2 513.6,103.2 513.7,103.2 513.9,103.2 514.1,103.1 514.3,103.0 514.5,103.0 514.7,103.0 514.9,103.0 515.1,103.0 515.3,103.1 515.5,103.1 515.7,103.2 515.9,103.2 515.9,103.2 516.1,103.2 516.3,103.1 516.5,103.1 516.7,103.0 516.9,103.1 517.1,103.2 517.3,103.3 517.5,103.5 517.7,103.5 517.7,103.5 517.9,103.4 518.1,103.3 518.3,103.2 518.5,103.1 518.7,103.0 518.9,103.0 519.1,103.0 519.1,103.0 519.3,103.1 519.5,103.1 519.7,103.1 519.9,103.2 520.1,103.3 520.1,103.3 520.3,103.4 520.5,103.5 520.7,103.5 520.8,103.5 520.9,103.4 521.1,103.3 521.3,103.1 521.5,103.0 521.7,102.9 521.9,102.8 522.1,102.7 522.3,102.6 522.5,102.4 522.7,102.2 522.9,101.8 523.1,101.4 523.3,100.7 523.5,99.9 523.7,98.9 523.9,97.8 524.1,96.6 524.3,95.5 524.5,94.5 524.7,93.9 524.9,94.0 525.0,94.4 525.1,95.1 525.3,97.3 525.5,100.2 525.7,102.7 525.8,103.6 525.9,103.7 526.1,103.2 526.3,101.6 526.5,100.0 526.7,99.0 526.9,98.6 527.1,98.6 527.3,98.8 527.5,99.1 527.5,99.1 527.7,99.6 527.9,100.3 528.1,101.4 528.3,102.5 528.5,103.2 528.6,103.2 528.7,103.1 528.9,102.5 529.1,101.6 529.3,100.9 529.5,100.6 529.7,100.6 529.9,100.8 530.1,101.3 530.3,102.0 530.5,102.6 530.7,103.0 530.7,103.0 530.9,103.0 531.1,102.6 531.3,102.1 531.5,101.6 531.7,101.4 531.9,101.3 532.1,101.3 532.3,101.3 532.5,101.3 532.7,101.3 532.9,101.3 533.0,101.3 533.1,101.3 533.3,101.3 533.5,101.3 533.7,101.4 533.9,101.4 534.1,101.4 534.3,101.5 534.5,101.5 534.7,101.6 534.9,101.7 535.1,101.8 535.3,102.0 535.5,102.3 535.7,102.6 535.9,103.0 536.1,103.2 536.1,103.2 536.3,103.2 536.5,102.9 536.7,102.7 536.9,102.4 537.1,102.3 537.3,102.3 537.5,102.3 537.7,102.4 537.9,102.4 538.1,102.6 538.3,102.8 538.5,103.0 538.7,103.2 538.8,103.3 538.9,103.3 539.1,103.2 539.3,103.0 539.5,102.8 539.7,102.6 539.9,102.6 540.1,102.5 540.3,102.5 540.5,102.5 540.7,102.5 540.9,102.5 541.1,102.5 541.3,102.5 541.5,102.5 541.7,102.5 541.9,102.5" fill="none" stroke="#9b1c1c" stroke-width="1.05" stroke-linejoin="round"/>
<polyline clip-path="url(#cp1)" points="43.6,209.2 43.8,209.2 44.0,209.2 44.2,209.2 44.4,209.2 44.6,209.2 44.8,209.2 45.0,209.2 45.2,209.2 45.4,209.2 45.6,209.2 45.8,209.2 46.0,209.2 46.2,209.2 46.4,209.2 46.6,209.2 46.8,209.2 47.0,209.2 47.2,209.2 47.4,209.2 47.6,209.2 47.8,209.2 48.0,209.2 48.2,209.2 48.4,209.2 48.6,209.2 48.8,209.2 49.0,209.2 49.2,209.2 49.4,209.2 49.6,209.2 49.8,209.2 50.0,209.1 50.2,209.0 50.4,208.8 50.6,208.6 50.8,208.4 50.9,208.4 51.0,208.4 51.2,208.6 51.4,208.8 51.6,209.0 51.8,209.1 52.0,209.2 52.2,209.2 52.4,209.2 52.6,209.2 52.8,209.2 53.0,209.2 53.2,209.2 53.4,209.1 53.6,209.0 53.8,208.9 54.0,208.7 54.2,208.5 54.3,208.5 54.4,208.5 54.6,208.4 54.8,208.4 55.0,208.3 55.2,208.4 55.2,208.4 55.4,208.5 55.6,208.7 55.8,208.9 56.0,209.0 56.2,209.1 56.4,209.2 56.6,209.2 56.8,209.2 57.0,209.2 57.2,209.2 57.4,209.2 57.6,209.2 57.8,209.2 58.0,209.2 58.2,209.2 58.4,209.2 58.6,209.2 58.8,209.2 59.0,209.2 59.2,209.2 59.4,209.2 59.6,209.2 59.8,209.2 60.0,209.2 60.2,209.2 60.4,209.2 60.6,209.2 60.8,209.2 61.0,209.2 61.2,209.1 61.4,209.1 61.6,209.0 61.8,208.9 62.0,208.8 62.0,208.8 62.2,208.9 62.4,208.9 62.6,209.0 62.8,209.0 63.0,209.0 63.2,209.0 63.4,208.9 63.5,208.9 63.6,208.9 63.8,208.9 64.0,208.9 64.2,208.8 64.4,208.8 64.5,208.8 64.6,208.8 64.8,208.9 65.0,209.0 65.2,209.1 65.4,209.1 65.6,209.2 65.8,209.1 66.0,209.1 66.2,208.9 66.4,208.8 66.6,208.7 66.7,208.7 66.8,208.8 67.0,208.8 67.2,209.0 67.4,209.1 67.6,209.1 67.8,209.2 68.0,209.2 68.2,209.2 68.4,209.2 68.6,209.2 68.8,209.2 69.0,209.2 69.2,209.2 69.4,209.2 69.6,209.2 69.8,209.2 70.0,209.2 70.2,209.2 70.4,209.2 70.6,209.2 70.8,209.2 71.0,209.2 71.2,209.2 71.4,209.2 71.6,209.1 71.8,209.1 72.0,209.0 72.2,208.8 72.4,208.7 72.6,208.7 72.6,208.7 72.8,208.7 73.0,208.9 73.2,209.0 73.4,209.1 73.6,209.2 73.8,209.2 74.0,209.2 74.2,209.2 74.4,209.2 74.6,209.2 74.8,209.2 75.0,209.2 75.2,209.2 75.4,209.2 75.6,209.2 75.8,209.2 76.0,209.2 76.2,209.2 76.4,209.2 76.6,209.2 76.8,209.2 77.0,209.2 77.2,209.2 77.4,209.2 77.6,209.2 77.8,209.2 78.0,209.2 78.2,209.2 78.4,209.2 78.6,209.2 78.8,209.2 79.0,209.2 79.2,209.2 79.4,209.2 79.6,209.2 79.8,209.2 80.0,209.1 80.2,209.0 80.4,208.8 80.6,208.6 80.8,208.5 80.9,208.5 81.0,208.5 81.2,208.7 81.4,208.9 81.6,209.0 81.8,209.1 82.0,209.2 82.2,209.2 82.4,209.2 82.6,209.2 82.8,209.2 83.0,209.2 83.2,209.2 83.4,209.2 83.6,209.2 83.8,209.2 84.0,209.2 84.2,209.2 84.4,209.2 84.6,209.2 84.8,209.2 85.0,209.2 85.2,209.2 85.4,209.2 85.6,209.2 85.8,209.2 86.0,209.2 86.2,209.2 86.4,209.2 86.6,209.2 86.8,209.2 87.0,209.2 87.2,209.2 87.4,209.2 87.6,209.2 87.8,209.2 88.0,209.2 88.2,209.2 88.4,209.2 88.6,209.2 88.8,209.2 89.0,209.2 89.2,209.2 89.4,209.2 89.6,209.2 89.8,209.2 90.0,209.2 90.2,209.2 90.4,209.2 90.6,209.2 90.8,209.1 91.0,209.0 91.2,209.0 91.4,208.9 91.4,208.9 91.6,208.8 91.8,208.8 92.0,208.7 92.2,208.7 92.3,208.7 92.4,208.8 92.6,208.9 92.8,209.0 93.0,209.1 93.2,209.1 93.4,209.2 93.6,209.2 93.8,209.2 94.0,209.1 94.2,209.0 94.4,209.0 94.6,208.9 94.7,208.9 94.8,208.9 95.0,209.0 95.2,209.1 95.4,209.1 95.6,209.2 95.8,209.2 96.0,209.2 96.2,209.2 96.4,209.2 96.6,209.2 96.8,209.2 97.0,209.2 97.2,209.2 97.4,209.2 97.6,209.2 97.8,209.2 98.0,209.2 98.2,209.2 98.4,209.2 98.6,209.2 98.8,209.2 99.0,209.2 99.2,209.2 99.4,209.2 99.6,209.2 99.8,209.1 100.0,209.1 100.2,209.0 100.4,208.9 100.6,208.8 100.7,208.8 100.8,208.8 101.0,208.8 101.2,209.0 101.4,209.1 101.6,209.1 101.8,209.2 102.0,209.2 102.2,209.2 102.4,209.2 102.6,209.2 102.8,209.2 103.0,209.2 103.2,209.2 103.4,209.1 103.6,209.0 103.8,208.9 104.0,208.7 104.2,208.6 104.3,208.6 104.4,208.6 104.6,208.7 104.8,208.9 104.9,208.9 105.0,209.0 105.2,209.1 105.4,209.2 105.6,209.2 105.8,209.2 106.0,209.2 106.2,209.2 106.4,209.2 106.6,209.2 106.8,209.2 107.0,209.2 107.2,209.2 107.4,209.2 107.6,209.1 107.8,209.1 108.0,209.0 108.2,209.0 108.3,209.0 108.4,209.0 108.6,209.0 108.8,209.1 109.0,209.1 109.2,209.1 109.4,209.0 109.6,208.8 109.8,208.6 110.0,208.5 110.1,208.5 110.2,208.5 110.4,208.7 110.6,208.9 110.8,209.0 111.0,209.1 111.2,209.2 111.4,209.2 111.6,209.2 111.8,209.2 112.0,209.2 112.2,209.2 112.4,209.2 112.6,209.2 112.8,209.2 113.0,209.2 113.2,209.2 113.4,209.2 113.6,209.2 113.8,209.2 114.0,209.2 114.2,209.2 114.4,209.2 114.6,209.2 114.8,209.2 115.0,209.2 115.2,209.2 115.4,209.2 115.6,209.2 115.8,209.1 116.0,209.0 116.2,208.8 116.4,208.6 116.6,208.5 116.7,208.5 116.8,208.5 117.0,208.6 117.2,208.8 117.4,209.0 117.6,209.1 117.8,209.2 118.0,209.2 118.2,209.2 118.4,209.2 118.6,209.2 118.8,209.2 119.0,209.2 119.2,209.2 119.4,209.2 119.6,209.2 119.8,209.2 120.0,209.2 120.2,209.2 120.4,209.2 120.6,209.2 120.8,209.2 121.0,209.2 121.2,209.2 121.4,209.2 121.6,209.2 121.8,209.2 122.0,209.2 122.2,209.2 122.4,209.2 122.6,209.2 122.8,209.2 123.0,209.2 123.2,209.2 123.4,209.2 123.6,209.2 123.8,209.2 124.0,209.2 124.2,209.2 124.4,209.2 124.6,209.2 124.8,209.2 125.0,209.2 125.2,209.2 125.4,209.2 125.6,209.2 125.8,209.1 126.0,209.1 126.2,209.0 126.4,208.9 126.6,208.9 126.6,208.9 126.8,208.9 127.0,209.0 127.2,209.1 127.4,209.1 127.6,209.2 127.8,209.2 128.0,209.2 128.2,209.2 128.4,209.2 128.6,209.2 128.8,209.2 129.0,209.2 129.2,209.2 129.4,209.2 129.6,209.2 129.8,209.2 130.0,209.2 130.2,209.2 130.4,209.1 130.6,209.1 130.8,209.0 131.0,208.9 131.2,208.9 131.2,208.9 131.4,208.9 131.6,209.0 131.8,209.1 132.0,209.1 132.2,209.2 132.4,209.2 132.6,209.2 132.8,209.2 133.0,209.1 133.2,209.0 133.4,208.9 133.6,208.9 133.7,208.8 133.8,208.8 134.0,208.8 134.2,208.7 134.4,208.7 134.6,208.7 134.6,208.7 134.8,208.8 135.0,208.9 135.2,209.0 135.4,209.1 135.6,209.2 135.8,209.2 136.0,209.2 136.2,209.2 136.4,209.2 136.6,209.2 136.8,209.2 137.0,209.2 137.2,209.2 137.4,209.2 137.6,209.2 137.8,209.2 138.0,209.2 138.2,209.2 138.4,209.2 138.6,209.2 138.8,209.2 139.0,209.2 139.2,209.2 139.4,209.2 139.6,209.2 139.8,209.2 140.0,209.2 140.2,209.2 140.4,209.2 140.6,209.2 140.8,209.2 141.0,209.2 141.2,209.2 141.4,209.2 141.6,209.2 141.8,209.2 142.0,209.2 142.2,209.2 142.4,209.2 142.6,209.2 142.8,209.2 143.0,209.2 143.2,209.2 143.4,209.2 143.6,209.1 143.8,209.1 144.0,208.9 144.2,208.8 144.4,208.6 144.6,208.6 144.6,208.6 144.8,208.6 145.0,208.8 145.2,208.9 145.4,209.1 145.6,209.2 145.8,209.2 146.0,209.2 146.2,209.2 146.4,209.2 146.6,209.2 146.8,209.2 147.0,209.2 147.2,209.2 147.4,209.2 147.6,209.2 147.8,209.2 148.0,209.2 148.2,209.2 148.4,209.2 148.6,209.2 148.8,209.2 149.0,209.2 149.2,209.2 149.4,209.2 149.6,209.1 149.8,209.1 150.0,209.0 150.2,208.9 150.4,208.9 150.4,208.9 150.6,208.9 150.8,209.0 151.0,209.1 151.2,209.2 151.4,209.2 151.6,209.2 151.8,209.2 152.0,209.2 152.2,209.2 152.4,209.1 152.6,209.0 152.8,208.9 153.0,208.7 153.2,208.7 153.2,208.6 153.4,208.6 153.6,208.6 153.8,208.7 154.0,208.7 154.1,208.7 154.2,208.8 154.4,208.9 154.6,209.0 154.8,209.1 155.0,209.2 155.2,209.2 155.4,209.2 155.6,209.2 155.8,209.2 156.0,209.2 156.2,209.2 156.4,209.2 156.6,209.2 156.8,209.1 157.0,209.1 157.2,208.9 157.4,208.7 157.6,208.5 157.8,208.4 157.8,208.4 158.0,208.5 158.2,208.7 158.4,208.9 158.6,209.0 158.8,209.1 159.0,209.2 159.2,209.2 159.4,209.2 159.6,209.2 159.8,209.2 160.0,209.1 160.2,209.1 160.4,208.9 160.6,208.8 160.8,208.6 160.8,208.6 161.0,208.5 161.2,208.4 161.3,208.5 161.4,208.5 161.6,208.7 161.8,208.9 162.0,209.1 162.2,209.1 162.4,209.2 162.6,209.2 162.8,209.2 163.0,209.2 163.2,209.2 163.4,209.2 163.6,209.2 163.8,209.2 164.0,209.2 164.2,209.2 164.4,209.2 164.6,209.2 164.8,209.2 165.0,209.2 165.2,209.2 165.4,209.2 165.6,209.2 165.8,209.2 166.0,209.2 166.2,209.2 166.4,209.2 166.6,209.1 166.8,209.0 167.0,208.8 167.2,208.7 167.3,208.7 167.4,208.6 167.4,208.6 167.6,208.7 167.8,208.7 168.0,208.8 168.2,208.8 168.4,208.6 168.6,208.5 168.8,208.5 168.8,208.5 169.0,208.6 169.2,208.8 169.4,208.9 169.6,209.0 169.8,209.0 170.0,208.9 170.2,208.8 170.4,208.6 170.6,208.4 170.7,208.4 170.8,208.5 171.0,208.6 171.2,208.8 171.4,209.0 171.6,209.1 171.8,209.2 172.0,209.2 172.2,209.2 172.4,209.2 172.6,209.2 172.8,209.2 173.0,209.2 173.2,209.2 173.4,209.2 173.6,209.2 173.8,209.2 174.0,209.2 174.2,209.2 174.4,209.2 174.6,209.2 174.8,209.2 175.0,209.2 175.2,209.2 175.4,209.2 175.6,209.2 175.8,209.2 176.0,209.2 176.2,209.2 176.4,209.2 176.6,209.2 176.8,209.2 177.0,209.2 177.2,209.2 177.4,209.1 177.6,208.9 177.8,208.8 178.0,208.6 178.2,208.5 178.2,208.5 178.4,208.5 178.6,208.7 178.8,208.9 179.0,209.0 179.2,209.1 179.4,209.2 179.6,209.2 179.8,209.2 180.0,209.2 180.2,209.2 180.4,209.2 180.6,209.2 180.8,209.2 181.0,209.2 181.2,209.2 181.4,209.2 181.6,209.2 181.8,209.2 182.0,209.2 182.2,209.2 182.4,209.2 182.6,209.2 182.8,209.2 183.0,209.2 183.2,209.2 183.4,209.2 183.6,209.2 183.8,209.2 184.0,209.2 184.2,209.2 184.4,209.2 184.6,209.2 184.8,209.2 185.0,209.2 185.2,209.2 185.4,209.2 185.6,209.2 185.8,209.2 186.0,209.2 186.2,209.2 186.4,209.2 186.6,209.1 186.8,209.1 187.0,208.9 187.2,208.7 187.4,208.5 187.6,208.5 187.6,208.5 187.8,208.5 188.0,208.7 188.2,208.9 188.4,209.1 188.6,209.1 188.8,209.2 189.0,209.2 189.2,209.2 189.4,209.2 189.6,209.2 189.8,209.2 190.0,209.2 190.2,209.2 190.4,209.2 190.6,209.2 190.8,209.2 191.0,209.2 191.2,209.1 191.4,209.0 191.6,209.0 191.7,208.9 191.8,208.9 191.8,208.9 192.0,208.9 192.2,208.9 192.4,209.0 192.6,208.9 192.8,208.9 193.0,208.8 193.2,208.8 193.2,208.8 193.4,208.8 193.6,208.9 193.8,209.0 194.0,209.1 194.2,209.2 194.4,209.2 194.6,209.2 194.8,209.2 195.0,209.2 195.2,209.2 195.4,209.2 195.6,209.2 195.8,209.2 196.0,209.2 196.2,209.2 196.4,209.2 196.6,209.2 196.8,209.2 197.0,209.1 197.2,209.0 197.4,208.8 197.6,208.6 197.8,208.5 197.9,208.4 198.0,208.4 198.2,208.5 198.4,208.7 198.6,208.9 198.8,209.1 199.0,209.2 199.2,209.2 199.4,209.2 199.6,209.2 199.8,209.2 200.0,209.2 200.2,209.2 200.4,209.2 200.6,209.2 200.8,209.2 201.0,209.2 201.2,209.2 201.4,209.2 201.6,209.2 201.8,209.2 202.0,209.2 202.2,209.2 202.4,209.2 202.6,209.2 202.8,209.2 203.0,209.2 203.2,209.2 203.4,209.2 203.6,209.1 203.8,209.0 204.0,208.9 204.1,208.9 204.2,208.8 204.4,208.7 204.5,208.7 204.6,208.8 204.8,208.9 205.0,209.0 205.2,209.1 205.4,209.1 205.6,209.1 205.8,209.0 206.0,208.9 206.1,208.9 206.2,208.9 206.4,209.0 206.6,209.0 206.8,209.1 207.0,209.1 207.2,209.1 207.4,209.0 207.6,208.9 207.8,208.9 207.8,208.9 208.0,209.0 208.2,209.0 208.4,209.1 208.6,209.2 208.8,209.2 209.0,209.2 209.2,209.1 209.4,209.1 209.6,209.0 209.8,208.9 210.0,208.9 210.0,208.9 210.2,208.9 210.4,209.0 210.6,209.1 210.8,209.1 211.0,209.2 211.2,209.2 211.4,209.2 211.6,209.2 211.8,209.2 212.0,209.2 212.2,209.2 212.4,209.2 212.6,209.2 212.8,209.2 213.0,209.2 213.2,209.2 213.4,209.2 213.6,209.2 213.8,209.2 214.0,209.2 214.2,209.2 214.4,209.2 214.6,209.2 214.8,209.2 215.0,209.2 215.2,209.2 215.4,209.2 215.6,209.2 215.8,209.2 216.0,209.2 216.2,209.2 216.4,209.2 216.6,209.2 216.8,209.2 217.0,209.2 217.2,209.2 217.4,209.2 217.6,209.2 217.8,209.2 218.0,209.2 218.2,209.2 218.4,209.1 218.6,209.1 218.8,209.0 218.9,208.9 219.0,208.9 219.2,208.7 219.3,208.7 219.4,208.6 219.5,208.5 219.5,208.5 219.6,208.6 219.8,208.6 220.0,208.8 220.2,209.0 220.4,209.1 220.6,209.2 220.8,209.2 221.0,209.2 221.2,209.2 221.4,209.2 221.6,209.2 221.8,209.2 222.0,209.2 222.2,209.2 222.4,209.2 222.6,209.2 222.8,209.2 223.0,209.2 223.2,209.2 223.4,209.2 223.6,209.2 223.8,209.2 224.0,209.2 224.2,209.2 224.4,209.2 224.6,209.2 224.8,209.2 225.0,209.2 225.2,209.2 225.4,209.2 225.6,209.2 225.8,209.2 226.0,209.2 226.2,209.2 226.4,209.2 226.6,209.2 226.8,209.2 227.0,209.2 227.2,209.2 227.4,209.2 227.6,209.2 227.8,209.2 228.0,209.2 228.2,209.2 228.4,209.2 228.6,209.2 228.8,209.2 229.0,209.2 229.2,209.2 229.4,209.2 229.6,209.2 229.8,209.2 230.0,209.2 230.2,209.2 230.4,209.2 230.6,209.2 230.8,209.2 231.0,209.2 231.2,209.2 231.4,209.2 231.6,209.2 231.8,209.2 232.0,209.2 232.2,209.2 232.4,209.2 232.6,209.2 232.8,209.2 233.0,209.2 233.2,209.2 233.4,209.2 233.6,209.2 233.8,209.2 234.0,209.2 234.2,209.2 234.4,209.2 234.6,209.2 234.8,209.2 235.0,209.2 235.2,209.2 235.4,209.2 235.6,209.2 235.8,209.2 236.0,209.2 236.2,209.1 236.4,209.0 236.6,208.9 236.8,208.7 237.0,208.6 237.1,208.6 237.2,208.6 237.4,208.7 237.6,208.9 237.8,209.0 238.0,209.1 238.2,209.2 238.4,209.2 238.6,209.2 238.8,209.2 239.0,209.2 239.2,209.2 239.4,209.2 239.6,209.2 239.8,209.2 240.0,209.2 240.2,209.2 240.4,209.2 240.6,209.2 240.8,209.2 241.0,209.2 241.2,209.2 241.4,209.2 241.6,209.2 241.8,209.2 242.0,209.0 242.2,208.6 242.4,207.4 242.6,205.1 242.8,201.5 243.0,197.6 243.2,195.0 243.3,194.6 243.4,195.0 243.6,197.6 243.8,201.5 244.0,205.0 244.2,207.1 244.4,208.0 244.6,207.8 244.8,207.0 245.0,205.9 245.2,204.8 245.4,204.1 245.5,204.0 245.6,204.1 245.8,204.8 246.0,205.9 246.2,207.0 246.4,208.0 246.6,208.6 246.8,208.9 247.0,209.1 247.2,209.2 247.4,209.2 247.6,209.1 247.8,209.0 248.0,208.6 248.2,207.6 248.4,206.0 248.6,203.8 248.8,201.8 249.0,201.0 249.0,201.0 249.2,201.8 249.4,203.7 249.6,205.5 249.8,205.6 250.0,201.5 250.2,189.3 250.4,166.8 250.6,138.7 250.8,118.2 250.9,115.3 251.0,118.2 251.2,138.7 251.4,166.8 251.6,189.4 251.8,201.6 252.0,206.0 252.2,206.3 252.4,205.0 252.6,203.6 252.8,203.0 252.8,203.0 253.0,203.6 253.2,205.1 253.4,206.7 253.6,207.7 253.8,207.8 254.0,207.0 254.2,205.4 254.4,203.5 254.6,202.2 254.7,202.0 254.8,202.2 255.0,203.5 255.2,205.4 255.4,207.2 255.6,208.3 255.8,208.9 256.0,209.1 256.2,209.2 256.4,209.2 256.6,209.1 256.8,209.0 257.0,208.7 257.2,208.2 257.4,207.5 257.6,206.8 257.8,206.2 258.0,206.0 258.0,206.0 258.2,206.2 258.4,206.8 258.6,207.5 258.8,208.2 259.0,208.7 259.2,208.9 259.4,209.1 259.6,209.1 259.8,208.9 260.0,208.7 260.2,208.2 260.4,207.5 260.6,206.8 260.8,206.2 261.0,206.0 261.0,206.0 261.2,206.2 261.4,206.8 261.6,207.5 261.8,208.2 262.0,208.7 262.2,209.0 262.4,209.1 262.6,209.2 262.8,209.1 263.0,209.0 263.2,208.5 263.4,207.4 263.6,205.6 263.8,203.1 264.0,200.9 264.2,200.0 264.2,200.0 264.4,200.9 264.6,203.1 264.8,205.6 265.0,207.4 265.2,208.3 265.4,208.4 265.6,207.6 265.8,205.7 266.0,202.8 266.2,199.5 266.4,197.3 266.5,197.0 266.6,197.3 266.8,199.5 267.0,202.6 267.2,205.1 267.4,205.6 267.6,203.4 267.8,198.3 268.0,191.1 268.2,184.6 268.4,181.8 268.4,181.8 268.6,184.3 268.8,190.1 269.0,195.6 269.2,197.5 269.4,195.0 269.6,190.2 269.8,186.5 269.9,185.9 270.0,186.5 270.2,190.3 270.4,195.3 270.6,198.7 270.8,199.0 271.0,197.0 271.2,195.2 271.3,194.9 271.4,195.3 271.6,197.6 271.8,200.4 272.0,201.7 272.2,200.2 272.4,196.4 272.6,192.5 272.8,190.8 272.8,190.8 273.0,192.6 273.2,197.1 273.4,202.0 273.6,205.7 273.8,207.8 274.0,208.7 274.2,209.0 274.4,209.0 274.6,208.7 274.8,208.0 275.0,206.8 275.2,205.1 275.4,203.6 275.6,203.0 275.6,203.0 275.8,203.6 276.0,205.1 276.2,206.7 276.4,207.8 276.6,208.1 276.8,207.6 277.0,206.4 277.2,205.1 277.4,204.1 277.5,204.0 277.6,204.1 277.8,205.1 278.0,206.5 278.2,207.7 278.4,208.6 278.6,209.0 278.8,209.1 279.0,209.2 279.2,209.2 279.4,209.2 279.6,209.1 279.8,209.1 280.0,208.9 280.2,208.7 280.4,208.3 280.6,207.9 280.8,207.6 281.0,207.5 281.0,207.5 281.2,207.6 281.4,207.9 281.6,208.3 281.8,208.7 282.0,208.9 282.2,209.1 282.4,209.1 282.6,209.2 282.8,209.2 283.0,209.2 283.2,209.2 283.4,209.2 283.6,209.2 283.8,209.2 284.0,209.2 284.2,209.2 284.4,209.2 284.6,209.2 284.8,209.2 285.0,209.2 285.2,209.1 285.4,209.0 285.6,208.9 285.8,208.8 286.0,208.6 286.1,208.6 286.2,208.6 286.4,208.6 286.6,208.7 286.8,208.6 287.0,208.5 287.2,208.4 287.3,208.4 287.4,208.4 287.6,208.6 287.8,208.8 288.0,209.0 288.2,209.1 288.4,209.2 288.6,209.2 288.8,209.2 289.0,209.2 289.2,209.2 289.4,209.2 289.6,209.2 289.8,209.2 290.0,209.2 290.2,209.2 290.4,209.2 290.6,209.2 290.8,209.2 291.0,209.2 291.2,209.2 291.4,209.2 291.6,209.1 291.8,209.0 292.0,208.9 292.2,208.9 292.3,208.9 292.4,208.9 292.6,209.0 292.8,209.0 293.0,209.1 293.2,209.2 293.4,209.2 293.6,209.2 293.8,209.2 294.0,209.2 294.2,209.1 294.4,209.0 294.6,208.9 294.8,208.8 295.0,208.7 295.0,208.7 295.2,208.7 295.4,208.8 295.6,209.0 295.8,209.1 296.0,209.2 296.2,209.2 296.4,209.2 296.6,209.1 296.8,209.0 297.0,208.8 297.2,208.6 297.4,208.4 297.5,208.4 297.6,208.3 297.8,208.2 298.0,208.2 298.2,208.2 298.4,208.2 298.4,208.2 298.6,208.4 298.8,208.7 299.0,208.9 299.2,209.1 299.4,209.1 299.6,209.2 299.8,209.2 300.0,209.2 300.2,209.2 300.4,209.2 300.6,209.2 300.8,209.2 301.0,209.2 301.2,209.2 301.4,209.2 301.6,209.2 301.8,209.2 302.0,209.2 302.2,209.2 302.4,209.2 302.6,209.2 302.8,209.2 303.0,209.2 303.2,209.2 303.4,209.2 303.6,209.2 303.8,209.2 304.0,209.2 304.2,209.2 304.4,209.2 304.6,209.2 304.8,209.2 305.0,209.2 305.2,209.2 305.4,209.2 305.6,209.2 305.8,209.2 306.0,209.2 306.2,209.2 306.4,209.2 306.6,209.2 306.8,209.2 307.0,209.2 307.2,209.2 307.4,209.2 307.6,209.2 307.8,209.2 308.0,209.2 308.2,209.2 308.4,209.2 308.6,209.2 308.8,209.2 309.0,209.2 309.2,209.1 309.4,209.0 309.6,208.9 309.8,208.7 310.0,208.6 310.1,208.6 310.2,208.6 310.4,208.7 310.6,208.8 310.8,208.9 311.0,208.8 311.2,208.6 311.4,208.5 311.6,208.4 311.6,208.4 311.8,208.5 312.0,208.6 312.2,208.8 312.4,208.9 312.6,208.9 312.7,208.9 312.8,208.8 312.8,208.7 313.0,208.5 313.2,208.4 313.3,208.3 313.4,208.3 313.6,208.4 313.8,208.6 313.8,208.6 314.0,208.8 314.2,208.9 314.4,209.0 314.6,209.1 314.8,209.2 315.0,209.2 315.2,209.2 315.4,209.2 315.6,209.2 315.8,209.2 316.0,209.2 316.2,209.2 316.4,209.2 316.6,209.2 316.8,209.2 317.0,209.2 317.2,209.2 317.4,209.2 317.6,209.2 317.8,209.2 318.0,209.2 318.2,209.2 318.4,209.2 318.6,209.2 318.8,209.2 319.0,209.2 319.2,209.2 319.4,209.1 319.6,209.0 319.8,208.9 320.0,208.7 320.2,208.6 320.3,208.5 320.4,208.5 320.6,208.6 320.8,208.8 321.0,209.0 321.2,209.1 321.4,209.2 321.6,209.2 321.8,209.1 322.0,209.1 322.2,208.9 322.4,208.7 322.6,208.4 322.8,208.3 322.8,208.3 323.0,208.4 323.2,208.6 323.4,208.8 323.6,209.0 323.8,209.1 324.0,209.1 324.2,209.1 324.4,209.0 324.6,209.0 324.8,208.9 324.9,208.9 325.0,208.9 325.2,208.9 325.4,209.0 325.6,209.0 325.8,208.9 326.0,208.9 326.2,208.8 326.3,208.8 326.4,208.8 326.6,208.8 326.8,208.8 327.0,208.8 327.2,208.7 327.4,208.6 327.6,208.6 327.6,208.6 327.8,208.7 328.0,208.8 328.2,209.0 328.4,209.1 328.6,209.2 328.8,209.2 329.0,209.2 329.2,209.2 329.4,209.2 329.6,209.2 329.8,209.2 330.0,209.2 330.2,209.1 330.4,209.1 330.6,209.0 330.8,208.9 331.0,208.8 331.0,208.8 331.2,208.9 331.4,209.0 331.6,209.1 331.8,209.1 332.0,209.2 332.2,209.2 332.4,209.2 332.6,209.2 332.8,209.2 333.0,209.2 333.2,209.2 333.4,209.2 333.6,209.2 333.8,209.1 334.0,209.0 334.2,209.0 334.4,208.9 334.4,208.9 334.6,208.8 334.8,208.8 335.0,208.7 335.2,208.7 335.3,208.7 335.4,208.7 335.6,208.8 335.8,208.9 336.0,209.1 336.2,209.1 336.4,209.2 336.6,209.2 336.8,209.2 337.0,209.2 337.2,209.2 337.4,209.2 337.6,209.2 337.8,209.2 338.0,209.2 338.2,209.2 338.4,209.2 338.6,209.1 338.8,209.0 339.0,208.8 339.2,208.6 339.4,208.5 339.5,208.5 339.6,208.5 339.8,208.6 340.0,208.7 340.2,208.7 340.4,208.7 340.6,208.6 340.7,208.6 340.8,208.6 341.0,208.7 341.2,208.9 341.4,209.0 341.6,209.1 341.8,209.1 342.0,209.0 342.2,208.9 342.4,208.8 342.6,208.7 342.7,208.7 342.8,208.7 343.0,208.8 343.2,209.0 343.4,209.1 343.6,209.1 343.8,209.2 344.0,209.2 344.2,209.2 344.4,209.2 344.6,209.2 344.8,209.1 345.0,209.0 345.2,208.9 345.4,208.7 345.6,208.5 345.6,208.5 345.8,208.4 346.0,208.3 346.1,208.4 346.1,208.4 346.2,208.4 346.4,208.5 346.6,208.5 346.8,208.6 347.0,208.6 347.1,208.6 347.2,208.6 347.4,208.7 347.6,208.9 347.8,209.0 348.0,209.1 348.2,209.0 348.4,208.9 348.6,208.8 348.8,208.7 348.9,208.7 349.0,208.7 349.2,208.8 349.4,208.9 349.6,209.0 349.8,209.1 350.0,209.1 350.2,209.1 350.4,209.0 350.6,208.9 350.8,208.9 350.8,208.9 351.0,208.9 351.2,209.0 351.4,209.1 351.6,209.1 351.8,209.2 352.0,209.2 352.2,209.2 352.4,209.2 352.6,209.2 352.8,209.2 353.0,209.2 353.2,209.2 353.4,209.2 353.6,209.2 353.8,209.2 354.0,209.1 354.2,209.0 354.4,209.0 354.6,208.9 354.7,208.9 354.8,208.8 355.0,208.8 355.2,208.8 355.4,208.9 355.6,208.9 355.6,208.9 355.6,208.9 355.8,208.9 355.9,209.0 356.0,209.0 356.2,209.0 356.4,209.0 356.6,208.9 356.8,208.8 357.0,208.6 357.2,208.4 357.3,208.4 357.3,208.4 357.4,208.3 357.6,208.4 357.8,208.6 357.9,208.6 358.0,208.7 358.2,208.9 358.4,209.0 358.6,209.1 358.8,209.2 359.0,209.2 359.2,209.2 359.4,209.2 359.6,209.2 359.8,209.2 360.0,209.2 360.2,209.2 360.4,209.2 360.6,209.2 360.8,209.1 361.0,209.0 361.2,208.8 361.4,208.6 361.6,208.4 361.7,208.3 361.8,208.3 362.0,208.5 362.2,208.7 362.4,208.9 362.6,209.1 362.8,209.2 363.0,209.2 363.2,209.2 363.4,209.2 363.6,209.2 363.8,209.2 364.0,209.2 364.2,209.2 364.4,209.2 364.6,209.2 364.8,209.2 365.0,209.2 365.2,209.2 365.4,209.1 365.6,208.9 365.8,208.8 366.0,208.6 366.2,208.5 366.2,208.5 366.4,208.5 366.6,208.6 366.8,208.7 367.0,208.8 367.2,208.8 367.4,208.8 367.4,208.8 367.6,208.8 367.8,208.9 368.0,209.0 368.2,209.1 368.4,209.2 368.6,209.2 368.8,209.2 369.0,209.2 369.2,209.2 369.4,209.2 369.6,209.2 369.8,209.2 370.0,209.2 370.2,209.2 370.4,209.2 370.6,209.2 370.8,209.2 371.0,209.2 371.2,209.2 371.4,209.2 371.6,209.2 371.8,209.2 372.0,209.2 372.2,209.1 372.4,209.1 372.6,208.9 372.8,208.8 373.0,208.7 373.0,208.7 373.1,208.7 373.2,208.7 373.4,208.8 373.6,208.9 373.8,209.0 374.0,209.0 374.2,209.0 374.4,208.8 374.6,208.6 374.8,208.5 374.8,208.5 375.0,208.4 375.2,208.3 375.4,208.4 375.4,208.4 375.6,208.6 375.6,208.6 375.8,208.7 376.0,208.8 376.2,208.7 376.4,208.6 376.6,208.5 376.7,208.5 376.8,208.5 377.0,208.5 377.2,208.6 377.4,208.6 377.6,208.5 377.7,208.6 377.8,208.6 378.0,208.7 378.2,208.9 378.4,209.0 378.6,209.1 378.8,209.2 379.0,209.2 379.2,209.2 379.4,209.2 379.6,209.2 379.8,209.2 380.0,209.1 380.2,209.0 380.4,208.9 380.6,208.8 380.6,208.8 380.8,208.7 381.0,208.7 381.2,208.7 381.2,208.7 381.2,208.7 381.4,208.7 381.6,208.8 381.7,208.9 381.8,208.9 382.0,209.0 382.2,209.1 382.4,209.1 382.6,209.2 382.8,209.2 383.0,209.2 383.2,209.2 383.4,209.2 383.6,209.2 383.8,209.2 384.0,209.2 384.2,209.2 384.4,209.2 384.6,209.2 384.8,209.2 385.0,209.2 385.2,209.2 385.4,209.2 385.6,209.2 385.8,209.2 386.0,209.2 386.2,209.2 386.4,209.2 386.6,209.2 386.8,209.1 387.0,209.0 387.2,208.9 387.4,208.7 387.6,208.6 387.7,208.6 387.8,208.6 388.0,208.8 388.2,208.9 388.4,209.1 388.6,209.1 388.8,209.2 389.0,209.2 389.2,209.2 389.4,209.2 389.6,209.2 389.8,209.2 390.0,209.2 390.2,209.2 390.4,209.2 390.6,209.2 390.8,209.2 391.0,209.2 391.2,209.2 391.4,209.2 391.6,209.2 391.8,209.2 392.0,209.2 392.2,209.2 392.4,209.2 392.6,209.2 392.8,209.2 393.0,209.1 393.2,209.0 393.4,208.9 393.6,208.7 393.8,208.6 393.9,208.5 394.0,208.6 394.2,208.7 394.4,208.8 394.6,209.0 394.8,209.1 395.0,209.2 395.2,209.2 395.4,209.2 395.6,209.2 395.8,209.2 396.0,209.2 396.2,209.2 396.4,209.1 396.6,209.1 396.8,208.9 397.0,208.7 397.2,208.6 397.4,208.5 397.4,208.5 397.6,208.6 397.8,208.8 398.0,209.0 398.2,209.1 398.4,209.2 398.6,209.2 398.8,209.2 399.0,209.2 399.2,209.2 399.4,209.2 399.6,209.2 399.8,209.1 400.0,209.1 400.2,209.0 400.4,208.9 400.6,208.9 400.6,208.9 400.8,208.9 401.0,209.0 401.2,209.1 401.4,209.1 401.6,209.2 401.8,209.2 402.0,209.2 402.2,209.2 402.4,209.2 402.6,209.1 402.8,209.0 402.9,208.9 403.0,208.8 403.2,208.7 403.3,208.7 403.4,208.7 403.6,208.8 403.8,209.0 404.0,209.1 404.2,209.1 404.4,209.2 404.6,209.2 404.8,209.2 405.0,209.2 405.2,209.2 405.4,209.2 405.6,209.1 405.8,209.0 406.0,208.9 406.0,208.9 406.2,208.8 406.2,208.8 406.4,208.8 406.6,208.8 406.8,208.9 407.0,208.9 407.2,208.8 407.4,208.8 407.5,208.8 407.6,208.8 407.8,208.9 408.0,209.0 408.2,209.1 408.4,209.1 408.6,209.2 408.8,209.1 409.0,209.0 409.2,208.9 409.4,208.7 409.5,208.6 409.6,208.6 409.8,208.5 409.9,208.5 410.0,208.5 410.0,208.5 410.2,208.7 410.3,208.8 410.4,208.9 410.6,209.0 410.8,209.1 411.0,209.2 411.2,209.2 411.4,209.2 411.6,209.2 411.8,209.1 412.0,209.1 412.2,208.9 412.4,208.8 412.6,208.7 412.8,208.6 412.8,208.6 413.0,208.6 413.2,208.7 413.4,208.7 413.6,208.7 413.8,208.7 413.8,208.7 414.0,208.7 414.2,208.8 414.4,208.8 414.6,208.8 414.8,208.8 414.8,208.8 415.0,208.9 415.2,209.0 415.4,209.1 415.6,209.1 415.8,209.1 416.0,209.0 416.2,208.8 416.4,208.5 416.6,208.4 416.7,208.3 416.8,208.3 417.0,208.5 417.2,208.7 417.4,208.9 417.6,209.1 417.8,209.2 418.0,209.2 418.2,209.2 418.4,209.2 418.6,209.2 418.8,209.1 419.0,209.1 419.2,208.9 419.4,208.8 419.6,208.6 419.7,208.6 419.8,208.6 420.0,208.7 420.2,208.8 420.4,209.0 420.6,209.1 420.8,209.2 421.0,209.2 421.2,209.2 421.4,209.2 421.6,209.2 421.8,209.2 422.0,209.2 422.2,209.2 422.4,209.2 422.6,209.2 422.8,209.1 423.0,209.1 423.2,208.9 423.4,208.8 423.6,208.6 423.6,208.6 423.8,208.5 424.0,208.3 424.2,208.3 424.3,208.3 424.4,208.4 424.6,208.5 424.8,208.7 425.0,208.7 425.2,208.8 425.4,208.8 425.4,208.8 425.6,208.9 425.8,209.0 426.0,209.1 426.2,209.1 426.4,209.2 426.6,209.2 426.8,209.2 427.0,209.2 427.2,209.2 427.4,209.1 427.6,209.0 427.8,208.8 428.0,208.5 428.2,208.4 428.3,208.4 428.4,208.4 428.6,208.5 428.8,208.7 429.0,208.9 429.2,208.9 429.4,208.9 429.6,208.8 429.8,208.8 429.8,208.8 430.0,208.8 430.2,208.9 430.4,209.0 430.6,209.0 430.8,209.0 431.0,208.9 431.2,208.8 431.4,208.8 431.4,208.8 431.6,208.8 431.8,208.9 432.0,209.0 432.2,209.1 432.4,209.2 432.6,209.2 432.8,209.2 433.0,209.2 433.2,209.2 433.4,209.2 433.6,209.2 433.8,209.2 434.0,209.2 434.2,209.2 434.4,209.2 434.6,209.2 434.8,209.2 435.0,209.2 435.2,209.2 435.4,209.2 435.6,209.2 435.8,209.2 436.0,209.2 436.2,209.2 436.4,209.2 436.6,209.2 436.8,209.2 437.0,209.2 437.2,209.2 437.4,209.2 437.6,209.2 437.8,209.2 438.0,209.2 438.2,209.2 438.4,209.2 438.6,209.2 438.8,209.2 439.0,209.2 439.2,209.2 439.4,209.2 439.6,209.1 439.8,209.1 440.0,208.9 440.2,208.8 440.4,208.7 440.5,208.7 440.6,208.7 440.8,208.8 441.0,208.9 441.2,209.0 441.4,209.1 441.6,209.2 441.8,209.2 442.0,209.2 442.2,209.2 442.4,209.2 442.6,209.2 442.8,209.2 443.0,209.2 443.2,209.2 443.4,209.2 443.6,209.2 443.8,209.2 444.0,209.2 444.2,209.2 444.4,209.2 444.6,209.2 444.8,209.2 445.0,209.1 445.2,208.9 445.4,208.7 445.6,208.5 445.8,208.4 445.8,208.4 446.0,208.4 446.2,208.6 446.4,208.8 446.6,209.0 446.8,209.1 447.0,209.2 447.2,209.2 447.4,209.2 447.6,209.2 447.8,209.2 448.0,209.1 448.2,209.0 448.4,208.9 448.6,208.8 448.8,208.7 448.8,208.7 449.0,208.7 449.2,208.8 449.4,209.0 449.6,209.0 449.8,209.0 450.0,208.9 450.2,208.8 450.4,208.6 450.6,208.4 450.6,208.4 450.8,208.3 451.0,208.4 451.1,208.4 451.2,208.5 451.4,208.7 451.6,208.9 451.8,209.1 452.0,209.1 452.2,209.2 452.4,209.2 452.6,209.2 452.8,209.1 453.0,209.1 453.2,208.9 453.4,208.7 453.6,208.5 453.8,208.4 453.8,208.4 454.0,208.4 454.0,208.4 454.2,208.6 454.4,208.8 454.6,209.0 454.8,209.1 455.0,209.0 455.2,208.9 455.4,208.7 455.6,208.6 455.8,208.5 455.8,208.5 456.0,208.6 456.2,208.8 456.4,208.9 456.6,209.1 456.8,209.1 457.0,209.2 457.2,209.2 457.4,209.1 457.6,209.1 457.8,209.0 458.0,208.9 458.2,208.9 458.2,208.9 458.4,208.9 458.6,208.9 458.8,209.0 459.0,209.1 459.2,209.2 459.4,209.2 459.6,209.2 459.8,209.2 460.0,209.2 460.2,209.2 460.4,209.2 460.6,209.2 460.8,209.2 461.0,209.2 461.2,209.2 461.4,209.2 461.6,209.2 461.8,209.2 462.0,209.2 462.2,209.2 462.4,209.2 462.6,209.2 462.8,209.2 463.0,209.2 463.2,209.2 463.4,209.2 463.6,209.2 463.8,209.1 464.0,209.0 464.2,208.8 464.4,208.7 464.6,208.6 464.6,208.6 464.8,208.7 465.0,208.8 465.2,209.0 465.4,209.1 465.6,209.2 465.8,209.2 466.0,209.2 466.2,209.2 466.4,209.2 466.6,209.2 466.8,209.2 467.0,209.2 467.2,209.1 467.4,209.1 467.6,208.9 467.8,208.8 468.0,208.7 468.1,208.7 468.1,208.7 468.2,208.7 468.4,208.8 468.6,208.9 468.7,209.0 468.8,209.0 469.0,208.9 469.2,208.9 469.4,208.8 469.4,208.8 469.6,208.8 469.8,208.9 470.0,209.0 470.2,209.1 470.4,209.2 470.6,209.2 470.8,209.2 471.0,209.2 471.2,209.2 471.4,209.2 471.6,209.2 471.8,209.2 472.0,209.2 472.2,209.2 472.4,209.2 472.6,209.2 472.8,209.1 473.0,209.0 473.2,208.9 473.4,208.7 473.6,208.6 473.6,208.6 473.8,208.5 473.8,208.6 474.0,208.6 474.2,208.8 474.4,208.9 474.6,209.0 474.8,209.0 475.0,209.0 475.2,208.9 475.3,208.9 475.4,208.9 475.4,208.9 475.6,208.9 475.8,209.0 476.0,209.1 476.2,209.1 476.4,209.2 476.6,209.2 476.8,209.2 477.0,209.2 477.2,209.2 477.4,209.2 477.6,209.2 477.8,209.2 478.0,209.2 478.2,209.2 478.4,209.2 478.6,209.2 478.8,209.2 479.0,209.2 479.2,209.2 479.4,209.2 479.6,209.2 479.8,209.2 480.0,209.2 480.2,209.2 480.4,209.2 480.6,209.2 480.8,209.2 481.0,209.2 481.2,209.2 481.4,209.2 481.6,209.2 481.8,209.2 482.0,209.2 482.2,209.2 482.4,209.2 482.6,209.2 482.8,209.2 483.0,209.2 483.2,209.2 483.4,209.1 483.6,209.1 483.8,209.0 484.0,208.9 484.2,208.8 484.3,208.8 484.4,208.8 484.6,208.9 484.8,209.0 485.0,209.1 485.2,209.1 485.4,209.2 485.6,209.2 485.8,209.2 486.0,209.2 486.2,209.2 486.4,209.2 486.6,209.2 486.8,209.2 487.0,209.2 487.2,209.2 487.4,209.2 487.6,209.2 487.8,209.1 488.0,209.0 488.2,208.9 488.4,208.6 488.6,208.4 488.8,208.4 488.8,208.4 488.8,208.4 489.0,208.5 489.2,208.7 489.4,208.9 489.6,209.0 489.8,209.1 490.0,209.2 490.2,209.1 490.4,209.1 490.6,208.9 490.8,208.7 491.0,208.5 491.2,208.4 491.2,208.4 491.4,208.4 491.6,208.6 491.8,208.7 492.0,208.6 492.2,208.5 492.4,208.3 492.4,208.3 492.6,208.3 492.6,208.3 492.6,208.3 492.8,208.4 493.0,208.6 493.2,208.9 493.4,209.0 493.6,209.1 493.8,209.2 494.0,209.2 494.2,209.2 494.4,209.2 494.6,209.2 494.8,209.2 495.0,209.2 495.2,209.2 495.4,209.2 495.6,209.1 495.8,209.1 496.0,209.0 496.2,208.9 496.3,208.9 496.4,208.9 496.6,208.9 496.8,208.8 497.0,208.7 497.2,208.6 497.4,208.4 497.5,208.4 497.6,208.4 497.8,208.6 498.0,208.7 498.2,208.8 498.4,208.8 498.6,208.7 498.8,208.5 499.0,208.3 499.0,208.3 499.1,208.3 499.2,208.4 499.4,208.5 499.6,208.7 499.8,208.8 500.0,208.8 500.2,208.6 500.4,208.4 500.6,208.2 500.6,208.2 500.8,208.3 500.9,208.4 501.0,208.4 501.2,208.7 501.4,208.9 501.6,209.0 501.8,209.1 502.0,209.2 502.2,209.2 502.4,209.2 502.6,209.2 502.8,209.2 503.0,209.2 503.2,209.2 503.4,209.2 503.6,209.2 503.8,209.2 504.0,209.2 504.2,209.2 504.4,209.2 504.6,209.1 504.8,209.1 505.0,209.0 505.2,208.9 505.4,208.9 505.4,208.9 505.6,208.9 505.8,209.0 506.0,209.1 506.2,209.1 506.4,209.2 506.6,209.2 506.8,209.2 507.0,209.2 507.2,209.2 507.4,209.2 507.6,209.2 507.8,209.2 508.0,209.2 508.2,209.2 508.4,209.2 508.6,209.2 508.8,209.2 509.0,209.2 509.2,209.2 509.4,209.2 509.6,209.2 509.8,209.2 510.0,209.2 510.2,209.2 510.4,209.2 510.6,209.2 510.8,209.2 511.0,209.2 511.2,209.2 511.4,209.2 511.6,209.2 511.8,209.2 512.0,209.2 512.2,209.2 512.4,209.2 512.6,209.1 512.8,209.1 513.0,209.0 513.2,208.9 513.4,208.8 513.5,208.8 513.6,208.8 513.8,208.7 514.0,208.7 514.2,208.6 514.4,208.4 514.5,208.4 514.6,208.4 514.8,208.4 515.0,208.5 515.0,208.5 515.2,208.6 515.4,208.8 515.6,209.0 515.8,209.1 516.0,209.2 516.2,209.2 516.4,209.2 516.6,209.2 516.8,209.1 517.0,209.0 517.2,208.8 517.4,208.7 517.6,208.7 517.6,208.7 517.8,208.8 518.0,208.9 518.2,209.0 518.4,209.1 518.6,209.2 518.8,209.2 519.0,209.1 519.2,209.0 519.4,208.8 519.6,208.6 519.8,208.5 519.9,208.5 520.0,208.4 520.2,208.5 520.2,208.5 520.4,208.6 520.4,208.7 520.6,208.8 520.8,208.9 521.0,209.0 521.2,209.0 521.4,208.9 521.6,208.8 521.8,208.7 521.8,208.7 522.0,208.7 522.0,208.7 522.2,208.8 522.4,208.9 522.6,208.9 522.8,208.8 523.0,208.7 523.2,208.4 523.3,208.3 523.4,208.2 523.6,208.1 523.7,208.1 523.8,208.2 524.0,208.4 524.2,208.7 524.4,208.9 524.6,209.0 524.8,208.9 525.0,208.8 525.2,208.7 525.3,208.7 525.4,208.7 525.6,208.8 525.8,208.9 526.0,209.0 526.2,209.1 526.4,209.2 526.6,209.2 526.8,209.1 527.0,209.0 527.2,209.0 527.4,208.9 527.5,208.9 527.6,208.9 527.8,208.9 528.0,209.0 528.2,209.1 528.4,209.1 528.6,209.0 528.8,208.8 529.0,208.7 529.2,208.5 529.3,208.5 529.4,208.4 529.6,208.5 529.8,208.6 529.9,208.6 530.0,208.7 530.2,208.8 530.4,208.9 530.5,208.9 530.6,208.9 530.8,209.0 531.0,209.0 531.2,209.0 531.4,208.9 531.6,208.8 531.8,208.7 531.9,208.7 532.0,208.7 532.2,208.6 532.4,208.6 532.6,208.5 532.8,208.4 533.0,208.4 533.0,208.4 533.2,208.5 533.4,208.6 533.6,208.7 533.8,208.8 534.0,208.7 534.2,208.7 534.2,208.7 534.4,208.8 534.6,208.9 534.8,209.0 535.0,209.1 535.2,209.2 535.4,209.2 535.6,209.2 535.8,209.2 536.0,209.2 536.2,209.2 536.4,209.1 536.6,209.0 536.8,208.9 537.0,208.8 537.2,208.8 537.2,208.8 537.4,208.8 537.6,208.9 537.8,209.0 538.0,209.1 538.2,209.2 538.4,209.1 538.6,209.0 538.8,208.9 539.0,208.6 539.2,208.4 539.4,208.2 539.4,208.2 539.6,208.2 539.8,208.4 539.9,208.5 540.0,208.6 540.2,208.9 540.4,209.0 540.6,209.1 540.8,209.2 541.0,209.2 541.2,209.2 541.4,209.2 541.6,209.2 541.8,209.2 542.0,209.2" fill="none" stroke="#0c9a3c" stroke-width="1.05" stroke-linejoin="round"/>
<polyline clip-path="url(#cp2)" points="43.6,312.9 43.8,312.9 44.0,312.9 44.2,312.9 44.4,312.9 44.6,312.9 44.8,312.9 45.0,312.9 45.2,312.9 45.4,312.9 45.6,312.9 45.8,312.9 46.0,312.9 46.2,312.9 46.4,312.9 46.6,312.9 46.8,312.9 47.0,312.9 47.2,312.9 47.4,312.9 47.6,312.9 47.8,312.9 48.0,312.9 48.2,312.9 48.4,312.9 48.6,312.9 48.8,312.9 49.0,312.9 49.2,312.9 49.4,312.9 49.6,312.9 49.8,312.9 50.0,312.9 50.2,312.9 50.4,312.9 50.6,312.9 50.8,312.9 51.0,312.9 51.2,312.9 51.4,312.9 51.6,312.9 51.8,312.9 52.0,312.9 52.2,312.9 52.4,312.9 52.6,312.9 52.8,312.9 53.0,312.9 53.2,312.9 53.4,312.9 53.6,312.9 53.8,312.9 54.0,312.9 54.2,312.9 54.4,312.9 54.6,312.9 54.8,312.9 55.0,312.9 55.2,312.9 55.4,312.9 55.6,312.9 55.8,312.9 56.0,312.9 56.2,312.9 56.4,312.9 56.6,312.9 56.8,312.9 57.0,312.9 57.2,312.9 57.4,312.9 57.6,312.9 57.8,312.9 58.0,312.9 58.2,312.9 58.4,312.9 58.6,312.9 58.8,312.9 59.0,312.9 59.2,312.9 59.4,312.9 59.6,312.9 59.8,312.9 60.0,312.9 60.2,312.9 60.4,312.9 60.6,312.9 60.8,312.9 61.0,312.9 61.2,312.9 61.4,312.9 61.6,312.9 61.8,312.9 62.0,312.9 62.2,312.9 62.4,312.9 62.6,312.9 62.8,312.9 63.0,312.9 63.2,312.9 63.4,312.9 63.6,312.9 63.8,312.9 64.0,312.9 64.2,312.9 64.4,312.9 64.6,312.9 64.8,312.9 65.0,312.9 65.2,312.9 65.4,312.9 65.6,312.9 65.8,312.9 66.0,312.9 66.2,312.9 66.4,312.9 66.6,312.9 66.8,312.9 67.0,312.9 67.2,312.9 67.4,312.9 67.6,312.9 67.8,312.9 68.0,312.9 68.2,312.9 68.4,312.9 68.6,312.9 68.8,312.9 69.0,312.9 69.2,312.9 69.4,312.9 69.6,312.9 69.8,312.9 70.0,312.9 70.2,312.9 70.4,312.9 70.6,312.9 70.8,312.9 71.0,312.9 71.2,312.9 71.4,312.9 71.6,312.9 71.8,312.9 72.0,312.9 72.2,312.9 72.4,312.9 72.6,312.9 72.8,312.9 73.0,312.9 73.2,312.9 73.4,312.9 73.6,312.9 73.8,312.9 74.0,312.9 74.2,312.9 74.4,312.9 74.6,312.9 74.8,312.9 75.0,312.9 75.2,312.9 75.4,312.9 75.6,312.9 75.8,312.9 76.0,312.9 76.2,312.9 76.4,312.9 76.6,312.9 76.8,312.9 77.0,312.9 77.2,312.9 77.4,312.9 77.6,312.9 77.8,312.9 78.0,312.9 78.2,312.9 78.4,312.9 78.6,312.9 78.8,312.9 79.0,312.9 79.2,312.9 79.4,312.9 79.6,312.9 79.8,312.9 80.0,312.9 80.2,312.9 80.4,312.9 80.6,312.9 80.8,312.9 81.0,312.9 81.2,312.9 81.4,312.9 81.6,312.9 81.8,312.9 82.0,312.9 82.2,312.9 82.4,312.9 82.6,312.9 82.8,312.9 83.0,312.9 83.2,312.9 83.4,312.9 83.6,312.9 83.8,312.9 84.0,312.9 84.2,312.9 84.4,312.9 84.6,312.9 84.8,312.9 85.0,312.9 85.2,312.9 85.4,312.9 85.6,312.9 85.8,312.9 86.0,312.9 86.2,312.9 86.4,312.9 86.6,312.9 86.8,312.9 87.0,312.9 87.2,312.9 87.4,312.9 87.6,312.9 87.8,312.9 88.0,312.9 88.2,312.9 88.4,312.9 88.6,312.9 88.8,312.9 89.0,312.9 89.2,312.9 89.4,312.9 89.6,312.9 89.8,312.9 90.0,312.9 90.2,312.9 90.4,312.9 90.6,312.9 90.8,312.9 91.0,312.9 91.2,312.9 91.4,312.9 91.6,312.9 91.8,312.9 92.0,312.9 92.2,312.9 92.4,312.9 92.6,312.9 92.8,312.9 93.0,312.9 93.2,312.9 93.4,312.9 93.6,312.9 93.8,312.9 94.0,312.9 94.2,312.9 94.4,312.9 94.6,312.9 94.8,312.9 95.0,312.9 95.2,312.9 95.4,312.9 95.6,312.9 95.8,312.9 96.0,312.9 96.2,312.9 96.4,312.9 96.6,312.9 96.8,312.9 97.0,312.9 97.2,312.9 97.4,312.9 97.6,312.9 97.8,312.9 98.0,312.9 98.2,312.9 98.4,312.9 98.6,312.9 98.8,312.9 99.0,312.9 99.2,312.9 99.4,312.9 99.6,312.9 99.8,312.9 100.0,312.9 100.2,312.9 100.4,312.9 100.6,312.9 100.8,312.9 101.0,312.9 101.2,312.9 101.4,312.9 101.6,312.9 101.8,312.9 102.0,312.9 102.2,312.9 102.4,312.9 102.6,312.9 102.8,312.9 103.0,312.9 103.2,312.9 103.4,312.9 103.6,312.9 103.8,312.9 104.0,312.9 104.2,312.9 104.4,312.9 104.6,312.9 104.8,312.9 105.0,312.9 105.2,312.9 105.4,312.9 105.6,312.9 105.8,312.9 106.0,312.9 106.2,312.9 106.4,312.9 106.6,312.9 106.8,312.9 107.0,312.9 107.2,312.9 107.4,312.9 107.6,312.9 107.8,312.9 108.0,312.9 108.2,312.9 108.4,312.9 108.6,312.9 108.8,312.9 109.0,312.9 109.2,312.9 109.4,312.9 109.6,312.9 109.8,312.9 110.0,312.9 110.2,312.9 110.4,312.9 110.6,312.9 110.8,312.9 111.0,312.9 111.2,312.9 111.4,312.9 111.6,312.9 111.8,312.9 112.0,312.9 112.2,312.9 112.4,312.9 112.6,312.9 112.8,312.9 113.0,312.9 113.2,312.9 113.4,312.9 113.6,312.9 113.8,312.9 114.0,312.9 114.2,312.9 114.4,312.9 114.6,312.9 114.8,312.9 115.0,312.9 115.2,312.9 115.4,312.9 115.6,312.9 115.8,312.9 116.0,312.9 116.2,312.9 116.4,312.9 116.6,312.9 116.8,312.9 117.0,312.9 117.2,312.9 117.4,312.9 117.6,312.9 117.8,312.9 118.0,312.9 118.2,312.9 118.4,312.9 118.6,312.9 118.8,312.9 119.0,312.9 119.2,312.9 119.4,312.9 119.6,312.9 119.8,312.9 120.0,312.9 120.2,312.9 120.4,312.9 120.6,312.9 120.8,312.9 121.0,312.9 121.2,312.9 121.4,312.9 121.6,312.9 121.8,312.9 122.0,312.9 122.2,312.9 122.4,312.9 122.6,312.9 122.8,312.9 123.0,312.9 123.2,312.9 123.4,312.9 123.6,312.9 123.8,312.9 124.0,312.9 124.2,312.9 124.4,312.9 124.6,312.9 124.8,312.9 125.0,312.9 125.2,312.9 125.4,312.9 125.6,312.9 125.8,312.9 126.0,312.9 126.2,312.9 126.4,312.9 126.6,312.9 126.8,312.9 127.0,312.9 127.2,312.9 127.4,312.9 127.6,312.9 127.8,312.9 128.0,312.9 128.2,312.9 128.4,312.9 128.6,312.9 128.8,312.9 129.0,312.9 129.2,312.9 129.4,312.9 129.6,312.9 129.8,312.9 130.0,312.9 130.2,312.9 130.4,312.9 130.6,312.9 130.8,312.9 131.0,312.9 131.2,312.9 131.4,312.9 131.6,312.9 131.8,312.9 132.0,312.9 132.2,312.9 132.4,312.9 132.6,312.9 132.8,312.9 133.0,312.9 133.2,312.9 133.4,312.9 133.6,312.9 133.8,312.9 134.0,312.9 134.2,312.9 134.4,312.9 134.6,312.9 134.8,312.9 135.0,312.9 135.2,312.9 135.4,312.9 135.6,312.9 135.8,312.9 136.0,312.9 136.2,312.9 136.4,312.9 136.6,312.9 136.8,312.9 137.0,312.9 137.2,312.9 137.4,312.9 137.6,312.9 137.8,312.9 138.0,312.9 138.2,312.9 138.4,312.9 138.6,312.9 138.8,312.9 139.0,312.9 139.2,312.9 139.4,312.9 139.6,312.9 139.8,312.9 140.0,312.9 140.2,312.9 140.4,312.9 140.6,312.9 140.8,312.9 141.0,312.9 141.2,312.9 141.4,312.9 141.6,312.9 141.8,312.9 142.0,312.9 142.2,312.9 142.4,312.9 142.6,312.9 142.8,312.9 143.0,312.9 143.2,312.9 143.4,312.9 143.6,312.9 143.8,312.9 144.0,312.9 144.2,312.9 144.4,312.9 144.6,312.9 144.8,312.9 145.0,312.9 145.2,312.9 145.4,312.9 145.6,312.9 145.8,312.9 146.0,312.9 146.2,312.9 146.4,312.9 146.6,312.9 146.8,312.9 147.0,312.9 147.2,312.9 147.4,312.9 147.6,312.9 147.8,312.9 148.0,312.9 148.2,312.9 148.4,312.9 148.6,312.9 148.8,312.9 149.0,312.9 149.2,312.9 149.4,312.9 149.6,312.9 149.8,312.9 150.0,312.9 150.2,312.9 150.4,312.9 150.6,312.9 150.8,312.9 151.0,312.9 151.2,312.9 151.4,312.9 151.6,312.9 151.8,312.9 152.0,312.9 152.2,312.9 152.4,312.9 152.6,312.9 152.8,312.9 153.0,312.9 153.2,312.9 153.4,312.9 153.6,312.9 153.8,312.9 154.0,312.9 154.2,312.9 154.4,312.9 154.6,312.9 154.8,312.9 155.0,312.9 155.2,312.9 155.4,312.9 155.6,312.9 155.8,312.9 156.0,312.9 156.2,312.9 156.4,312.9 156.6,312.9 156.8,312.9 157.0,312.9 157.2,312.9 157.4,312.9 157.6,312.9 157.8,312.9 158.0,312.9 158.2,312.9 158.4,312.9 158.6,312.9 158.8,312.9 159.0,312.9 159.2,312.9 159.4,312.9 159.6,312.9 159.8,312.9 160.0,312.9 160.2,312.9 160.4,312.9 160.6,312.9 160.8,312.9 161.0,312.9 161.2,312.9 161.4,312.9 161.6,312.9 161.8,312.9 162.0,312.9 162.2,312.9 162.4,312.9 162.6,312.9 162.8,312.9 163.0,312.9 163.2,312.9 163.4,312.9 163.6,312.9 163.8,312.9 164.0,312.9 164.2,312.9 164.4,312.9 164.6,312.9 164.8,312.9 165.0,312.9 165.2,312.9 165.4,312.9 165.6,312.9 165.8,312.9 166.0,312.9 166.2,312.9 166.4,312.9 166.6,312.9 166.8,312.9 167.0,312.9 167.2,312.9 167.4,312.9 167.6,312.9 167.8,312.9 168.0,312.9 168.2,312.9 168.4,312.9 168.6,312.9 168.8,312.9 169.0,312.9 169.2,312.9 169.4,312.9 169.6,312.9 169.8,312.9 170.0,312.9 170.2,312.9 170.4,312.9 170.6,312.9 170.8,312.9 171.0,312.9 171.2,312.9 171.4,312.9 171.6,312.9 171.8,312.9 172.0,312.9 172.2,312.9 172.4,312.9 172.6,312.9 172.8,312.9 173.0,312.9 173.2,312.9 173.4,312.9 173.6,312.9 173.8,312.9 174.0,312.9 174.2,312.9 174.4,312.9 174.6,312.9 174.8,312.9 175.0,312.9 175.2,312.9 175.4,312.9 175.6,312.9 175.8,312.9 176.0,312.9 176.2,312.9 176.4,312.9 176.6,312.9 176.8,312.9 177.0,312.9 177.2,312.9 177.4,312.9 177.6,312.9 177.8,312.9 178.0,312.9 178.2,312.9 178.4,312.9 178.6,312.9 178.8,312.9 179.0,312.9 179.2,312.9 179.4,312.9 179.6,312.9 179.8,312.9 180.0,312.9 180.2,312.9 180.4,312.9 180.6,312.9 180.8,312.9 181.0,312.9 181.2,312.9 181.4,312.9 181.6,312.9 181.8,312.9 182.0,312.9 182.2,312.9 182.4,312.9 182.6,312.9 182.8,312.9 183.0,312.9 183.2,312.9 183.4,312.9 183.6,312.9 183.8,312.9 184.0,312.9 184.2,312.9 184.4,312.9 184.6,312.9 184.8,312.9 185.0,312.9 185.2,312.9 185.4,312.9 185.6,312.9 185.8,312.9 186.0,312.9 186.2,312.9 186.4,312.9 186.6,312.9 186.8,312.9 187.0,312.9 187.2,312.9 187.4,312.9 187.6,312.9 187.8,312.9 188.0,312.9 188.2,312.9 188.4,312.9 188.6,312.9 188.8,312.9 189.0,312.9 189.2,312.9 189.4,312.9 189.6,312.9 189.8,312.9 190.0,312.9 190.2,312.9 190.4,312.9 190.6,312.9 190.8,312.9 191.0,312.9 191.2,312.9 191.4,312.9 191.6,312.9 191.8,312.9 192.0,312.9 192.2,312.9 192.4,312.9 192.6,312.9 192.8,312.9 193.0,312.9 193.2,312.9 193.4,312.9 193.6,312.9 193.8,312.9 194.0,312.9 194.2,312.9 194.4,312.9 194.6,312.9 194.8,312.9 195.0,312.9 195.2,312.9 195.4,312.9 195.6,312.9 195.8,312.9 196.0,312.9 196.2,312.9 196.4,312.9 196.6,312.9 196.8,312.9 197.0,312.9 197.2,312.9 197.4,312.9 197.6,312.9 197.8,312.9 198.0,312.9 198.2,312.9 198.4,312.9 198.6,312.9 198.8,312.9 199.0,312.9 199.2,312.9 199.4,312.9 199.6,312.9 199.8,312.9 200.0,312.9 200.2,312.9 200.4,312.9 200.6,312.9 200.8,312.9 201.0,312.9 201.2,312.9 201.4,312.9 201.6,312.9 201.8,312.9 202.0,312.9 202.2,312.9 202.4,312.9 202.6,312.9 202.8,312.9 203.0,312.9 203.2,312.9 203.4,312.9 203.6,312.9 203.8,312.9 204.0,312.9 204.2,312.9 204.4,312.9 204.6,312.9 204.8,312.9 205.0,312.9 205.2,312.9 205.4,312.9 205.6,312.9 205.8,312.9 206.0,312.9 206.2,312.9 206.4,312.9 206.6,312.9 206.8,312.9 207.0,312.9 207.2,312.9 207.4,312.9 207.6,312.9 207.8,312.9 208.0,312.9 208.2,312.9 208.4,312.9 208.6,312.9 208.8,312.9 209.0,312.9 209.2,312.9 209.4,312.9 209.6,312.9 209.8,312.9 210.0,312.9 210.2,312.9 210.4,312.9 210.6,312.9 210.8,312.9 211.0,312.9 211.2,312.9 211.4,312.9 211.6,312.9 211.8,312.9 212.0,312.9 212.2,312.9 212.4,312.9 212.6,312.9 212.8,312.9 213.0,312.9 213.2,312.9 213.4,312.9 213.6,312.9 213.8,312.9 214.0,312.9 214.2,312.9 214.4,312.9 214.6,312.9 214.8,312.9 215.0,312.9 215.2,312.9 215.4,312.9 215.6,312.9 215.8,312.9 216.0,312.9 216.2,312.9 216.4,312.9 216.6,312.9 216.8,312.9 217.0,312.9 217.2,312.9 217.4,312.9 217.6,312.9 217.8,312.9 218.0,312.9 218.2,312.9 218.4,312.9 218.6,312.9 218.8,312.9 219.0,312.9 219.2,312.9 219.4,312.9 219.6,312.9 219.8,312.9 220.0,312.9 220.2,312.9 220.4,312.9 220.6,312.9 220.8,312.9 221.0,312.9 221.2,312.9 221.4,312.9 221.6,312.9 221.8,312.9 222.0,312.9 222.2,312.9 222.4,312.9 222.6,312.9 222.8,312.9 223.0,312.9 223.2,312.9 223.4,312.9 223.6,312.9 223.8,312.9 224.0,312.9 224.2,312.9 224.4,312.9 224.6,312.9 224.8,312.9 225.0,312.9 225.2,312.9 225.4,312.9 225.6,312.9 225.8,312.9 226.0,312.9 226.2,312.9 226.4,312.9 226.6,312.9 226.8,312.9 227.0,312.9 227.2,312.9 227.4,312.9 227.6,312.9 227.8,312.9 228.0,312.9 228.2,312.9 228.4,312.9 228.6,312.9 228.8,312.9 229.0,312.9 229.2,312.9 229.4,312.9 229.6,312.9 229.8,312.9 230.0,312.9 230.2,312.9 230.4,312.9 230.6,312.9 230.8,312.9 231.0,312.9 231.2,312.9 231.4,312.9 231.6,312.9 231.8,312.9 232.0,312.9 232.2,312.9 232.4,312.9 232.6,312.9 232.8,312.9 233.0,312.9 233.2,312.9 233.4,312.9 233.6,312.9 233.8,312.9 234.0,312.9 234.2,312.9 234.4,312.9 234.6,312.9 234.8,312.9 235.0,312.9 235.2,312.9 235.4,312.9 235.6,312.9 235.8,312.9 236.0,312.9 236.2,312.9 236.4,312.9 236.6,312.9 236.8,312.9 237.0,312.9 237.2,312.9 237.4,312.9 237.6,312.9 237.8,312.9 238.0,312.9 238.2,312.9 238.4,312.9 238.6,312.9 238.8,312.9 239.0,312.9 239.2,312.9 239.4,312.9 239.6,312.9 239.8,312.9 240.0,312.9 240.2,312.9 240.4,312.9 240.6,312.9 240.8,312.9 241.0,312.9 241.2,312.9 241.4,312.9 241.6,312.9 241.8,312.9 242.0,312.9 242.2,312.9 242.4,312.9 242.6,312.9 242.8,312.9 243.0,312.9 243.2,312.9 243.4,312.9 243.6,312.9 243.8,312.9 244.0,312.9 244.2,312.9 244.4,312.9 244.6,312.9 244.8,312.9 245.0,312.9 245.2,312.9 245.4,312.9 245.6,312.9 245.8,312.9 246.0,312.9 246.2,312.9 246.4,312.9 246.6,312.9 246.8,312.9 247.0,312.9 247.2,312.9 247.4,312.9 247.6,312.9 247.8,312.9 248.0,312.9 248.2,312.9 248.4,312.9 248.6,312.9 248.8,312.9 249.0,312.9 249.2,312.9 249.4,312.9 249.6,312.9 249.8,312.9 250.0,312.9 250.2,312.9 250.4,312.9 250.6,312.9 250.8,312.9 251.0,312.9 251.2,312.9 251.4,312.9 251.6,312.9 251.8,312.9 252.0,312.9 252.2,312.9 252.4,312.9 252.6,312.9 252.8,312.9 253.0,312.9 253.2,312.9 253.4,312.9 253.6,312.9 253.8,312.9 254.0,312.9 254.2,312.9 254.4,312.9 254.6,312.9 254.8,312.9 255.0,312.9 255.2,312.9 255.4,312.9 255.6,312.9 255.8,312.9 256.0,312.9 256.2,312.9 256.4,312.9 256.6,312.9 256.8,312.9 257.0,312.9 257.2,312.9 257.4,312.9 257.6,312.9 257.8,312.9 258.0,312.9 258.2,312.9 258.4,312.9 258.6,312.9 258.8,312.9 259.0,312.9 259.2,312.9 259.4,312.9 259.6,312.9 259.8,312.9 260.0,312.9 260.2,312.9 260.4,312.9 260.6,312.9 260.8,312.9 261.0,312.9 261.2,312.9 261.4,312.9 261.6,312.9 261.8,312.9 262.0,312.9 262.2,312.9 262.4,312.9 262.6,312.9 262.8,312.9 263.0,312.9 263.2,312.9 263.4,312.9 263.6,312.9 263.8,312.9 264.0,312.9 264.2,312.9 264.4,312.9 264.6,312.9 264.8,312.9 265.0,312.9 265.2,312.9 265.4,312.9 265.6,312.9 265.8,312.9 266.0,312.9 266.2,312.9 266.4,312.9 266.6,312.9 266.8,312.9 267.0,312.9 267.2,312.9 267.4,312.9 267.6,312.9 267.8,312.9 268.0,312.9 268.2,312.9 268.4,312.9 268.6,312.9 268.8,312.9 269.0,312.9 269.2,312.8 269.4,312.7 269.6,312.5 269.8,312.1 270.0,311.7 270.2,311.3 270.4,311.0 270.5,311.0 270.6,311.0 270.8,311.3 271.0,311.7 271.2,312.1 271.4,312.5 271.6,312.7 271.8,312.8 272.0,312.9 272.2,312.9 272.4,312.9 272.6,312.9 272.8,312.9 273.0,312.9 273.2,312.9 273.4,312.9 273.6,312.9 273.8,312.9 274.0,312.9 274.2,312.9 274.4,312.9 274.6,312.9 274.8,312.8 275.0,312.4 275.2,310.9 275.4,306.5 275.6,297.2 275.8,283.2 276.0,269.4 276.2,263.5 276.2,263.5 276.4,269.4 276.6,283.2 276.8,297.0 277.0,305.8 277.2,309.0 277.4,308.7 277.6,306.5 277.8,304.3 278.0,303.4 278.0,303.4 278.2,304.3 278.4,306.6 278.6,309.1 278.8,310.9 279.0,311.5 279.2,311.0 279.4,309.4 279.6,307.2 279.8,305.1 280.0,304.3 280.0,304.3 280.2,305.1 280.4,307.2 280.6,309.5 280.8,311.3 281.0,312.2 281.2,312.7 281.4,312.8 281.6,312.8 281.8,312.5 282.0,312.0 282.2,311.0 282.4,309.7 282.6,308.5 282.8,308.0 282.8,308.0 283.0,308.5 283.2,309.7 283.4,311.0 283.6,312.0 283.8,312.5 284.0,312.8 284.2,312.9 284.4,312.9 284.6,312.9 284.8,312.9 285.0,312.9 285.2,312.9 285.4,312.8 285.6,312.5 285.8,312.0 286.0,311.0 286.2,309.7 286.4,308.5 286.6,308.0 286.6,308.0 286.8,308.5 287.0,309.7 287.2,311.0 287.4,312.0 287.6,312.5 287.8,312.6 288.0,312.4 288.2,311.6 288.4,310.3 288.6,308.5 288.8,306.9 289.0,306.3 289.0,306.3 289.2,306.9 289.4,308.5 289.6,310.3 289.8,311.6 290.0,312.4 290.2,312.7 290.4,312.9 290.6,312.9 290.8,312.9 291.0,312.9 291.2,312.9 291.4,312.8 291.6,312.4 291.8,311.0 292.0,307.5 292.2,301.3 292.4,293.6 292.6,288.0 292.7,287.2 292.8,288.0 293.0,293.6 293.2,301.3 293.4,307.5 293.6,310.9 293.8,312.3 294.0,312.6 294.2,312.3 294.4,311.4 294.6,309.9 294.8,307.9 295.0,306.0 295.2,305.3 295.2,305.3 295.4,306.0 295.6,307.9 295.8,309.9 296.0,311.4 296.2,312.2 296.4,312.3 296.6,311.6 296.8,309.8 297.0,306.5 297.2,302.2 297.4,298.3 297.6,296.6 297.6,296.6 297.8,298.0 298.0,301.2 298.2,304.0 298.4,304.6 298.6,302.9 298.8,300.6 299.0,299.6 299.0,299.6 299.2,301.0 299.4,304.1 299.6,307.6 299.8,310.1 300.0,311.1 300.2,310.7 300.4,309.4 300.6,307.7 300.8,306.5 300.9,306.3 301.0,306.5 301.2,307.7 301.4,309.4 301.6,311.0 301.8,312.1 302.0,312.6 302.2,312.8 302.4,312.8 302.6,312.5 302.8,311.8 303.0,310.5 303.2,308.4 303.4,306.1 303.6,304.5 303.7,304.3 303.8,304.5 304.0,306.1 304.2,308.2 304.4,309.5 304.6,308.0 304.8,300.3 305.0,283.1 305.2,256.6 305.4,230.4 305.6,219.2 305.6,219.2 305.8,230.4 306.0,256.6 306.2,283.2 306.4,300.7 306.6,309.0 306.8,311.9 307.0,312.7 307.2,312.8 307.4,312.5 307.6,311.8 307.8,310.5 308.0,308.4 308.2,306.1 308.4,304.5 308.5,304.3 308.6,304.5 308.8,306.1 309.0,308.3 309.2,310.3 309.4,311.3 309.6,311.1 309.8,309.8 310.0,307.8 310.2,306.0 310.4,305.3 310.4,305.3 310.6,306.0 310.8,307.9 311.0,309.9 311.2,311.4 311.4,312.3 311.6,312.7 311.8,312.9 312.0,312.9 312.2,312.9 312.4,312.9 312.6,312.8 312.8,312.5 313.0,312.0 313.2,311.0 313.4,309.8 313.6,308.7 313.8,308.2 313.8,308.2 314.0,308.7 314.2,309.8 314.4,311.0 314.6,312.0 314.8,312.5 315.0,312.8 315.2,312.8 315.4,312.7 315.6,312.4 315.8,311.6 316.0,310.3 316.2,308.5 316.4,306.9 316.6,306.3 316.6,306.3 316.8,306.9 317.0,308.5 317.2,310.3 317.4,311.6 317.6,312.4 317.8,312.7 318.0,312.9 318.2,312.9 318.4,312.9 318.6,312.9 318.8,312.9 319.0,312.8 319.2,312.5 319.4,311.3 319.6,308.0 319.8,300.8 320.0,290.1 320.2,279.5 320.4,274.9 320.4,274.9 320.6,279.5 320.8,290.1 321.0,300.8 321.2,308.0 321.4,311.3 321.6,312.4 321.8,312.6 322.0,312.4 322.2,311.9 322.4,311.4 322.6,311.0 322.7,311.0 322.8,311.0 323.0,311.4 323.2,311.9 323.4,312.4 323.6,312.7 323.8,312.8 324.0,312.9 324.2,312.9 324.4,312.9 324.6,312.9 324.8,312.9 325.0,312.9 325.2,312.9 325.4,312.9 325.6,312.9 325.8,312.9 326.0,312.9 326.2,312.9 326.4,312.9 326.6,312.9 326.8,312.9 327.0,312.9 327.2,312.9 327.4,312.9 327.6,312.9 327.8,312.9 328.0,312.9 328.2,312.9 328.4,312.9 328.6,312.9 328.8,312.9 329.0,312.9 329.2,312.9 329.4,312.9 329.6,312.9 329.8,312.9 330.0,312.9 330.2,312.9 330.4,312.9 330.6,312.9 330.8,312.9 331.0,312.9 331.2,312.9 331.4,312.9 331.6,312.9 331.8,312.9 332.0,312.9 332.2,312.9 332.4,312.9 332.6,312.9 332.8,312.9 333.0,312.9 333.2,312.9 333.4,312.9 333.6,312.9 333.8,312.9 334.0,312.9 334.2,312.9 334.4,312.9 334.6,312.9 334.8,312.9 335.0,312.9 335.2,312.9 335.4,312.9 335.6,312.9 335.8,312.9 336.0,312.9 336.2,312.9 336.4,312.9 336.6,312.9 336.8,312.9 337.0,312.9 337.2,312.9 337.4,312.9 337.6,312.9 337.8,312.9 338.0,312.9 338.2,312.9 338.4,312.9 338.6,312.9 338.8,312.9 339.0,312.9 339.2,312.9 339.4,312.9 339.6,312.9 339.8,312.9 340.0,312.9 340.2,312.9 340.4,312.9 340.6,312.9 340.8,312.9 341.0,312.9 341.2,312.9 341.4,312.9 341.6,312.9 341.8,312.9 342.0,312.9 342.2,312.9 342.4,312.9 342.6,312.9 342.8,312.9 343.0,312.9 343.2,312.9 343.4,312.9 343.6,312.9 343.8,312.9 344.0,312.9 344.2,312.9 344.4,312.9 344.6,312.9 344.8,312.9 345.0,312.9 345.2,312.9 345.4,312.9 345.6,312.9 345.8,312.9 346.0,312.9 346.2,312.9 346.4,312.9 346.6,312.9 346.8,312.9 347.0,312.9 347.2,312.9 347.4,312.9 347.6,312.9 347.8,312.9 348.0,312.9 348.2,312.9 348.4,312.9 348.6,312.9 348.8,312.9 349.0,312.9 349.2,312.9 349.4,312.9 349.6,312.9 349.8,312.9 350.0,312.9 350.2,312.9 350.4,312.9 350.6,312.9 350.8,312.9 351.0,312.9 351.2,312.9 351.4,312.9 351.6,312.9 351.8,312.9 352.0,312.9 352.2,312.9 352.4,312.9 352.6,312.9 352.8,312.9 353.0,312.9 353.2,312.9 353.4,312.9 353.6,312.9 353.8,312.9 354.0,312.9 354.2,312.9 354.4,312.9 354.6,312.9 354.8,312.9 355.0,312.9 355.2,312.9 355.4,312.9 355.6,312.9 355.8,312.9 356.0,312.9 356.2,312.9 356.4,312.9 356.6,312.9 356.8,312.9 357.0,312.9 357.2,312.9 357.4,312.9 357.6,312.9 357.8,312.9 358.0,312.9 358.2,312.9 358.4,312.9 358.6,312.9 358.8,312.9 359.0,312.9 359.2,312.9 359.4,312.9 359.6,312.9 359.8,312.9 360.0,312.9 360.2,312.9 360.4,312.9 360.6,312.9 360.8,312.9 361.0,312.9 361.2,312.9 361.4,312.9 361.6,312.9 361.8,312.9 362.0,312.9 362.2,312.9 362.4,312.9 362.6,312.9 362.8,312.9 363.0,312.9 363.2,312.9 363.4,312.9 363.6,312.9 363.8,312.9 364.0,312.9 364.2,312.9 364.4,312.9 364.6,312.9 364.8,312.9 365.0,312.9 365.2,312.9 365.4,312.9 365.6,312.9 365.8,312.9 366.0,312.9 366.2,312.9 366.4,312.9 366.6,312.9 366.8,312.9 367.0,312.9 367.2,312.9 367.4,312.9 367.6,312.9 367.8,312.9 368.0,312.9 368.2,312.9 368.4,312.9 368.6,312.9 368.8,312.9 369.0,312.9 369.2,312.9 369.4,312.9 369.6,312.9 369.8,312.9 370.0,312.9 370.2,312.9 370.4,312.9 370.6,312.9 370.8,312.9 371.0,312.9 371.2,312.9 371.4,312.9 371.6,312.9 371.8,312.9 372.0,312.9 372.2,312.9 372.4,312.9 372.6,312.9 372.8,312.9 373.0,312.9 373.2,312.9 373.4,312.9 373.6,312.9 373.8,312.9 374.0,312.9 374.2,312.9 374.4,312.9 374.6,312.9 374.8,312.9 375.0,312.9 375.2,312.9 375.4,312.9 375.6,312.9 375.8,312.9 376.0,312.9 376.2,312.9 376.4,312.9 376.6,312.9 376.8,312.9 377.0,312.9 377.2,312.9 377.4,312.9 377.6,312.9 377.8,312.9 378.0,312.9 378.2,312.9 378.4,312.9 378.6,312.9 378.8,312.9 379.0,312.9 379.2,312.9 379.4,312.9 379.6,312.9 379.8,312.9 380.0,312.9 380.2,312.9 380.4,312.9 380.6,312.9 380.8,312.9 381.0,312.9 381.2,312.9 381.4,312.9 381.6,312.9 381.8,312.9 382.0,312.9 382.2,312.9 382.4,312.9 382.6,312.9 382.8,312.9 383.0,312.9 383.2,312.9 383.4,312.9 383.6,312.9 383.8,312.9 384.0,312.9 384.2,312.9 384.4,312.9 384.6,312.9 384.8,312.9 385.0,312.9 385.2,312.9 385.4,312.9 385.6,312.9 385.8,312.9 386.0,312.9 386.2,312.9 386.4,312.9 386.6,312.9 386.8,312.9 387.0,312.9 387.2,312.9 387.4,312.9 387.6,312.9 387.8,312.9 388.0,312.9 388.2,312.9 388.4,312.9 388.6,312.9 388.8,312.9 389.0,312.9 389.2,312.9 389.4,312.9 389.6,312.9 389.8,312.9 390.0,312.9 390.2,312.9 390.4,312.9 390.6,312.9 390.8,312.9 391.0,312.9 391.2,312.9 391.4,312.9 391.6,312.9 391.8,312.9 392.0,312.9 392.2,312.9 392.4,312.9 392.6,312.9 392.8,312.9 393.0,312.9 393.2,312.9 393.4,312.9 393.6,312.9 393.8,312.9 394.0,312.9 394.2,312.9 394.4,312.9 394.6,312.9 394.8,312.9 395.0,312.9 395.2,312.9 395.4,312.9 395.6,312.9 395.8,312.9 396.0,312.9 396.2,312.9 396.4,312.9 396.6,312.9 396.8,312.9 397.0,312.9 397.2,312.9 397.4,312.9 397.6,312.9 397.8,312.9 398.0,312.9 398.2,312.9 398.4,312.9 398.6,312.9 398.8,312.9 399.0,312.9 399.2,312.9 399.4,312.9 399.6,312.9 399.8,312.9 400.0,312.9 400.2,312.9 400.4,312.9 400.6,312.9 400.8,312.9 401.0,312.9 401.2,312.9 401.4,312.9 401.6,312.9 401.8,312.9 402.0,312.9 402.2,312.9 402.4,312.9 402.6,312.9 402.8,312.9 403.0,312.9 403.2,312.9 403.4,312.9 403.6,312.9 403.8,312.9 404.0,312.9 404.2,312.9 404.4,312.9 404.6,312.9 404.8,312.9 405.0,312.9 405.2,312.9 405.4,312.9 405.6,312.9 405.8,312.9 406.0,312.9 406.2,312.9 406.4,312.9 406.6,312.9 406.8,312.9 407.0,312.9 407.2,312.9 407.4,312.9 407.6,312.9 407.8,312.9 408.0,312.9 408.2,312.9 408.4,312.9 408.6,312.9 408.8,312.9 409.0,312.9 409.2,312.9 409.4,312.9 409.6,312.9 409.8,312.9 410.0,312.9 410.2,312.9 410.4,312.9 410.6,312.9 410.8,312.9 411.0,312.9 411.2,312.9 411.4,312.9 411.6,312.9 411.8,312.9 412.0,312.9 412.2,312.9 412.4,312.9 412.6,312.9 412.8,312.9 413.0,312.9 413.2,312.9 413.4,312.9 413.6,312.9 413.8,312.9 414.0,312.9 414.2,312.9 414.4,312.9 414.6,312.9 414.8,312.9 415.0,312.9 415.2,312.9 415.4,312.9 415.6,312.9 415.8,312.9 416.0,312.9 416.2,312.9 416.4,312.9 416.6,312.9 416.8,312.9 417.0,312.9 417.2,312.9 417.4,312.9 417.6,312.9 417.8,312.9 418.0,312.9 418.2,312.9 418.4,312.9 418.6,312.9 418.8,312.9 419.0,312.9 419.2,312.9 419.4,312.9 419.6,312.9 419.8,312.9 420.0,312.9 420.2,312.9 420.4,312.9 420.6,312.9 420.8,312.9 421.0,312.9 421.2,312.9 421.4,312.9 421.6,312.9 421.8,312.9 422.0,312.9 422.2,312.9 422.4,312.9 422.6,312.9 422.8,312.9 423.0,312.9 423.2,312.9 423.4,312.9 423.6,312.9 423.8,312.9 424.0,312.9 424.2,312.9 424.4,312.9 424.6,312.9 424.8,312.9 425.0,312.9 425.2,312.9 425.4,312.9 425.6,312.9 425.8,312.9 426.0,312.9 426.2,312.9 426.4,312.9 426.6,312.9 426.8,312.9 427.0,312.9 427.2,312.9 427.4,312.9 427.6,312.9 427.8,312.9 428.0,312.9 428.2,312.9 428.4,312.9 428.6,312.9 428.8,312.9 429.0,312.9 429.2,312.9 429.4,312.9 429.6,312.9 429.8,312.9 430.0,312.9 430.2,312.9 430.4,312.9 430.6,312.9 430.8,312.9 431.0,312.9 431.2,312.9 431.4,312.9 431.6,312.9 431.8,312.9 432.0,312.9 432.2,312.9 432.4,312.9 432.6,312.9 432.8,312.9 433.0,312.9 433.2,312.9 433.4,312.9 433.6,312.9 433.8,312.9 434.0,312.9 434.2,312.9 434.4,312.9 434.6,312.9 434.8,312.9 435.0,312.9 435.2,312.9 435.4,312.9 435.6,312.9 435.8,312.9 436.0,312.9 436.2,312.9 436.4,312.9 436.6,312.9 436.8,312.9 437.0,312.9 437.2,312.9 437.4,312.9 437.6,312.9 437.8,312.9 438.0,312.9 438.2,312.9 438.4,312.9 438.6,312.9 438.8,312.9 439.0,312.9 439.2,312.9 439.4,312.9 439.6,312.9 439.8,312.9 440.0,312.9 440.2,312.9 440.4,312.9 440.6,312.9 440.8,312.9 441.0,312.9 441.2,312.9 441.4,312.9 441.6,312.9 441.8,312.9 442.0,312.9 442.2,312.9 442.4,312.9 442.6,312.9 442.8,312.9 443.0,312.9 443.2,312.9 443.4,312.9 443.6,312.9 443.8,312.9 444.0,312.9 444.2,312.9 444.4,312.9 444.6,312.9 444.8,312.9 445.0,312.9 445.2,312.9 445.4,312.9 445.6,312.9 445.8,312.9 446.0,312.9 446.2,312.9 446.4,312.9 446.6,312.9 446.8,312.9 447.0,312.9 447.2,312.9 447.4,312.9 447.6,312.9 447.8,312.9 448.0,312.9 448.2,312.9 448.4,312.9 448.6,312.9 448.8,312.9 449.0,312.9 449.2,312.9 449.4,312.9 449.6,312.9 449.8,312.9 450.0,312.9 450.2,312.9 450.4,312.9 450.6,312.9 450.8,312.9 451.0,312.9 451.2,312.9 451.4,312.9 451.6,312.9 451.8,312.9 452.0,312.9 452.2,312.9 452.4,312.9 452.6,312.9 452.8,312.9 453.0,312.9 453.2,312.9 453.4,312.9 453.6,312.9 453.8,312.9 454.0,312.9 454.2,312.9 454.4,312.9 454.6,312.9 454.8,312.9 455.0,312.9 455.2,312.9 455.4,312.9 455.6,312.9 455.8,312.9 456.0,312.9 456.2,312.9 456.4,312.9 456.6,312.9 456.8,312.9 457.0,312.9 457.2,312.9 457.4,312.9 457.6,312.9 457.8,312.9 458.0,312.9 458.2,312.9 458.4,312.9 458.6,312.9 458.8,312.9 459.0,312.9 459.2,312.9 459.4,312.9 459.6,312.9 459.8,312.9 460.0,312.9 460.2,312.9 460.4,312.9 460.6,312.9 460.8,312.9 461.0,312.9 461.2,312.9 461.4,312.9 461.6,312.9 461.8,312.9 462.0,312.9 462.2,312.9 462.4,312.9 462.6,312.9 462.8,312.9 463.0,312.9 463.2,312.9 463.4,312.9 463.6,312.9 463.8,312.9 464.0,312.9 464.2,312.9 464.4,312.9 464.6,312.9 464.8,312.9 465.0,312.9 465.2,312.9 465.4,312.9 465.6,312.9 465.8,312.9 466.0,312.9 466.2,312.9 466.4,312.9 466.6,312.9 466.8,312.9 467.0,312.9 467.2,312.9 467.4,312.9 467.6,312.9 467.8,312.9 468.0,312.9 468.2,312.9 468.4,312.9 468.6,312.9 468.8,312.9 469.0,312.9 469.2,312.9 469.4,312.9 469.6,312.9 469.8,312.9 470.0,312.9 470.2,312.9 470.4,312.9 470.6,312.9 470.8,312.9 471.0,312.9 471.2,312.9 471.4,312.9 471.6,312.9 471.8,312.9 472.0,312.9 472.2,312.9 472.4,312.9 472.6,312.9 472.8,312.9 473.0,312.9 473.2,312.9 473.4,312.9 473.6,312.9 473.8,312.9 474.0,312.9 474.2,312.9 474.4,312.9 474.6,312.9 474.8,312.9 475.0,312.9 475.2,312.9 475.4,312.9 475.6,312.9 475.8,312.9 476.0,312.9 476.2,312.9 476.4,312.9 476.6,312.9 476.8,312.9 477.0,312.9 477.2,312.9 477.4,312.9 477.6,312.9 477.8,312.9 478.0,312.9 478.2,312.9 478.4,312.9 478.6,312.9 478.8,312.9 479.0,312.9 479.2,312.9 479.4,312.9 479.6,312.9 479.8,312.9 480.0,312.9 480.2,312.9 480.4,312.9 480.6,312.9 480.8,312.9 481.0,312.9 481.2,312.9 481.4,312.9 481.6,312.9 481.8,312.9 482.0,312.9 482.2,312.9 482.4,312.9 482.6,312.9 482.8,312.9 483.0,312.9 483.2,312.9 483.4,312.9 483.6,312.9 483.8,312.9 484.0,312.9 484.2,312.9 484.4,312.9 484.6,312.9 484.8,312.9 485.0,312.9 485.2,312.9 485.4,312.9 485.6,312.9 485.8,312.9 486.0,312.9 486.2,312.9 486.4,312.9 486.6,312.9 486.8,312.9 487.0,312.9 487.2,312.9 487.4,312.9 487.6,312.9 487.8,312.9 488.0,312.9 488.2,312.9 488.4,312.9 488.6,312.9 488.8,312.9 489.0,312.9 489.2,312.9 489.4,312.9 489.6,312.9 489.8,312.9 490.0,312.9 490.2,312.9 490.4,312.9 490.6,312.9 490.8,312.9 491.0,312.9 491.2,312.9 491.4,312.9 491.6,312.9 491.8,312.9 492.0,312.9 492.2,312.9 492.4,312.9 492.6,312.9 492.8,312.9 493.0,312.9 493.2,312.9 493.4,312.9 493.6,312.9 493.8,312.9 494.0,312.9 494.2,312.9 494.4,312.9 494.6,312.9 494.8,312.9 495.0,312.9 495.2,312.9 495.4,312.9 495.6,312.9 495.8,312.9 496.0,312.9 496.2,312.9 496.4,312.9 496.6,312.9 496.8,312.9 497.0,312.9 497.2,312.9 497.4,312.9 497.6,312.9 497.8,312.9 498.0,312.9 498.2,312.9 498.4,312.9 498.6,312.9 498.8,312.9 499.0,312.9 499.2,312.9 499.4,312.9 499.6,312.9 499.8,312.9 500.0,312.9 500.2,312.9 500.4,312.9 500.6,312.9 500.8,312.9 501.0,312.9 501.2,312.9 501.4,312.9 501.6,312.9 501.8,312.9 502.0,312.9 502.2,312.9 502.4,312.9 502.6,312.9 502.8,312.9 503.0,312.9 503.2,312.9 503.4,312.9 503.6,312.9 503.8,312.9 504.0,312.9 504.2,312.9 504.4,312.9 504.6,312.9 504.8,312.9 505.0,312.9 505.2,312.9 505.4,312.9 505.6,312.9 505.8,312.9 506.0,312.9 506.2,312.9 506.4,312.9 506.6,312.9 506.8,312.9 507.0,312.9 507.2,312.9 507.4,312.9 507.6,312.9 507.8,312.9 508.0,312.9 508.2,312.9 508.4,312.9 508.6,312.9 508.8,312.9 509.0,312.9 509.2,312.9 509.4,312.9 509.6,312.9 509.8,312.9 510.0,312.9 510.2,312.9 510.4,312.9 510.6,312.9 510.8,312.9 511.0,312.9 511.2,312.9 511.4,312.9 511.6,312.9 511.8,312.9 512.0,312.9 512.2,312.9 512.4,312.9 512.6,312.9 512.8,312.9 513.0,312.9 513.2,312.9 513.4,312.9 513.6,312.9 513.8,312.9 514.0,312.9 514.2,312.9 514.4,312.9 514.6,312.9 514.8,312.9 515.0,312.9 515.2,312.9 515.4,312.9 515.6,312.9 515.8,312.9 516.0,312.9 516.2,312.9 516.4,312.9 516.6,312.9 516.8,312.9 517.0,312.9 517.2,312.9 517.4,312.9 517.6,312.9 517.8,312.9 518.0,312.9 518.2,312.9 518.4,312.9 518.6,312.9 518.8,312.9 519.0,312.9 519.2,312.9 519.4,312.9 519.6,312.9 519.8,312.9 520.0,312.9 520.2,312.9 520.4,312.9 520.6,312.9 520.8,312.9 521.0,312.9 521.2,312.9 521.4,312.9 521.6,312.9 521.8,312.9 522.0,312.9 522.2,312.9 522.4,312.9 522.6,312.9 522.8,312.9 523.0,312.9 523.2,312.9 523.4,312.9 523.6,312.9 523.8,312.9 524.0,312.9 524.2,312.9 524.4,312.9 524.6,312.9 524.8,312.9 525.0,312.9 525.2,312.9 525.4,312.9 525.6,312.9 525.8,312.9 526.0,312.9 526.2,312.9 526.4,312.9 526.6,312.9 526.8,312.9 527.0,312.9 527.2,312.9 527.4,312.9 527.6,312.9 527.8,312.9 528.0,312.9 528.2,312.9 528.4,312.9 528.6,312.9 528.8,312.9 529.0,312.9 529.2,312.9 529.4,312.9 529.6,312.9 529.8,312.9 530.0,312.9 530.2,312.9 530.4,312.9 530.6,312.9 530.8,312.9 531.0,312.9 531.2,312.9 531.4,312.9 531.6,312.9 531.8,312.9 532.0,312.9 532.2,312.9 532.4,312.9 532.6,312.9 532.8,312.9 533.0,312.9 533.2,312.9 533.4,312.9 533.6,312.9 533.8,312.9 534.0,312.9 534.2,312.9 534.4,312.9 534.6,312.9 534.8,312.9 535.0,312.9 535.2,312.9 535.4,312.9 535.6,312.9 535.8,312.9 536.0,312.9 536.2,312.9 536.4,312.9 536.6,312.9 536.8,312.9 537.0,312.9 537.2,312.9 537.4,312.9 537.6,312.9 537.8,312.9 538.0,312.9 538.2,312.9 538.4,312.9 538.6,312.9 538.8,312.9 539.0,312.9 539.2,312.8 539.4,312.7 539.6,312.6 539.8,312.3 540.0,312.0 540.2,311.7 540.4,311.5 540.5,311.5 540.6,311.5 540.8,311.7 541.0,312.0 541.2,312.3 541.4,312.6 541.6,312.7 541.8,312.8 542.0,312.9" fill="none" stroke="#ff1a1a" stroke-width="1.05" stroke-linejoin="round"/>
<polyline clip-path="url(#cp3)" points="43.6,416.4 43.8,416.4 44.0,416.4 44.2,416.4 44.4,416.4 44.6,416.4 44.8,416.4 45.0,416.4 45.2,416.4 45.4,416.4 45.6,416.4 45.8,416.4 46.0,416.4 46.2,416.4 46.4,416.4 46.6,416.4 46.8,416.4 47.0,416.4 47.2,416.4 47.4,416.4 47.6,416.4 47.8,416.4 48.0,416.4 48.2,416.4 48.4,416.4 48.6,416.4 48.8,416.4 49.0,416.4 49.2,416.4 49.4,416.4 49.6,416.4 49.8,416.4 50.0,416.4 50.2,416.4 50.4,416.4 50.6,416.4 50.8,416.4 51.0,416.4 51.2,416.4 51.4,416.4 51.6,416.4 51.8,416.4 52.0,416.4 52.2,416.4 52.4,416.4 52.6,416.4 52.8,416.4 53.0,416.4 53.2,416.4 53.4,416.4 53.6,416.4 53.8,416.4 54.0,416.4 54.2,416.4 54.4,416.4 54.6,416.4 54.8,416.4 55.0,416.4 55.2,416.4 55.4,416.4 55.6,416.4 55.8,416.4 56.0,416.4 56.2,416.4 56.4,416.4 56.6,416.4 56.8,416.4 57.0,416.4 57.2,416.4 57.4,416.4 57.6,416.4 57.8,416.4 58.0,416.4 58.2,416.4 58.4,416.4 58.6,416.4 58.8,416.4 59.0,416.4 59.2,416.4 59.4,416.4 59.6,416.4 59.8,416.4 60.0,416.4 60.2,416.4 60.4,416.4 60.6,416.4 60.8,416.4 61.0,416.4 61.2,416.4 61.4,416.4 61.6,416.4 61.8,416.4 62.0,416.4 62.2,416.4 62.4,416.4 62.6,416.4 62.8,416.4 63.0,416.4 63.2,416.4 63.4,416.4 63.6,416.4 63.8,416.4 64.0,416.4 64.2,416.4 64.4,416.4 64.6,416.4 64.8,416.4 65.0,416.4 65.2,416.4 65.4,416.4 65.6,416.4 65.8,416.4 66.0,416.4 66.2,416.4 66.4,416.4 66.6,416.4 66.8,416.4 67.0,416.4 67.2,416.4 67.4,416.4 67.6,416.4 67.8,416.4 68.0,416.4 68.2,416.4 68.4,416.4 68.6,416.4 68.8,416.4 69.0,416.4 69.2,416.4 69.4,416.4 69.6,416.4 69.8,416.4 70.0,416.4 70.2,416.4 70.4,416.4 70.6,416.4 70.8,416.4 71.0,416.4 71.2,416.4 71.4,416.4 71.6,416.4 71.8,416.4 72.0,416.4 72.2,416.4 72.4,416.4 72.6,416.4 72.8,416.4 73.0,416.4 73.2,416.4 73.4,416.4 73.6,416.4 73.8,416.4 74.0,416.4 74.2,416.4 74.4,416.4 74.6,416.4 74.8,416.4 75.0,416.4 75.2,416.4 75.4,416.4 75.6,416.4 75.8,416.4 76.0,416.4 76.2,416.4 76.4,416.4 76.6,416.4 76.8,416.4 77.0,416.4 77.2,416.4 77.4,416.4 77.6,416.4 77.8,416.4 78.0,416.4 78.2,416.4 78.4,416.4 78.6,416.4 78.8,416.4 79.0,416.4 79.2,416.4 79.4,416.4 79.6,416.4 79.8,416.4 80.0,416.4 80.2,416.4 80.4,416.4 80.6,416.4 80.8,416.4 81.0,416.4 81.2,416.4 81.4,416.4 81.6,416.4 81.8,416.4 82.0,416.4 82.2,416.4 82.4,416.4 82.6,416.4 82.8,416.4 83.0,416.4 83.2,416.4 83.4,416.4 83.6,416.4 83.8,416.4 84.0,416.4 84.2,416.4 84.4,416.4 84.6,416.4 84.8,416.4 85.0,416.4 85.2,416.4 85.4,416.4 85.6,416.4 85.8,416.4 86.0,416.4 86.2,416.4 86.4,416.4 86.6,416.4 86.8,416.4 87.0,416.4 87.2,416.4 87.4,416.4 87.6,416.4 87.8,416.4 88.0,416.4 88.2,416.4 88.4,416.4 88.6,416.4 88.8,416.4 89.0,416.4 89.2,416.4 89.4,416.4 89.6,416.4 89.8,416.4 90.0,416.4 90.2,416.4 90.4,416.4 90.6,416.4 90.8,416.4 91.0,416.4 91.2,416.4 91.4,416.4 91.6,416.4 91.8,416.4 92.0,416.4 92.2,416.4 92.4,416.4 92.6,416.4 92.8,416.4 93.0,416.4 93.2,416.4 93.4,416.4 93.6,416.4 93.8,416.4 94.0,416.4 94.2,416.4 94.4,416.4 94.6,416.4 94.8,416.4 95.0,416.4 95.2,416.4 95.4,416.4 95.6,416.4 95.8,416.4 96.0,416.4 96.2,416.4 96.4,416.4 96.6,416.4 96.8,416.4 97.0,416.4 97.2,416.4 97.4,416.4 97.6,416.4 97.8,416.4 98.0,416.4 98.2,416.4 98.4,416.4 98.6,416.4 98.8,416.4 99.0,416.4 99.2,416.4 99.4,416.4 99.6,416.4 99.8,416.4 100.0,416.4 100.2,416.4 100.4,416.4 100.6,416.4 100.8,416.4 101.0,416.4 101.2,416.4 101.4,416.4 101.6,416.4 101.8,416.4 102.0,416.4 102.2,416.4 102.4,416.4 102.6,416.4 102.8,416.4 103.0,416.4 103.2,416.4 103.4,416.4 103.6,416.4 103.8,416.4 104.0,416.4 104.2,416.4 104.4,416.4 104.6,416.4 104.8,416.4 105.0,416.4 105.2,416.4 105.4,416.4 105.6,416.4 105.8,416.4 106.0,416.4 106.2,416.4 106.4,416.4 106.6,416.4 106.8,416.4 107.0,416.4 107.2,416.4 107.4,416.4 107.6,416.4 107.8,416.4 108.0,416.4 108.2,416.4 108.4,416.4 108.6,416.4 108.8,416.4 109.0,416.4 109.2,416.4 109.4,416.4 109.6,416.4 109.8,416.4 110.0,416.4 110.2,416.4 110.4,416.4 110.6,416.4 110.8,416.4 111.0,416.4 111.2,416.4 111.4,416.4 111.6,416.4 111.8,416.4 112.0,416.4 112.2,416.4 112.4,416.4 112.6,416.4 112.8,416.4 113.0,416.4 113.2,416.4 113.4,416.4 113.6,416.4 113.8,416.4 114.0,416.4 114.2,416.4 114.4,416.4 114.6,416.4 114.8,416.4 115.0,416.4 115.2,416.4 115.4,416.4 115.6,416.4 115.8,416.4 116.0,416.4 116.2,416.4 116.4,416.4 116.6,416.4 116.8,416.4 117.0,416.4 117.2,416.4 117.4,416.4 117.6,416.4 117.8,416.4 118.0,416.4 118.2,416.4 118.4,416.4 118.6,416.4 118.8,416.4 119.0,416.4 119.2,416.4 119.4,416.4 119.6,416.4 119.8,416.4 120.0,416.4 120.2,416.4 120.4,416.4 120.6,416.4 120.8,416.4 121.0,416.4 121.2,416.4 121.4,416.4 121.6,416.4 121.8,416.4 122.0,416.4 122.2,416.4 122.4,416.4 122.6,416.4 122.8,416.4 123.0,416.4 123.2,416.4 123.4,416.4 123.6,416.4 123.8,416.4 124.0,416.4 124.2,416.4 124.4,416.4 124.6,416.4 124.8,416.4 125.0,416.4 125.2,416.4 125.4,416.4 125.6,416.4 125.8,416.4 126.0,416.4 126.2,416.4 126.4,416.4 126.6,416.4 126.8,416.4 127.0,416.4 127.2,416.4 127.4,416.4 127.6,416.4 127.8,416.4 128.0,416.4 128.2,416.4 128.4,416.4 128.6,416.4 128.8,416.4 129.0,416.4 129.2,416.4 129.4,416.4 129.6,416.4 129.8,416.4 130.0,416.4 130.2,416.4 130.4,416.4 130.6,416.4 130.8,416.4 131.0,416.4 131.2,416.4 131.4,416.4 131.6,416.4 131.8,416.4 132.0,416.4 132.2,416.4 132.4,416.4 132.6,416.4 132.8,416.4 133.0,416.4 133.2,416.4 133.4,416.4 133.6,416.4 133.8,416.4 134.0,416.4 134.2,416.4 134.4,416.4 134.6,416.4 134.8,416.4 135.0,416.4 135.2,416.4 135.4,416.4 135.6,416.4 135.8,416.4 136.0,416.4 136.2,416.4 136.4,416.4 136.6,416.4 136.8,416.4 137.0,416.4 137.2,416.4 137.4,416.4 137.6,416.4 137.8,416.4 138.0,416.4 138.2,416.4 138.4,416.4 138.6,416.4 138.8,416.4 139.0,416.4 139.2,416.4 139.4,416.4 139.6,416.4 139.8,416.4 140.0,416.4 140.2,416.4 140.4,416.4 140.6,416.4 140.8,416.4 141.0,416.4 141.2,416.4 141.4,416.4 141.6,416.4 141.8,416.4 142.0,416.4 142.2,416.4 142.4,416.4 142.6,416.4 142.8,416.4 143.0,416.4 143.2,416.4 143.4,416.4 143.6,416.4 143.8,416.4 144.0,416.4 144.2,416.4 144.4,416.4 144.6,416.4 144.8,416.4 145.0,416.4 145.2,416.4 145.4,416.4 145.6,416.4 145.8,416.4 146.0,416.4 146.2,416.4 146.4,416.4 146.6,416.4 146.8,416.4 147.0,416.4 147.2,416.4 147.4,416.4 147.6,416.4 147.8,416.4 148.0,416.4 148.2,416.4 148.4,416.4 148.6,416.4 148.8,416.4 149.0,416.4 149.2,416.4 149.4,416.4 149.6,416.4 149.8,416.4 150.0,416.4 150.2,416.4 150.4,416.4 150.6,416.4 150.8,416.4 151.0,416.4 151.2,416.4 151.4,416.4 151.6,416.4 151.8,416.4 152.0,416.4 152.2,416.4 152.4,416.4 152.6,416.4 152.8,416.4 153.0,416.4 153.2,416.4 153.4,416.4 153.6,416.4 153.8,416.4 154.0,416.4 154.2,416.4 154.4,416.4 154.6,416.4 154.8,416.4 155.0,416.4 155.2,416.4 155.4,416.4 155.6,416.4 155.8,416.4 156.0,416.4 156.2,416.4 156.4,416.4 156.6,416.4 156.8,416.4 157.0,416.4 157.2,416.4 157.4,416.4 157.6,416.4 157.8,416.4 158.0,416.4 158.2,416.4 158.4,416.4 158.6,416.4 158.8,416.4 159.0,416.4 159.2,416.4 159.4,416.4 159.6,416.4 159.8,416.4 160.0,416.4 160.2,416.4 160.4,416.4 160.6,416.4 160.8,416.4 161.0,416.4 161.2,416.4 161.4,416.4 161.6,416.4 161.8,416.4 162.0,416.4 162.2,416.4 162.4,416.4 162.6,416.4 162.8,416.4 163.0,416.4 163.2,416.4 163.4,416.4 163.6,416.4 163.8,416.4 164.0,416.4 164.2,416.4 164.4,416.4 164.6,416.4 164.8,416.4 165.0,416.4 165.2,416.4 165.4,416.4 165.6,416.4 165.8,416.4 166.0,416.4 166.2,416.4 166.4,416.4 166.6,416.4 166.8,416.4 167.0,416.4 167.2,416.4 167.4,416.4 167.6,416.4 167.8,416.4 168.0,416.4 168.2,416.4 168.4,416.4 168.6,416.4 168.8,416.4 169.0,416.4 169.2,416.4 169.4,416.4 169.6,416.4 169.8,416.4 170.0,416.4 170.2,416.4 170.4,416.4 170.6,416.4 170.8,416.4 171.0,416.4 171.2,416.4 171.4,416.4 171.6,416.4 171.8,416.4 172.0,416.4 172.2,416.4 172.4,416.4 172.6,416.4 172.8,416.4 173.0,416.4 173.2,416.4 173.4,416.4 173.6,416.4 173.8,416.4 174.0,416.4 174.2,416.4 174.4,416.4 174.6,416.4 174.8,416.4 175.0,416.4 175.2,416.4 175.4,416.4 175.6,416.4 175.8,416.4 176.0,416.4 176.2,416.4 176.4,416.4 176.6,416.4 176.8,416.4 177.0,416.4 177.2,416.4 177.4,416.4 177.6,416.4 177.8,416.4 178.0,416.4 178.2,416.4 178.4,416.4 178.6,416.4 178.8,416.4 179.0,416.4 179.2,416.4 179.4,416.4 179.6,416.4 179.8,416.4 180.0,416.4 180.2,416.4 180.4,416.4 180.6,416.4 180.8,416.4 181.0,416.4 181.2,416.4 181.4,416.4 181.6,416.4 181.8,416.4 182.0,416.4 182.2,416.4 182.4,416.4 182.6,416.4 182.8,416.4 183.0,416.4 183.2,416.4 183.4,416.4 183.6,416.4 183.8,416.4 184.0,416.4 184.2,416.4 184.4,416.4 184.6,416.4 184.8,416.4 185.0,416.4 185.2,416.4 185.4,416.4 185.6,416.4 185.8,416.4 186.0,416.4 186.2,416.4 186.4,416.4 186.6,416.4 186.8,416.4 187.0,416.4 187.2,416.4 187.4,416.4 187.6,416.4 187.8,416.4 188.0,416.4 188.2,416.4 188.4,416.4 188.6,416.4 188.8,416.4 189.0,416.4 189.2,416.4 189.4,416.4 189.6,416.4 189.8,416.4 190.0,416.4 190.2,416.4 190.4,416.4 190.6,416.4 190.8,416.4 191.0,416.4 191.2,416.4 191.4,416.4 191.6,416.4 191.8,416.4 192.0,416.4 192.2,416.4 192.4,416.4 192.6,416.4 192.8,416.4 193.0,416.4 193.2,416.4 193.4,416.4 193.6,416.4 193.8,416.4 194.0,416.4 194.2,416.4 194.4,416.4 194.6,416.4 194.8,416.4 195.0,416.4 195.2,416.4 195.4,416.4 195.6,416.4 195.8,416.4 196.0,416.4 196.2,416.4 196.4,416.4 196.6,416.4 196.8,416.4 197.0,416.4 197.2,416.4 197.4,416.4 197.6,416.4 197.8,416.4 198.0,416.4 198.2,416.4 198.4,416.4 198.6,416.4 198.8,416.4 199.0,416.4 199.2,416.4 199.4,416.4 199.6,416.4 199.8,416.4 200.0,416.4 200.2,416.4 200.4,416.4 200.6,416.4 200.8,416.4 201.0,416.4 201.2,416.4 201.4,416.4 201.6,416.4 201.8,416.4 202.0,416.4 202.2,416.4 202.4,416.4 202.6,416.4 202.8,416.4 203.0,416.4 203.2,416.4 203.4,416.4 203.6,416.4 203.8,416.4 204.0,416.4 204.2,416.4 204.4,416.4 204.6,416.4 204.8,416.4 205.0,416.4 205.2,416.4 205.4,416.4 205.6,416.4 205.8,416.4 206.0,416.4 206.2,416.4 206.4,416.4 206.6,416.4 206.8,416.4 207.0,416.4 207.2,416.4 207.4,416.4 207.6,416.4 207.8,416.4 208.0,416.4 208.2,416.4 208.4,416.4 208.6,416.4 208.8,416.4 209.0,416.4 209.2,416.4 209.4,416.4 209.6,416.4 209.8,416.4 210.0,416.4 210.2,416.4 210.4,416.4 210.6,416.4 210.8,416.4 211.0,416.4 211.2,416.4 211.4,416.4 211.6,416.4 211.8,416.4 212.0,416.4 212.2,416.4 212.4,416.4 212.6,416.4 212.8,416.4 213.0,416.4 213.2,416.4 213.4,416.4 213.6,416.4 213.8,416.4 214.0,416.4 214.2,416.4 214.4,416.4 214.6,416.4 214.8,416.4 215.0,416.4 215.2,416.4 215.4,416.4 215.6,416.4 215.8,416.4 216.0,416.4 216.2,416.4 216.4,416.4 216.6,416.4 216.8,416.4 217.0,416.4 217.2,416.4 217.4,416.4 217.6,416.4 217.8,416.4 218.0,416.4 218.2,416.4 218.4,416.4 218.6,416.4 218.8,416.4 219.0,416.4 219.2,416.4 219.4,416.4 219.6,416.4 219.8,416.4 220.0,416.4 220.2,416.4 220.4,416.4 220.6,416.4 220.8,416.4 221.0,416.4 221.2,416.4 221.4,416.4 221.6,416.4 221.8,416.4 222.0,416.4 222.2,416.4 222.4,416.4 222.6,416.4 222.8,416.4 223.0,416.4 223.2,416.4 223.4,416.4 223.6,416.4 223.8,416.4 224.0,416.4 224.2,416.4 224.4,416.4 224.6,416.4 224.8,416.4 225.0,416.4 225.2,416.4 225.4,416.4 225.6,416.4 225.8,416.4 226.0,416.4 226.2,416.4 226.4,416.4 226.6,416.4 226.8,416.4 227.0,416.4 227.2,416.4 227.4,416.4 227.6,416.4 227.8,416.4 228.0,416.4 228.2,416.4 228.4,416.4 228.6,416.4 228.8,416.4 229.0,416.4 229.2,416.4 229.4,416.4 229.6,416.4 229.8,416.4 230.0,416.4 230.2,416.4 230.4,416.4 230.6,416.4 230.8,416.4 231.0,416.4 231.2,416.4 231.4,416.4 231.6,416.4 231.8,416.4 232.0,416.4 232.2,416.4 232.4,416.4 232.6,416.4 232.8,416.4 233.0,416.4 233.2,416.4 233.4,416.4 233.6,416.4 233.8,416.4 234.0,416.4 234.2,416.4 234.4,416.4 234.6,416.4 234.8,416.4 235.0,416.4 235.2,416.4 235.4,416.4 235.6,416.4 235.8,416.4 236.0,416.4 236.2,416.4 236.4,416.4 236.6,416.4 236.8,416.4 237.0,416.4 237.2,416.4 237.4,416.4 237.6,416.4 237.8,416.4 238.0,416.4 238.2,416.4 238.4,416.4 238.6,416.4 238.8,416.4 239.0,416.4 239.2,416.4 239.4,416.4 239.6,416.4 239.8,416.4 240.0,416.4 240.2,416.4 240.4,416.4 240.6,416.4 240.8,416.4 241.0,416.4 241.2,416.4 241.4,416.4 241.6,416.4 241.8,416.4 242.0,416.4 242.2,416.4 242.4,416.4 242.6,416.4 242.8,416.4 243.0,416.4 243.2,416.4 243.4,416.4 243.6,416.4 243.8,416.4 244.0,416.4 244.2,416.4 244.4,416.4 244.6,416.4 244.8,416.4 245.0,416.4 245.2,416.4 245.4,416.4 245.6,416.4 245.8,416.4 246.0,416.4 246.2,416.4 246.4,416.4 246.6,416.4 246.8,416.4 247.0,416.4 247.2,416.4 247.4,416.4 247.6,416.4 247.8,416.4 248.0,416.4 248.2,416.4 248.4,416.4 248.6,416.4 248.8,416.4 249.0,416.4 249.2,416.4 249.4,416.4 249.6,416.4 249.8,416.4 250.0,416.4 250.2,416.4 250.4,416.4 250.6,416.4 250.8,416.4 251.0,416.4 251.2,416.4 251.4,416.4 251.6,416.4 251.8,416.4 252.0,416.4 252.2,416.4 252.4,416.4 252.6,416.4 252.8,416.4 253.0,416.4 253.2,416.4 253.4,416.4 253.6,416.4 253.8,416.4 254.0,416.4 254.2,416.4 254.4,416.4 254.6,416.4 254.8,416.4 255.0,416.4 255.2,416.4 255.4,416.4 255.6,416.4 255.8,416.4 256.0,416.4 256.2,416.4 256.4,416.4 256.6,416.4 256.8,416.4 257.0,416.4 257.2,416.4 257.4,416.4 257.6,416.4 257.8,416.4 258.0,416.4 258.2,416.4 258.4,416.4 258.6,416.4 258.8,416.4 259.0,416.4 259.2,416.4 259.4,416.4 259.6,416.4 259.8,416.4 260.0,416.4 260.2,416.4 260.4,416.4 260.6,416.4 260.8,416.4 261.0,416.4 261.2,416.4 261.4,416.4 261.6,416.4 261.8,416.4 262.0,416.4 262.2,416.4 262.4,416.4 262.6,416.4 262.8,416.4 263.0,416.4 263.2,416.4 263.4,416.4 263.6,416.4 263.8,416.4 264.0,416.4 264.2,416.4 264.4,416.4 264.6,416.4 264.8,416.4 265.0,416.4 265.2,416.4 265.4,416.4 265.6,416.4 265.8,416.4 266.0,416.4 266.2,416.4 266.4,416.4 266.6,416.4 266.8,416.4 267.0,416.4 267.2,416.4 267.4,416.4 267.6,416.4 267.8,416.4 268.0,416.4 268.2,416.4 268.4,416.4 268.6,416.4 268.8,416.4 269.0,416.4 269.2,416.4 269.4,416.4 269.6,416.4 269.8,416.4 270.0,416.4 270.2,416.4 270.4,416.4 270.6,416.4 270.8,416.4 271.0,416.4 271.2,416.4 271.4,416.4 271.6,416.4 271.8,416.4 272.0,416.4 272.2,416.4 272.4,416.4 272.6,416.4 272.8,416.4 273.0,416.4 273.2,416.4 273.4,416.4 273.6,416.4 273.8,416.4 274.0,416.4 274.2,416.4 274.4,416.4 274.6,416.4 274.8,416.4 275.0,416.4 275.2,416.4 275.4,416.4 275.6,416.4 275.8,416.4 276.0,416.4 276.2,416.4 276.4,416.4 276.6,416.4 276.8,416.4 277.0,416.4 277.2,416.4 277.4,416.4 277.6,416.4 277.8,416.4 278.0,416.4 278.2,416.4 278.4,416.4 278.6,416.4 278.8,416.4 279.0,416.4 279.2,416.4 279.4,416.4 279.6,416.4 279.8,416.4 280.0,416.4 280.2,416.4 280.4,416.4 280.6,416.4 280.8,416.4 281.0,416.4 281.2,416.4 281.4,416.4 281.6,416.4 281.8,416.4 282.0,416.4 282.2,416.4 282.4,416.4 282.6,416.4 282.8,416.4 283.0,416.4 283.2,416.4 283.4,416.4 283.6,416.4 283.8,416.4 284.0,416.4 284.2,416.4 284.4,416.4 284.6,416.4 284.8,416.4 285.0,416.4 285.2,416.4 285.4,416.4 285.6,416.4 285.8,416.4 286.0,416.4 286.2,416.4 286.4,416.4 286.6,416.4 286.8,416.4 287.0,416.4 287.2,416.4 287.4,416.4 287.6,416.4 287.8,416.4 288.0,416.4 288.2,416.4 288.4,416.4 288.6,416.4 288.8,416.4 289.0,416.4 289.2,416.4 289.4,416.4 289.6,416.4 289.8,416.4 290.0,416.4 290.2,416.4 290.4,416.4 290.6,416.4 290.8,416.4 291.0,416.4 291.2,416.4 291.4,416.4 291.6,416.4 291.8,416.4 292.0,416.4 292.2,416.4 292.4,416.4 292.6,416.4 292.8,416.4 293.0,416.4 293.2,416.4 293.4,416.4 293.6,416.4 293.8,416.4 294.0,416.4 294.2,416.4 294.4,416.4 294.6,416.4 294.8,416.4 295.0,416.4 295.2,416.4 295.4,416.4 295.6,416.4 295.8,416.4 296.0,416.4 296.2,416.4 296.4,416.4 296.6,416.4 296.8,416.4 297.0,416.4 297.2,416.4 297.4,416.4 297.6,416.4 297.8,416.4 298.0,416.4 298.2,416.3 298.4,416.0 298.6,415.2 298.8,413.6 299.0,411.2 299.2,408.6 299.4,406.8 299.5,406.5 299.6,406.8 299.8,408.6 300.0,411.2 300.2,413.6 300.4,415.2 300.6,416.0 300.8,416.3 301.0,416.4 301.2,416.4 301.4,416.4 301.6,416.4 301.8,416.4 302.0,416.1 302.2,415.2 302.4,412.1 302.6,404.6 302.8,390.9 303.0,374.0 303.2,361.7 303.3,359.9 303.4,361.6 303.6,373.8 303.8,390.3 304.0,402.8 304.2,408.6 304.4,409.3 304.6,408.1 304.8,407.4 304.8,407.4 305.0,408.3 305.2,410.5 305.4,412.9 305.6,414.7 305.8,415.6 306.0,415.4 306.2,413.5 306.4,408.5 306.6,399.5 306.8,388.3 307.0,380.1 307.1,378.9 307.2,380.1 307.4,388.2 307.6,399.4 307.8,408.2 308.0,412.6 308.2,413.2 308.4,411.2 308.6,407.9 308.8,404.8 309.0,403.5 309.0,403.5 309.2,404.6 309.4,407.1 309.6,409.1 309.8,408.7 310.0,405.8 310.2,401.5 310.4,398.3 310.5,397.9 310.6,398.4 310.8,401.8 311.0,406.7 311.2,411.2 311.4,414.1 311.6,415.5 311.8,415.8 312.0,415.3 312.2,414.3 312.4,413.0 312.6,411.7 312.8,411.2 312.8,411.2 313.0,411.7 313.2,412.9 313.4,414.3 313.6,415.1 313.8,415.1 314.0,414.3 314.2,412.6 314.4,410.8 314.6,409.5 314.7,409.3 314.8,409.5 315.0,410.8 315.2,412.7 315.4,414.4 315.6,415.5 315.8,416.1 316.0,416.3 316.2,416.3 316.4,416.0 316.6,414.9 316.8,411.7 317.0,405.0 317.2,394.8 317.4,384.7 317.6,380.4 317.6,380.4 317.8,384.7 318.0,394.8 318.2,404.9 318.4,411.5 318.6,414.2 318.8,414.3 319.0,413.1 319.2,411.6 319.4,410.5 319.5,410.3 319.6,410.5 319.8,411.6 320.0,413.1 320.2,414.4 320.4,414.9 320.6,414.2 320.8,412.4 321.0,409.8 321.2,407.5 321.4,406.5 321.4,406.5 321.6,407.5 321.8,409.8 322.0,412.3 322.2,414.0 322.4,414.2 322.6,412.8 322.8,410.2 323.0,407.0 323.2,404.9 323.3,404.6 323.4,404.9 323.6,407.0 323.8,410.2 324.0,413.1 324.2,414.9 324.4,415.9 324.6,416.2 324.8,416.2 325.0,415.8 325.2,414.8 325.4,412.8 325.6,409.7 325.8,406.3 326.0,403.9 326.1,403.6 326.2,403.9 326.4,406.3 326.6,409.7 326.8,412.8 327.0,414.8 327.2,415.8 327.4,416.2 327.6,416.2 327.8,415.6 328.0,414.1 328.2,410.5 328.4,404.2 328.6,396.0 328.8,388.6 329.0,385.6 329.0,385.6 329.2,388.6 329.4,395.9 329.6,403.7 329.8,408.8 330.0,409.2 330.2,404.5 330.4,395.4 330.6,384.2 330.8,374.3 330.9,370.3 331.0,366.5 331.2,357.0 331.4,342.5 331.6,327.3 331.8,322.8 331.8,322.8 332.0,336.3 332.2,360.9 332.4,382.0 332.6,387.7 332.8,375.8 333.0,353.9 333.2,336.8 333.3,334.3 333.4,336.9 333.6,354.8 333.8,379.4 334.0,399.2 334.2,410.1 334.4,414.2 334.6,414.6 334.8,412.6 335.0,408.7 335.2,403.6 335.4,398.9 335.6,397.0 335.6,397.0 335.8,398.9 336.0,403.5 336.2,408.6 336.4,412.3 336.6,413.8 336.8,413.4 337.0,411.6 337.2,409.2 337.4,407.6 337.5,407.4 337.6,407.6 337.8,409.3 338.0,411.7 338.2,413.9 338.4,415.3 338.6,416.0 338.8,416.3 339.0,416.3 339.2,416.1 339.4,415.4 339.6,413.9 339.8,411.3 340.0,407.9 340.2,404.9 340.4,403.6 340.4,403.6 340.6,404.9 340.8,407.9 341.0,411.3 341.2,413.9 341.4,415.4 341.6,416.1 341.8,416.3 342.0,416.4 342.2,416.4 342.4,416.4 342.6,416.4 342.8,416.3 343.0,416.1 343.2,415.4 343.4,413.9 343.6,411.3 343.8,407.9 344.0,404.9 344.2,403.6 344.2,403.6 344.4,404.9 344.6,407.9 344.8,411.3 345.0,413.9 345.2,415.3 345.4,415.5 345.6,414.0 345.8,409.0 346.0,398.5 346.2,382.5 346.4,366.7 346.6,359.9 346.6,359.9 346.8,366.7 347.0,382.5 347.2,398.5 347.4,409.0 347.6,414.0 347.8,415.4 348.0,415.2 348.2,413.8 348.4,411.7 348.6,409.3 348.8,407.6 348.9,407.4 349.0,407.6 349.2,409.2 349.4,411.5 349.6,413.1 349.8,413.0 350.0,410.1 350.2,404.1 350.4,396.0 350.6,388.6 350.8,385.6 350.8,385.6 351.0,388.6 351.2,396.0 351.4,404.2 351.6,410.5 351.8,414.1 352.0,415.6 352.2,416.1 352.4,416.1 352.6,415.4 352.8,413.5 353.0,409.9 353.2,404.2 353.4,398.0 353.6,393.8 353.7,393.2 353.8,393.8 354.0,398.0 354.2,404.2 354.4,409.8 354.6,413.4 354.8,414.9 355.0,415.2 355.2,414.7 355.4,414.2 355.6,414.0 355.6,414.0 355.8,414.2 356.0,414.8 356.2,415.5 356.4,415.9 356.6,416.2 356.8,416.3 357.0,416.4 357.2,416.4 357.4,416.4 357.6,416.4 357.8,416.4 358.0,416.4 358.2,416.4 358.4,416.4 358.6,416.4 358.8,416.4 359.0,416.4 359.2,416.4 359.4,416.4 359.6,416.4 359.8,416.4 360.0,416.4 360.2,416.4 360.4,416.4 360.6,416.4 360.8,416.4 361.0,416.4 361.2,416.4 361.4,416.4 361.6,416.4 361.8,416.4 362.0,416.4 362.2,416.4 362.4,416.4 362.6,416.4 362.8,416.4 363.0,416.4 363.2,416.4 363.4,416.4 363.6,416.4 363.8,416.4 364.0,416.4 364.2,416.4 364.4,416.4 364.6,416.4 364.8,416.4 365.0,416.4 365.2,416.4 365.4,416.4 365.6,416.4 365.8,416.4 366.0,416.4 366.2,416.4 366.4,416.4 366.6,416.4 366.8,416.4 367.0,416.4 367.2,416.4 367.4,416.4 367.6,416.4 367.8,416.4 368.0,416.4 368.2,416.4 368.4,416.4 368.6,416.4 368.8,416.4 369.0,416.4 369.2,416.4 369.4,416.4 369.6,416.4 369.8,416.4 370.0,416.4 370.2,416.4 370.4,416.4 370.6,416.4 370.8,416.4 371.0,416.4 371.2,416.4 371.4,416.4 371.6,416.4 371.8,416.4 372.0,416.4 372.2,416.4 372.4,416.4 372.6,416.4 372.8,416.4 373.0,416.4 373.2,416.4 373.4,416.4 373.6,416.4 373.8,416.4 374.0,416.4 374.2,416.4 374.4,416.4 374.6,416.4 374.8,416.4 375.0,416.4 375.2,416.4 375.4,416.4 375.6,416.4 375.8,416.4 376.0,416.4 376.2,416.4 376.4,416.4 376.6,416.4 376.8,416.4 377.0,416.4 377.2,416.4 377.4,416.4 377.6,416.4 377.8,416.4 378.0,416.4 378.2,416.4 378.4,416.4 378.6,416.4 378.8,416.4 379.0,416.4 379.2,416.4 379.4,416.4 379.6,416.4 379.8,416.4 380.0,416.4 380.2,416.4 380.4,416.4 380.6,416.4 380.8,416.4 381.0,416.4 381.2,416.4 381.4,416.4 381.6,416.4 381.8,416.4 382.0,416.4 382.2,416.4 382.4,416.4 382.6,416.4 382.8,416.4 383.0,416.4 383.2,416.4 383.4,416.4 383.6,416.4 383.8,416.4 384.0,416.4 384.2,416.4 384.4,416.4 384.6,416.4 384.8,416.4 385.0,416.4 385.2,416.4 385.4,416.4 385.6,416.4 385.8,416.4 386.0,416.4 386.2,416.4 386.4,416.4 386.6,416.4 386.8,416.4 387.0,416.4 387.2,416.4 387.4,416.4 387.6,416.4 387.8,416.4 388.0,416.4 388.2,416.4 388.4,416.4 388.6,416.4 388.8,416.4 389.0,416.4 389.2,416.4 389.4,416.4 389.6,416.4 389.8,416.4 390.0,416.4 390.2,416.4 390.4,416.4 390.6,416.4 390.8,416.4 391.0,416.4 391.2,416.4 391.4,416.4 391.6,416.4 391.8,416.4 392.0,416.4 392.2,416.4 392.4,416.4 392.6,416.4 392.8,416.4 393.0,416.4 393.2,416.4 393.4,416.4 393.6,416.4 393.8,416.4 394.0,416.4 394.2,416.4 394.4,416.4 394.6,416.4 394.8,416.4 395.0,416.4 395.2,416.4 395.4,416.4 395.6,416.4 395.8,416.4 396.0,416.4 396.2,416.4 396.4,416.4 396.6,416.4 396.8,416.4 397.0,416.4 397.2,416.4 397.4,416.4 397.6,416.4 397.8,416.4 398.0,416.4 398.2,416.4 398.4,416.4 398.6,416.4 398.8,416.4 399.0,416.4 399.2,416.4 399.4,416.4 399.6,416.4 399.8,416.4 400.0,416.4 400.2,416.4 400.4,416.4 400.6,416.4 400.8,416.4 401.0,416.4 401.2,416.4 401.4,416.4 401.6,416.4 401.8,416.4 402.0,416.4 402.2,416.4 402.4,416.4 402.6,416.4 402.8,416.4 403.0,416.4 403.2,416.4 403.4,416.4 403.6,416.4 403.8,416.4 404.0,416.4 404.2,416.4 404.4,416.4 404.6,416.4 404.8,416.4 405.0,416.4 405.2,416.4 405.4,416.4 405.6,416.4 405.8,416.4 406.0,416.4 406.2,416.4 406.4,416.4 406.6,416.4 406.8,416.4 407.0,416.4 407.2,416.4 407.4,416.4 407.6,416.4 407.8,416.4 408.0,416.4 408.2,416.4 408.4,416.4 408.6,416.4 408.8,416.4 409.0,416.4 409.2,416.4 409.4,416.4 409.6,416.4 409.8,416.4 410.0,416.4 410.2,416.4 410.4,416.4 410.6,416.4 410.8,416.4 411.0,416.4 411.2,416.4 411.4,416.4 411.6,416.4 411.8,416.4 412.0,416.4 412.2,416.4 412.4,416.4 412.6,416.4 412.8,416.4 413.0,416.4 413.2,416.4 413.4,416.4 413.6,416.4 413.8,416.4 414.0,416.4 414.2,416.4 414.4,416.4 414.6,416.4 414.8,416.4 415.0,416.4 415.2,416.4 415.4,416.4 415.6,416.4 415.8,416.4 416.0,416.4 416.2,416.4 416.4,416.4 416.6,416.4 416.8,416.4 417.0,416.4 417.2,416.4 417.4,416.4 417.6,416.4 417.8,416.4 418.0,416.4 418.2,416.4 418.4,416.4 418.6,416.4 418.8,416.4 419.0,416.4 419.2,416.4 419.4,416.4 419.6,416.4 419.8,416.4 420.0,416.4 420.2,416.4 420.4,416.4 420.6,416.4 420.8,416.4 421.0,416.4 421.2,416.4 421.4,416.4 421.6,416.4 421.8,416.4 422.0,416.4 422.2,416.4 422.4,416.4 422.6,416.4 422.8,416.4 423.0,416.4 423.2,416.4 423.4,416.4 423.6,416.4 423.8,416.4 424.0,416.4 424.2,416.4 424.4,416.4 424.6,416.4 424.8,416.4 425.0,416.4 425.2,416.4 425.4,416.4 425.6,416.4 425.8,416.4 426.0,416.4 426.2,416.4 426.4,416.4 426.6,416.4 426.8,416.4 427.0,416.4 427.2,416.4 427.4,416.4 427.6,416.4 427.8,416.4 428.0,416.4 428.2,416.4 428.4,416.4 428.6,416.4 428.8,416.4 429.0,416.4 429.2,416.4 429.4,416.4 429.6,416.4 429.8,416.4 430.0,416.4 430.2,416.4 430.4,416.4 430.6,416.4 430.8,416.4 431.0,416.4 431.2,416.4 431.4,416.4 431.6,416.4 431.8,416.4 432.0,416.4 432.2,416.4 432.4,416.4 432.6,416.4 432.8,416.4 433.0,416.4 433.2,416.4 433.4,416.4 433.6,416.4 433.8,416.4 434.0,416.4 434.2,416.4 434.4,416.4 434.6,416.4 434.8,416.4 435.0,416.4 435.2,416.4 435.4,416.4 435.6,416.4 435.8,416.4 436.0,416.4 436.2,416.4 436.4,416.4 436.6,416.4 436.8,416.4 437.0,416.4 437.2,416.4 437.4,416.4 437.6,416.4 437.8,416.4 438.0,416.4 438.2,416.4 438.4,416.4 438.6,416.4 438.8,416.4 439.0,416.4 439.2,416.4 439.4,416.4 439.6,416.4 439.8,416.4 440.0,416.4 440.2,416.4 440.4,416.4 440.6,416.4 440.8,416.4 441.0,416.4 441.2,416.4 441.4,416.4 441.6,416.4 441.8,416.4 442.0,416.4 442.2,416.4 442.4,416.4 442.6,416.4 442.8,416.4 443.0,416.4 443.2,416.4 443.4,416.4 443.6,416.4 443.8,416.4 444.0,416.4 444.2,416.4 444.4,416.4 444.6,416.4 444.8,416.4 445.0,416.4 445.2,416.4 445.4,416.4 445.6,416.4 445.8,416.4 446.0,416.4 446.2,416.4 446.4,416.4 446.6,416.4 446.8,416.4 447.0,416.4 447.2,416.4 447.4,416.4 447.6,416.4 447.8,416.4 448.0,416.4 448.2,416.4 448.4,416.4 448.6,416.4 448.8,416.4 449.0,416.4 449.2,416.4 449.4,416.4 449.6,416.4 449.8,416.4 450.0,416.4 450.2,416.4 450.4,416.4 450.6,416.4 450.8,416.4 451.0,416.4 451.2,416.4 451.4,416.4 451.6,416.4 451.8,416.4 452.0,416.4 452.2,416.4 452.4,416.4 452.6,416.4 452.8,416.4 453.0,416.4 453.2,416.4 453.4,416.4 453.6,416.4 453.8,416.4 454.0,416.4 454.2,416.4 454.4,416.4 454.6,416.4 454.8,416.4 455.0,416.4 455.2,416.4 455.4,416.4 455.6,416.4 455.8,416.4 456.0,416.4 456.2,416.4 456.4,416.4 456.6,416.4 456.8,416.4 457.0,416.4 457.2,416.4 457.4,416.4 457.6,416.4 457.8,416.4 458.0,416.4 458.2,416.4 458.4,416.4 458.6,416.4 458.8,416.4 459.0,416.4 459.2,416.4 459.4,416.4 459.6,416.4 459.8,416.4 460.0,416.4 460.2,416.4 460.4,416.4 460.6,416.4 460.8,416.4 461.0,416.4 461.2,416.4 461.4,416.4 461.6,416.4 461.8,416.4 462.0,416.4 462.2,416.4 462.4,416.4 462.6,416.4 462.8,416.4 463.0,416.4 463.2,416.4 463.4,416.4 463.6,416.4 463.8,416.4 464.0,416.4 464.2,416.4 464.4,416.4 464.6,416.4 464.8,416.4 465.0,416.4 465.2,416.4 465.4,416.4 465.6,416.4 465.8,416.4 466.0,416.4 466.2,416.4 466.4,416.4 466.6,416.4 466.8,416.4 467.0,416.4 467.2,416.4 467.4,416.4 467.6,416.4 467.8,416.4 468.0,416.4 468.2,416.4 468.4,416.4 468.6,416.4 468.8,416.4 469.0,416.4 469.2,416.4 469.4,416.4 469.6,416.4 469.8,416.4 470.0,416.4 470.2,416.4 470.4,416.4 470.6,416.4 470.8,416.4 471.0,416.4 471.2,416.4 471.4,416.4 471.6,416.4 471.8,416.4 472.0,416.4 472.2,416.4 472.4,416.4 472.6,416.4 472.8,416.4 473.0,416.4 473.2,416.4 473.4,416.4 473.6,416.4 473.8,416.4 474.0,416.4 474.2,416.4 474.4,416.4 474.6,416.4 474.8,416.4 475.0,416.4 475.2,416.4 475.4,416.4 475.6,416.4 475.8,416.4 476.0,416.4 476.2,416.4 476.4,416.4 476.6,416.4 476.8,416.4 477.0,416.4 477.2,416.4 477.4,416.4 477.6,416.4 477.8,416.4 478.0,416.4 478.2,416.4 478.4,416.4 478.6,416.4 478.8,416.4 479.0,416.4 479.2,416.4 479.4,416.4 479.6,416.4 479.8,416.4 480.0,416.4 480.2,416.4 480.4,416.4 480.6,416.4 480.8,416.4 481.0,416.4 481.2,416.4 481.4,416.4 481.6,416.4 481.8,416.4 482.0,416.4 482.2,416.4 482.4,416.4 482.6,416.4 482.8,416.4 483.0,416.4 483.2,416.4 483.4,416.4 483.6,416.4 483.8,416.4 484.0,416.4 484.2,416.4 484.4,416.4 484.6,416.4 484.8,416.4 485.0,416.4 485.2,416.4 485.4,416.4 485.6,416.4 485.8,416.4 486.0,416.4 486.2,416.4 486.4,416.4 486.6,416.4 486.8,416.4 487.0,416.4 487.2,416.4 487.4,416.4 487.6,416.4 487.8,416.4 488.0,416.4 488.2,416.4 488.4,416.4 488.6,416.4 488.8,416.4 489.0,416.4 489.2,416.4 489.4,416.4 489.6,416.4 489.8,416.4 490.0,416.4 490.2,416.4 490.4,416.4 490.6,416.4 490.8,416.4 491.0,416.4 491.2,416.4 491.4,416.4 491.6,416.4 491.8,416.4 492.0,416.4 492.2,416.4 492.4,416.4 492.6,416.4 492.8,416.4 493.0,416.4 493.2,416.4 493.4,416.4 493.6,416.4 493.8,416.4 494.0,416.4 494.2,416.4 494.4,416.4 494.6,416.4 494.8,416.4 495.0,416.4 495.2,416.4 495.4,416.4 495.6,416.4 495.8,416.4 496.0,416.4 496.2,416.4 496.4,416.4 496.6,416.4 496.8,416.4 497.0,416.4 497.2,416.4 497.4,416.4 497.6,416.4 497.8,416.4 498.0,416.4 498.2,416.4 498.4,416.4 498.6,416.4 498.8,416.4 499.0,416.4 499.2,416.4 499.4,416.4 499.6,416.4 499.8,416.4 500.0,416.4 500.2,416.4 500.4,416.4 500.6,416.4 500.8,416.4 501.0,416.4 501.2,416.4 501.4,416.4 501.6,416.4 501.8,416.4 502.0,416.4 502.2,416.4 502.4,416.4 502.6,416.4 502.8,416.4 503.0,416.4 503.2,416.4 503.4,416.4 503.6,416.4 503.8,416.4 504.0,416.4 504.2,416.4 504.4,416.4 504.6,416.4 504.8,416.4 505.0,416.4 505.2,416.4 505.4,416.4 505.6,416.4 505.8,416.4 506.0,416.4 506.2,416.4 506.4,416.4 506.6,416.4 506.8,416.4 507.0,416.4 507.2,416.4 507.4,416.4 507.6,416.4 507.8,416.4 508.0,416.4 508.2,416.4 508.4,416.4 508.6,416.4 508.8,416.4 509.0,416.4 509.2,416.4 509.4,416.4 509.6,416.4 509.8,416.4 510.0,416.4 510.2,416.4 510.4,416.4 510.6,416.4 510.8,416.4 511.0,416.4 511.2,416.4 511.4,416.4 511.6,416.4 511.8,416.4 512.0,416.4 512.2,416.4 512.4,416.4 512.6,416.4 512.8,416.4 513.0,416.4 513.2,416.4 513.4,416.4 513.6,416.4 513.8,416.4 514.0,416.4 514.2,416.4 514.4,416.4 514.6,416.4 514.8,416.4 515.0,416.4 515.2,416.4 515.4,416.4 515.6,416.4 515.8,416.4 516.0,416.4 516.2,416.4 516.4,416.4 516.6,416.4 516.8,416.4 517.0,416.4 517.2,416.4 517.4,416.4 517.6,416.4 517.8,416.4 518.0,416.4 518.2,416.4 518.4,416.4 518.6,416.4 518.8,416.4 519.0,416.4 519.2,416.4 519.4,416.4 519.6,416.4 519.8,416.4 520.0,416.4 520.2,416.4 520.4,416.4 520.6,416.4 520.8,416.4 521.0,416.4 521.2,416.4 521.4,416.4 521.6,416.4 521.8,416.4 522.0,416.4 522.2,416.4 522.4,416.4 522.6,416.4 522.8,416.4 523.0,416.4 523.2,416.4 523.4,416.4 523.6,416.4 523.8,416.4 524.0,416.4 524.2,416.4 524.4,416.4 524.6,416.4 524.8,416.4 525.0,416.4 525.2,416.4 525.4,416.4 525.6,416.4 525.8,416.4 526.0,416.4 526.2,416.4 526.4,416.4 526.6,416.4 526.8,416.4 527.0,416.4 527.2,416.4 527.4,416.4 527.6,416.4 527.8,416.4 528.0,416.4 528.2,416.4 528.4,416.4 528.6,416.4 528.8,416.4 529.0,416.4 529.2,416.4 529.4,416.4 529.6,416.4 529.8,416.4 530.0,416.4 530.2,416.4 530.4,416.4 530.6,416.4 530.8,416.4 531.0,416.4 531.2,416.4 531.4,416.4 531.6,416.4 531.8,416.4 532.0,416.4 532.2,416.4 532.4,416.4 532.6,416.4 532.8,416.4 533.0,416.4 533.2,416.4 533.4,416.4 533.6,416.4 533.8,416.4 534.0,416.4 534.2,416.4 534.4,416.4 534.6,416.4 534.8,416.4 535.0,416.4 535.2,416.4 535.4,416.4 535.6,416.4 535.8,416.4 536.0,416.4 536.2,416.4 536.4,416.4 536.6,416.4 536.8,416.4 537.0,416.4 537.2,416.4 537.4,416.4 537.6,416.4 537.8,416.4 538.0,416.4 538.2,416.4 538.4,416.4 538.6,416.4 538.8,416.4 539.0,416.4 539.2,416.4 539.4,416.4 539.6,416.4 539.8,416.4 540.0,416.4 540.2,416.4 540.4,416.4 540.6,416.4 540.8,416.4 541.0,416.4 541.2,416.4 541.4,416.4 541.6,416.4 541.8,416.4 542.0,416.4" fill="none" stroke="#2020e0" stroke-width="1.05" stroke-linejoin="round"/>
<polyline clip-path="url(#cp4)" points="43.6,518.8 43.8,518.8 44.0,518.8 44.2,518.8 44.4,518.8 44.6,518.8 44.8,518.8 45.0,518.8 45.2,518.8 45.4,518.8 45.6,518.8 45.8,518.8 46.0,518.8 46.2,518.8 46.4,518.8 46.6,518.8 46.8,518.8 47.0,518.8 47.2,518.8 47.4,518.8 47.6,518.8 47.8,518.8 48.0,518.8 48.2,518.8 48.4,518.8 48.6,518.8 48.8,518.8 49.0,518.8 49.2,518.8 49.4,518.8 49.6,518.8 49.8,518.8 50.0,518.8 50.2,518.8 50.4,518.8 50.6,518.8 50.8,518.8 51.0,518.8 51.2,518.8 51.4,518.8 51.6,518.8 51.8,518.8 52.0,518.8 52.2,518.8 52.4,518.8 52.6,518.8 52.8,518.8 53.0,518.8 53.2,518.8 53.4,518.8 53.6,518.8 53.8,518.8 54.0,518.8 54.2,518.8 54.4,518.8 54.6,518.8 54.8,518.8 55.0,518.8 55.2,518.8 55.4,518.8 55.6,518.8 55.8,518.8 56.0,518.8 56.2,518.8 56.4,518.8 56.6,518.8 56.8,518.8 57.0,518.8 57.2,518.8 57.4,518.8 57.6,518.8 57.8,518.8 58.0,518.8 58.2,518.8 58.4,518.8 58.6,518.8 58.8,518.8 59.0,518.8 59.2,518.8 59.4,518.8 59.6,518.8 59.8,518.8 60.0,518.8 60.2,518.8 60.4,518.8 60.6,518.8 60.8,518.8 61.0,518.8 61.2,518.8 61.4,518.8 61.6,518.8 61.8,518.8 62.0,518.8 62.2,518.8 62.4,518.8 62.6,518.8 62.8,518.8 63.0,518.8 63.2,518.8 63.4,518.8 63.6,518.8 63.8,518.8 64.0,518.8 64.2,518.8 64.4,518.8 64.6,518.8 64.8,518.8 65.0,518.8 65.2,518.8 65.4,518.8 65.6,518.8 65.8,518.8 66.0,518.8 66.2,518.8 66.4,518.8 66.6,518.8 66.8,518.8 67.0,518.8 67.2,518.8 67.4,518.8 67.6,518.8 67.8,518.8 68.0,518.8 68.2,518.8 68.4,518.8 68.6,518.8 68.8,518.8 69.0,518.8 69.2,518.8 69.4,518.8 69.6,518.8 69.8,518.8 70.0,518.8 70.2,518.8 70.4,518.8 70.6,518.8 70.8,518.8 71.0,518.8 71.2,518.8 71.4,518.8 71.6,518.8 71.8,518.8 72.0,518.8 72.2,518.8 72.4,518.8 72.6,518.8 72.8,518.8 73.0,518.8 73.2,518.8 73.4,518.8 73.6,518.8 73.8,518.8 74.0,518.8 74.2,518.8 74.4,518.8 74.6,518.8 74.8,518.8 75.0,518.8 75.2,518.8 75.4,518.8 75.6,518.8 75.8,518.8 76.0,518.8 76.2,518.8 76.4,518.8 76.6,518.8 76.8,518.8 77.0,518.8 77.2,518.8 77.4,518.8 77.6,518.8 77.8,518.8 78.0,518.8 78.2,518.8 78.4,518.8 78.6,518.8 78.8,518.8 79.0,518.8 79.2,518.8 79.4,518.8 79.6,518.8 79.8,518.8 80.0,518.8 80.2,518.8 80.4,518.8 80.6,518.8 80.8,518.8 81.0,518.8 81.2,518.8 81.4,518.8 81.6,518.8 81.8,518.8 82.0,518.8 82.2,518.8 82.4,518.8 82.6,518.8 82.8,518.8 83.0,518.8 83.2,518.8 83.4,518.8 83.6,518.8 83.8,518.8 84.0,518.8 84.2,518.8 84.4,518.8 84.6,518.8 84.8,518.8 85.0,518.8 85.2,518.8 85.4,518.8 85.6,518.8 85.8,518.8 86.0,518.8 86.2,518.8 86.4,518.8 86.6,518.8 86.8,518.8 87.0,518.8 87.2,518.8 87.4,518.8 87.6,518.8 87.8,518.8 88.0,518.8 88.2,518.8 88.4,518.8 88.6,518.8 88.8,518.8 89.0,518.8 89.2,518.8 89.4,518.8 89.6,518.8 89.8,518.8 90.0,518.8 90.2,518.8 90.4,518.8 90.6,518.8 90.8,518.8 91.0,518.8 91.2,518.8 91.4,518.8 91.6,518.8 91.8,518.8 92.0,518.8 92.2,518.8 92.4,518.8 92.6,518.8 92.8,518.8 93.0,518.8 93.2,518.8 93.4,518.8 93.6,518.8 93.8,518.8 94.0,518.8 94.2,518.8 94.4,518.8 94.6,518.8 94.8,518.8 95.0,518.8 95.2,518.8 95.4,518.8 95.6,518.8 95.8,518.8 96.0,518.8 96.2,518.8 96.4,518.8 96.6,518.8 96.8,518.8 97.0,518.8 97.2,518.8 97.4,518.8 97.6,518.8 97.8,518.8 98.0,518.8 98.2,518.8 98.4,518.8 98.6,518.8 98.8,518.8 99.0,518.8 99.2,518.8 99.4,518.8 99.6,518.8 99.8,518.8 100.0,518.8 100.2,518.8 100.4,518.8 100.6,518.8 100.8,518.8 101.0,518.8 101.2,518.8 101.4,518.8 101.6,518.8 101.8,518.8 102.0,518.8 102.2,518.8 102.4,518.8 102.6,518.8 102.8,518.8 103.0,518.8 103.2,518.8 103.4,518.8 103.6,518.8 103.8,518.8 104.0,518.8 104.2,518.8 104.4,518.8 104.6,518.8 104.8,518.8 105.0,518.8 105.2,518.8 105.4,518.8 105.6,518.8 105.8,518.8 106.0,518.8 106.2,518.8 106.4,518.8 106.6,518.8 106.8,518.8 107.0,518.8 107.2,518.8 107.4,518.8 107.6,518.8 107.8,518.8 108.0,518.8 108.2,518.8 108.4,518.8 108.6,518.8 108.8,518.8 109.0,518.8 109.2,518.8 109.4,518.8 109.6,518.8 109.8,518.8 110.0,518.8 110.2,518.8 110.4,518.8 110.6,518.8 110.8,518.8 111.0,518.8 111.2,518.8 111.4,518.8 111.6,518.8 111.8,518.8 112.0,518.8 112.2,518.8 112.4,518.8 112.6,518.8 112.8,518.8 113.0,518.8 113.2,518.8 113.4,518.8 113.6,518.8 113.8,518.8 114.0,518.8 114.2,518.8 114.4,518.8 114.6,518.8 114.8,518.8 115.0,518.8 115.2,518.8 115.4,518.8 115.6,518.8 115.8,518.8 116.0,518.8 116.2,518.8 116.4,518.8 116.6,518.8 116.8,518.8 117.0,518.8 117.2,518.8 117.4,518.8 117.6,518.8 117.8,518.8 118.0,518.8 118.2,518.8 118.4,518.8 118.6,518.8 118.8,518.8 119.0,518.8 119.2,518.8 119.4,518.8 119.6,518.8 119.8,518.8 120.0,518.8 120.2,518.8 120.4,518.8 120.6,518.8 120.8,518.8 121.0,518.8 121.2,518.8 121.4,518.8 121.6,518.8 121.8,518.8 122.0,518.8 122.2,518.8 122.4,518.8 122.6,518.8 122.8,518.8 123.0,518.8 123.2,518.8 123.4,518.8 123.6,518.8 123.8,518.8 124.0,518.8 124.2,518.8 124.4,518.8 124.6,518.8 124.8,518.8 125.0,518.8 125.2,518.8 125.4,518.8 125.6,518.8 125.8,518.8 126.0,518.8 126.2,518.8 126.4,518.8 126.6,518.8 126.8,518.8 127.0,518.8 127.2,518.8 127.4,518.8 127.6,518.8 127.8,518.8 128.0,518.8 128.2,518.8 128.4,518.8 128.6,518.8 128.8,518.8 129.0,518.8 129.2,518.8 129.4,518.8 129.6,518.8 129.8,518.8 130.0,518.8 130.2,518.8 130.4,518.8 130.6,518.8 130.8,518.8 131.0,518.8 131.2,518.8 131.4,518.8 131.6,518.8 131.8,518.8 132.0,518.8 132.2,518.8 132.4,518.8 132.6,518.8 132.8,518.8 133.0,518.8 133.2,518.8 133.4,518.8 133.6,518.8 133.8,518.8 134.0,518.8 134.2,518.8 134.4,518.8 134.6,518.8 134.8,518.8 135.0,518.8 135.2,518.8 135.4,518.8 135.6,518.8 135.8,518.8 136.0,518.8 136.2,518.8 136.4,518.8 136.6,518.8 136.8,518.8 137.0,518.8 137.2,518.8 137.4,518.8 137.6,518.8 137.8,518.8 138.0,518.8 138.2,518.8 138.4,518.8 138.6,518.8 138.8,518.8 139.0,518.8 139.2,518.8 139.4,518.8 139.6,518.8 139.8,518.8 140.0,518.8 140.2,518.8 140.4,518.8 140.6,518.8 140.8,518.8 141.0,518.8 141.2,518.8 141.4,518.8 141.6,518.8 141.8,518.8 142.0,518.8 142.2,518.8 142.4,518.8 142.6,518.8 142.8,518.8 143.0,518.8 143.2,518.8 143.4,518.8 143.6,518.8 143.8,518.8 144.0,518.8 144.2,518.8 144.4,518.8 144.6,518.8 144.8,518.8 145.0,518.8 145.2,518.8 145.4,518.8 145.6,518.8 145.8,518.8 146.0,518.8 146.2,518.8 146.4,518.8 146.6,518.8 146.8,518.8 147.0,518.8 147.2,518.8 147.4,518.8 147.6,518.8 147.8,518.8 148.0,518.8 148.2,518.8 148.4,518.8 148.6,518.8 148.8,518.8 149.0,518.8 149.2,518.8 149.4,518.8 149.6,518.8 149.8,518.8 150.0,518.8 150.2,518.8 150.4,518.8 150.6,518.8 150.8,518.8 151.0,518.8 151.2,518.8 151.4,518.8 151.6,518.8 151.8,518.8 152.0,518.8 152.2,518.8 152.4,518.8 152.6,518.8 152.8,518.8 153.0,518.8 153.2,518.8 153.4,518.8 153.6,518.8 153.8,518.8 154.0,518.8 154.2,518.8 154.4,518.8 154.6,518.8 154.8,518.8 155.0,518.8 155.2,518.8 155.4,518.8 155.6,518.8 155.8,518.8 156.0,518.8 156.2,518.8 156.4,518.8 156.6,518.8 156.8,518.8 157.0,518.8 157.2,518.8 157.4,518.8 157.6,518.8 157.8,518.8 158.0,518.8 158.2,518.8 158.4,518.8 158.6,518.8 158.8,518.8 159.0,518.8 159.2,518.8 159.4,518.8 159.6,518.8 159.8,518.8 160.0,518.8 160.2,518.8 160.4,518.8 160.6,518.8 160.8,518.8 161.0,518.8 161.2,518.8 161.4,518.8 161.6,518.8 161.8,518.8 162.0,518.8 162.2,518.8 162.4,518.8 162.6,518.8 162.8,518.8 163.0,518.8 163.2,518.8 163.4,518.8 163.6,518.8 163.8,518.8 164.0,518.8 164.2,518.8 164.4,518.8 164.6,518.8 164.8,518.8 165.0,518.8 165.2,518.8 165.4,518.8 165.6,518.8 165.8,518.8 166.0,518.8 166.2,518.8 166.4,518.8 166.6,518.8 166.8,518.8 167.0,518.8 167.2,518.8 167.4,518.8 167.6,518.8 167.8,518.8 168.0,518.8 168.2,518.8 168.4,518.8 168.6,518.8 168.8,518.8 169.0,518.8 169.2,518.8 169.4,518.8 169.6,518.8 169.8,518.8 170.0,518.8 170.2,518.8 170.4,518.8 170.6,518.8 170.8,518.8 171.0,518.8 171.2,518.8 171.4,518.8 171.6,518.8 171.8,518.8 172.0,518.8 172.2,518.8 172.4,518.8 172.6,518.8 172.8,518.8 173.0,518.8 173.2,518.8 173.4,518.8 173.6,518.8 173.8,518.8 174.0,518.8 174.2,518.8 174.4,518.8 174.6,518.8 174.8,518.8 175.0,518.8 175.2,518.8 175.4,518.8 175.6,518.8 175.8,518.8 176.0,518.8 176.2,518.8 176.4,518.8 176.6,518.8 176.8,518.8 177.0,518.8 177.2,518.8 177.4,518.8 177.6,518.8 177.8,518.8 178.0,518.8 178.2,518.8 178.4,518.8 178.6,518.8 178.8,518.8 179.0,518.8 179.2,518.8 179.4,518.8 179.6,518.8 179.8,518.8 180.0,518.8 180.2,518.8 180.4,518.8 180.6,518.8 180.8,518.8 181.0,518.8 181.2,518.8 181.4,518.8 181.6,518.8 181.8,518.8 182.0,518.8 182.2,518.8 182.4,518.8 182.6,518.8 182.8,518.8 183.0,518.8 183.2,518.8 183.4,518.8 183.6,518.8 183.8,518.8 184.0,518.8 184.2,518.8 184.4,518.8 184.6,518.8 184.8,518.8 185.0,518.8 185.2,518.8 185.4,518.8 185.6,518.8 185.8,518.8 186.0,518.8 186.2,518.8 186.4,518.8 186.6,518.8 186.8,518.8 187.0,518.8 187.2,518.8 187.4,518.8 187.6,518.8 187.8,518.8 188.0,518.8 188.2,518.8 188.4,518.8 188.6,518.8 188.8,518.8 189.0,518.8 189.2,518.8 189.4,518.8 189.6,518.8 189.8,518.8 190.0,518.8 190.2,518.8 190.4,518.8 190.6,518.8 190.8,518.8 191.0,518.8 191.2,518.8 191.4,518.8 191.6,518.8 191.8,518.8 192.0,518.8 192.2,518.8 192.4,518.8 192.6,518.8 192.8,518.8 193.0,518.8 193.2,518.8 193.4,518.8 193.6,518.8 193.8,518.8 194.0,518.8 194.2,518.8 194.4,518.8 194.6,518.8 194.8,518.8 195.0,518.8 195.2,518.8 195.4,518.8 195.6,518.8 195.8,518.8 196.0,518.8 196.2,518.8 196.4,518.8 196.6,518.8 196.8,518.8 197.0,518.8 197.2,518.8 197.4,518.8 197.6,518.8 197.8,518.8 198.0,518.8 198.2,518.8 198.4,518.8 198.6,518.8 198.8,518.8 199.0,518.8 199.2,518.8 199.4,518.8 199.6,518.8 199.8,518.8 200.0,518.8 200.2,518.8 200.4,518.8 200.6,518.8 200.8,518.8 201.0,518.8 201.2,518.8 201.4,518.8 201.6,518.8 201.8,518.8 202.0,518.8 202.2,518.8 202.4,518.8 202.6,518.8 202.8,518.8 203.0,518.8 203.2,518.8 203.4,518.8 203.6,518.8 203.8,518.8 204.0,518.8 204.2,518.8 204.4,518.8 204.6,518.8 204.8,518.8 205.0,518.8 205.2,518.8 205.4,518.8 205.6,518.8 205.8,518.8 206.0,518.8 206.2,518.8 206.4,518.8 206.6,518.8 206.8,518.8 207.0,518.8 207.2,518.8 207.4,518.8 207.6,518.8 207.8,518.8 208.0,518.8 208.2,518.8 208.4,518.8 208.6,518.8 208.8,518.8 209.0,518.8 209.2,518.8 209.4,518.8 209.6,518.8 209.8,518.8 210.0,518.8 210.2,518.8 210.4,518.8 210.6,518.8 210.8,518.8 211.0,518.8 211.2,518.8 211.4,518.8 211.6,518.8 211.8,518.8 212.0,518.8 212.2,518.8 212.4,518.8 212.6,518.8 212.8,518.8 213.0,518.8 213.2,518.8 213.4,518.8 213.6,518.8 213.8,518.8 214.0,518.8 214.2,518.8 214.4,518.8 214.6,518.8 214.8,518.8 215.0,518.8 215.2,518.8 215.4,518.8 215.6,518.8 215.8,518.8 216.0,518.8 216.2,518.8 216.4,518.8 216.6,518.8 216.8,518.8 217.0,518.8 217.2,518.8 217.4,518.8 217.6,518.8 217.8,518.8 218.0,518.8 218.2,518.8 218.4,518.8 218.6,518.8 218.8,518.8 219.0,518.8 219.2,518.8 219.4,518.8 219.6,518.8 219.8,518.8 220.0,518.8 220.2,518.8 220.4,518.8 220.6,518.8 220.8,518.8 221.0,518.8 221.2,518.8 221.4,518.8 221.6,518.8 221.8,518.8 222.0,518.8 222.2,518.8 222.4,518.8 222.6,518.8 222.8,518.8 223.0,518.8 223.2,518.8 223.4,518.8 223.6,518.8 223.8,518.8 224.0,518.8 224.2,518.8 224.4,518.8 224.6,518.8 224.8,518.8 225.0,518.8 225.2,518.8 225.4,518.8 225.6,518.8 225.8,518.8 226.0,518.8 226.2,518.8 226.4,518.8 226.6,518.8 226.8,518.8 227.0,518.8 227.2,518.8 227.4,518.8 227.6,518.8 227.8,518.8 228.0,518.8 228.2,518.8 228.4,518.8 228.6,518.8 228.8,518.8 229.0,518.8 229.2,518.8 229.4,518.8 229.6,518.8 229.8,518.8 230.0,518.8 230.2,518.8 230.4,518.8 230.6,518.8 230.8,518.8 231.0,518.8 231.2,518.8 231.4,518.8 231.6,518.8 231.8,518.8 232.0,518.8 232.2,518.8 232.4,518.8 232.6,518.8 232.8,518.8 233.0,518.8 233.2,518.8 233.4,518.8 233.6,518.8 233.8,518.8 234.0,518.8 234.2,518.8 234.4,518.8 234.6,518.8 234.8,518.8 235.0,518.8 235.2,518.8 235.4,518.8 235.6,518.8 235.8,518.8 236.0,518.8 236.2,518.8 236.4,518.8 236.6,518.8 236.8,518.8 237.0,518.8 237.2,518.8 237.4,518.8 237.6,518.8 237.8,518.8 238.0,518.8 238.2,518.8 238.4,518.8 238.6,518.8 238.8,518.8 239.0,518.8 239.2,518.8 239.4,518.8 239.6,518.8 239.8,518.8 240.0,518.8 240.2,518.8 240.4,518.8 240.6,518.8 240.8,518.8 241.0,518.8 241.2,518.8 241.4,518.8 241.6,518.8 241.8,518.8 242.0,518.8 242.2,518.8 242.4,518.8 242.6,518.8 242.8,518.8 243.0,518.8 243.2,518.8 243.4,518.8 243.6,518.8 243.8,518.8 244.0,518.8 244.2,518.8 244.4,518.8 244.6,518.8 244.8,518.8 245.0,518.8 245.2,518.8 245.4,518.8 245.6,518.8 245.8,518.8 246.0,518.8 246.2,518.8 246.4,518.8 246.6,518.8 246.8,518.8 247.0,518.8 247.2,518.8 247.4,518.8 247.6,518.8 247.8,518.8 248.0,518.8 248.2,518.8 248.4,518.8 248.6,518.8 248.8,518.8 249.0,518.8 249.2,518.8 249.4,518.8 249.6,518.8 249.8,518.8 250.0,518.8 250.2,518.8 250.4,518.8 250.6,518.8 250.8,518.8 251.0,518.8 251.2,518.8 251.4,518.8 251.6,518.8 251.8,518.8 252.0,518.8 252.2,518.8 252.4,518.8 252.6,518.8 252.8,518.8 253.0,518.8 253.2,518.8 253.4,518.8 253.6,518.8 253.8,518.8 254.0,518.8 254.2,518.8 254.4,518.8 254.6,518.8 254.8,518.8 255.0,518.8 255.2,518.8 255.4,518.8 255.6,518.8 255.8,518.8 256.0,518.8 256.2,518.8 256.4,518.8 256.6,518.8 256.8,518.8 257.0,518.8 257.2,518.8 257.4,518.8 257.6,518.8 257.8,518.8 258.0,518.8 258.2,518.8 258.4,518.8 258.6,518.8 258.8,518.8 259.0,518.8 259.2,518.8 259.4,518.8 259.6,518.8 259.8,518.8 260.0,518.8 260.2,518.8 260.4,518.8 260.6,518.8 260.8,518.8 261.0,518.8 261.2,518.8 261.4,518.8 261.6,518.8 261.8,518.8 262.0,518.8 262.2,518.8 262.4,518.8 262.6,518.8 262.8,518.8 263.0,518.8 263.2,518.8 263.4,518.8 263.6,518.8 263.8,518.8 264.0,518.8 264.2,518.8 264.4,518.8 264.6,518.8 264.8,518.8 265.0,518.8 265.2,518.8 265.4,518.8 265.6,518.8 265.8,518.8 266.0,518.8 266.2,518.8 266.4,518.8 266.6,518.8 266.8,518.8 267.0,518.8 267.2,518.8 267.4,518.8 267.6,518.8 267.8,518.8 268.0,518.8 268.2,518.8 268.4,518.8 268.6,518.8 268.8,518.8 269.0,518.8 269.2,518.8 269.4,518.8 269.6,518.8 269.8,518.8 270.0,518.8 270.2,518.8 270.4,518.8 270.6,518.8 270.8,518.8 271.0,518.8 271.2,518.8 271.4,518.8 271.6,518.8 271.8,518.8 272.0,518.8 272.2,518.8 272.4,518.8 272.6,518.8 272.8,518.8 273.0,518.8 273.2,518.8 273.4,518.8 273.6,518.8 273.8,518.8 274.0,518.8 274.2,518.8 274.4,518.8 274.6,518.8 274.8,518.8 275.0,518.8 275.2,518.8 275.4,518.8 275.6,518.8 275.8,518.8 276.0,518.8 276.2,518.8 276.4,518.8 276.6,518.8 276.8,518.8 277.0,518.8 277.2,518.8 277.4,518.8 277.6,518.8 277.8,518.8 278.0,518.8 278.2,518.8 278.4,518.8 278.6,518.8 278.8,518.8 279.0,518.8 279.2,518.8 279.4,518.8 279.6,518.8 279.8,518.8 280.0,518.8 280.2,518.8 280.4,518.8 280.6,518.8 280.8,518.8 281.0,518.8 281.2,518.8 281.4,518.8 281.6,518.8 281.8,518.8 282.0,518.8 282.2,518.8 282.4,518.8 282.6,518.8 282.8,518.8 283.0,518.8 283.2,518.8 283.4,518.8 283.6,518.8 283.8,518.8 284.0,518.8 284.2,518.8 284.4,518.8 284.6,518.8 284.8,518.8 285.0,518.8 285.2,518.8 285.4,518.8 285.6,518.8 285.8,518.8 286.0,518.8 286.2,518.8 286.4,518.8 286.6,518.8 286.8,518.8 287.0,518.8 287.2,518.8 287.4,518.8 287.6,518.8 287.8,518.8 288.0,518.8 288.2,518.8 288.4,518.8 288.6,518.8 288.8,518.8 289.0,518.8 289.2,518.8 289.4,518.8 289.6,518.8 289.8,518.8 290.0,518.8 290.2,518.8 290.4,518.8 290.6,518.8 290.8,518.8 291.0,518.8 291.2,518.8 291.4,518.8 291.6,518.8 291.8,518.8 292.0,518.8 292.2,518.8 292.4,518.8 292.6,518.8 292.8,518.8 293.0,518.8 293.2,518.8 293.4,518.8 293.6,518.8 293.8,518.8 294.0,518.8 294.2,518.8 294.4,518.8 294.6,518.8 294.8,518.8 295.0,518.8 295.2,518.8 295.4,518.8 295.6,518.8 295.8,518.8 296.0,518.8 296.2,518.8 296.4,518.8 296.6,518.8 296.8,518.8 297.0,518.8 297.2,518.8 297.4,518.8 297.6,518.8 297.8,518.8 298.0,518.8 298.2,518.8 298.4,518.8 298.6,518.8 298.8,518.8 299.0,518.8 299.2,518.8 299.4,518.8 299.6,518.8 299.8,518.8 300.0,518.8 300.2,518.8 300.4,518.8 300.6,518.8 300.8,518.8 301.0,518.8 301.2,518.8 301.4,518.8 301.6,518.8 301.8,518.8 302.0,518.8 302.2,518.8 302.4,518.8 302.6,518.8 302.8,518.8 303.0,518.8 303.2,518.8 303.4,518.8 303.6,518.8 303.8,518.8 304.0,518.8 304.2,518.8 304.4,518.8 304.6,518.8 304.8,518.8 305.0,518.8 305.2,518.8 305.4,518.8 305.6,518.8 305.8,518.8 306.0,518.8 306.2,518.8 306.4,518.8 306.6,518.8 306.8,518.8 307.0,518.8 307.2,518.8 307.4,518.8 307.6,518.8 307.8,518.8 308.0,518.8 308.2,518.8 308.4,518.8 308.6,518.8 308.8,518.8 309.0,518.8 309.2,518.8 309.4,518.8 309.6,518.8 309.8,518.8 310.0,518.8 310.2,518.8 310.4,518.8 310.6,518.8 310.8,518.8 311.0,518.8 311.2,518.8 311.4,518.8 311.6,518.8 311.8,518.8 312.0,518.8 312.2,518.8 312.4,518.8 312.6,518.8 312.8,518.8 313.0,518.8 313.2,518.8 313.4,518.8 313.6,518.8 313.8,518.8 314.0,518.8 314.2,518.8 314.4,518.8 314.6,518.8 314.8,518.8 315.0,518.8 315.2,518.8 315.4,518.8 315.6,518.8 315.8,518.8 316.0,518.8 316.2,518.8 316.4,518.8 316.6,518.8 316.8,518.8 317.0,518.8 317.2,518.8 317.4,518.8 317.6,518.8 317.8,518.8 318.0,518.8 318.2,518.8 318.4,518.8 318.6,518.8 318.8,518.8 319.0,518.8 319.2,518.8 319.4,518.8 319.6,518.8 319.8,518.8 320.0,518.8 320.2,518.8 320.4,518.8 320.6,518.8 320.8,518.8 321.0,518.8 321.2,518.8 321.4,518.8 321.6,518.8 321.8,518.8 322.0,518.8 322.2,518.8 322.4,518.8 322.6,518.8 322.8,518.8 323.0,518.8 323.2,518.8 323.4,518.8 323.6,518.8 323.8,518.8 324.0,518.8 324.2,518.8 324.4,518.8 324.6,518.8 324.8,518.8 325.0,518.8 325.2,518.8 325.4,518.8 325.6,518.8 325.8,518.8 326.0,518.8 326.2,518.8 326.4,518.8 326.6,518.8 326.8,518.8 327.0,518.8 327.2,518.8 327.4,518.8 327.6,518.8 327.8,518.8 328.0,518.8 328.2,518.8 328.4,518.8 328.6,518.8 328.8,518.8 329.0,518.8 329.2,518.8 329.4,518.8 329.6,518.8 329.8,518.8 330.0,518.8 330.2,518.8 330.4,518.8 330.6,518.8 330.8,518.8 331.0,518.8 331.2,518.8 331.4,518.8 331.6,518.8 331.8,518.8 332.0,518.8 332.2,518.8 332.4,518.8 332.6,518.8 332.8,518.8 333.0,518.8 333.2,518.8 333.4,518.8 333.6,518.8 333.8,518.8 334.0,518.8 334.2,518.8 334.4,518.8 334.6,518.8 334.8,518.8 335.0,518.8 335.2,518.8 335.4,518.8 335.6,518.8 335.8,518.8 336.0,518.8 336.2,518.8 336.4,518.8 336.6,518.8 336.8,518.8 337.0,518.8 337.2,518.8 337.4,518.8 337.6,518.8 337.8,518.8 338.0,518.8 338.2,518.8 338.4,518.8 338.6,518.8 338.8,518.8 339.0,518.8 339.2,518.8 339.4,518.8 339.6,518.8 339.8,518.8 340.0,518.8 340.2,518.8 340.4,518.8 340.6,518.8 340.8,518.8 341.0,518.8 341.2,518.8 341.4,518.8 341.6,518.8 341.8,518.8 342.0,518.8 342.2,518.8 342.4,518.8 342.6,518.8 342.8,518.8 343.0,518.8 343.2,518.8 343.4,518.8 343.6,518.8 343.8,518.8 344.0,518.8 344.2,518.8 344.4,518.5 344.6,517.7 344.8,515.5 345.0,510.7 345.2,503.4 345.4,496.3 345.6,493.2 345.6,493.2 345.8,496.3 346.0,503.4 346.2,510.7 346.4,515.5 346.6,517.7 346.8,518.5 347.0,518.8 347.2,518.8 347.4,518.8 347.6,518.8 347.8,518.8 348.0,518.8 348.2,518.8 348.4,518.8 348.6,518.8 348.8,518.8 349.0,518.7 349.2,518.5 349.4,518.1 349.6,517.2 349.8,515.8 350.0,514.3 350.2,513.2 350.3,513.1 350.4,513.2 350.6,514.3 350.8,515.8 351.0,517.2 351.2,518.1 351.4,518.5 351.6,518.7 351.8,518.8 352.0,518.8 352.2,518.8 352.4,518.8 352.6,518.8 352.8,518.8 353.0,518.8 353.2,518.8 353.4,518.8 353.6,518.8 353.8,518.8 354.0,518.8 354.2,518.8 354.4,518.8 354.6,518.8 354.8,518.8 355.0,518.8 355.2,518.8 355.4,518.8 355.6,518.8 355.8,518.8 356.0,518.8 356.2,518.8 356.4,518.8 356.6,518.8 356.8,518.8 357.0,518.8 357.2,518.7 357.4,518.5 357.6,518.1 357.8,517.2 358.0,515.8 358.2,514.1 358.4,512.3 358.5,511.1 358.6,509.4 358.8,502.3 359.0,486.5 359.2,461.7 359.4,436.7 359.6,426.1 359.6,426.1 359.8,437.3 360.0,463.3 360.2,489.5 360.4,506.8 360.6,515.0 360.8,517.9 361.0,518.6 361.2,518.8 361.4,518.7 361.6,518.5 361.8,518.1 362.0,517.2 362.2,515.8 362.4,514.2 362.6,513.1 362.7,513.0 362.8,513.1 363.0,514.2 363.2,515.8 363.4,517.2 363.6,518.1 363.8,518.5 364.0,518.7 364.2,518.8 364.4,518.8 364.6,518.8 364.8,518.8 365.0,518.8 365.2,518.8 365.4,518.8 365.6,518.8 365.8,518.8 366.0,518.8 366.2,518.8 366.4,518.8 366.6,518.8 366.8,518.8 367.0,518.8 367.2,518.8 367.4,518.8 367.6,518.8 367.8,518.8 368.0,518.8 368.2,518.8 368.4,518.8 368.6,518.8 368.8,518.8 369.0,518.8 369.2,518.8 369.4,518.8 369.6,518.8 369.8,518.8 370.0,518.8 370.2,518.8 370.4,518.8 370.6,518.8 370.8,518.8 371.0,518.8 371.2,518.8 371.4,518.8 371.6,518.8 371.8,518.8 372.0,518.8 372.2,518.8 372.4,518.7 372.6,518.4 372.8,517.4 373.0,514.8 373.2,510.2 373.4,504.5 373.6,500.4 373.7,499.8 373.8,500.4 374.0,504.5 374.2,510.2 374.4,514.8 374.6,517.4 374.8,518.4 375.0,518.7 375.2,518.8 375.4,518.8 375.6,518.7 375.8,518.5 376.0,517.4 376.2,514.5 376.4,508.3 376.6,498.9 376.8,489.6 377.0,485.6 377.0,485.6 377.2,489.6 377.4,498.9 377.6,508.3 377.8,514.5 378.0,517.4 378.2,518.5 378.4,518.7 378.6,518.8 378.8,518.8 379.0,518.8 379.2,518.8 379.4,518.8 379.6,518.8 379.8,518.8 380.0,518.8 380.2,518.8 380.4,518.7 380.6,518.4 380.8,517.5 381.0,515.2 381.2,511.1 381.4,505.9 381.6,501.7 381.7,500.7 381.8,500.4 382.0,500.7 382.2,499.9 382.4,496.5 382.6,493.4 382.7,493.2 382.8,494.3 383.0,500.0 383.2,507.6 383.4,513.6 383.6,516.9 383.8,518.3 384.0,518.7 384.2,518.8 384.4,518.8 384.6,518.8 384.8,518.8 385.0,518.8 385.2,518.8 385.4,518.8 385.6,518.8 385.8,518.8 386.0,518.8 386.2,518.8 386.4,518.8 386.6,518.8 386.8,518.8 387.0,518.8 387.2,518.8 387.4,518.8 387.6,518.8 387.8,518.8 388.0,518.8 388.2,518.8 388.4,518.8 388.6,518.8 388.8,518.8 389.0,518.8 389.2,518.8 389.4,518.8 389.6,518.8 389.8,518.8 390.0,518.8 390.2,518.8 390.4,518.8 390.6,518.8 390.8,518.8 391.0,518.8 391.2,518.8 391.4,518.8 391.6,518.8 391.8,518.8 392.0,518.8 392.2,518.8 392.4,518.8 392.6,518.8 392.8,518.8 393.0,518.8 393.2,518.8 393.4,518.8 393.6,518.8 393.8,518.8 394.0,518.8 394.2,518.8 394.4,518.8 394.6,518.8 394.8,518.8 395.0,518.8 395.2,518.8 395.4,518.8 395.6,518.8 395.8,518.8 396.0,518.8 396.2,518.8 396.4,518.8 396.6,518.8 396.8,518.8 397.0,518.8 397.2,518.8 397.4,518.8 397.6,518.8 397.8,518.8 398.0,518.8 398.2,518.8 398.4,518.8 398.6,518.8 398.8,518.8 399.0,518.8 399.2,518.8 399.4,518.8 399.6,518.8 399.8,518.8 400.0,518.8 400.2,518.8 400.4,518.8 400.6,518.8 400.8,518.8 401.0,518.8 401.2,518.8 401.4,518.8 401.6,518.8 401.8,518.8 402.0,518.8 402.2,518.8 402.4,518.8 402.6,518.8 402.8,518.8 403.0,518.8 403.2,518.8 403.4,518.8 403.6,518.8 403.8,518.8 404.0,518.8 404.2,518.8 404.4,518.8 404.6,518.8 404.8,518.8 405.0,518.8 405.2,518.8 405.4,518.8 405.6,518.8 405.8,518.8 406.0,518.8 406.2,518.8 406.4,518.8 406.6,518.8 406.8,518.8 407.0,518.8 407.2,518.8 407.4,518.8 407.6,518.8 407.8,518.8 408.0,518.8 408.2,518.8 408.4,518.8 408.6,518.8 408.8,518.8 409.0,518.8 409.2,518.8 409.4,518.8 409.6,518.8 409.8,518.8 410.0,518.8 410.2,518.8 410.4,518.8 410.6,518.8 410.8,518.8 411.0,518.8 411.2,518.8 411.4,518.8 411.6,518.8 411.8,518.8 412.0,518.8 412.2,518.8 412.4,518.8 412.6,518.8 412.8,518.8 413.0,518.8 413.2,518.8 413.4,518.8 413.6,518.8 413.8,518.8 414.0,518.8 414.2,518.8 414.4,518.8 414.6,518.8 414.8,518.8 415.0,518.8 415.2,518.8 415.4,518.8 415.6,518.8 415.8,518.8 416.0,518.8 416.2,518.8 416.4,518.8 416.6,518.8 416.8,518.8 417.0,518.8 417.2,518.8 417.4,518.8 417.6,518.8 417.8,518.8 418.0,518.8 418.2,518.8 418.4,518.8 418.6,518.8 418.8,518.8 419.0,518.8 419.2,518.8 419.4,518.8 419.6,518.8 419.8,518.8 420.0,518.8 420.2,518.8 420.4,518.8 420.6,518.8 420.8,518.8 421.0,518.8 421.2,518.8 421.4,518.8 421.6,518.8 421.8,518.8 422.0,518.8 422.2,518.8 422.4,518.8 422.6,518.8 422.8,518.8 423.0,518.8 423.2,518.8 423.4,518.8 423.6,518.8 423.8,518.8 424.0,518.8 424.2,518.8 424.4,518.8 424.6,518.8 424.8,518.8 425.0,518.8 425.2,518.8 425.4,518.8 425.6,518.8 425.8,518.8 426.0,518.8 426.2,518.8 426.4,518.8 426.6,518.8 426.8,518.8 427.0,518.8 427.2,518.8 427.4,518.8 427.6,518.8 427.8,518.8 428.0,518.8 428.2,518.8 428.4,518.8 428.6,518.8 428.8,518.8 429.0,518.8 429.2,518.8 429.4,518.8 429.6,518.8 429.8,518.8 430.0,518.8 430.2,518.8 430.4,518.8 430.6,518.8 430.8,518.8 431.0,518.8 431.2,518.8 431.4,518.8 431.6,518.8 431.8,518.8 432.0,518.8 432.2,518.8 432.4,518.8 432.6,518.8 432.8,518.8 433.0,518.8 433.2,518.8 433.4,518.8 433.6,518.8 433.8,518.8 434.0,518.8 434.2,518.8 434.4,518.8 434.6,518.8 434.8,518.8 435.0,518.8 435.2,518.8 435.4,518.8 435.6,518.8 435.8,518.8 436.0,518.8 436.2,518.8 436.4,518.8 436.6,518.8 436.8,518.8 437.0,518.8 437.2,518.8 437.4,518.8 437.6,518.8 437.8,518.8 438.0,518.8 438.2,518.8 438.4,518.8 438.6,518.8 438.8,518.8 439.0,518.8 439.2,518.8 439.4,518.8 439.6,518.8 439.8,518.8 440.0,518.8 440.2,518.8 440.4,518.8 440.6,518.8 440.8,518.8 441.0,518.8 441.2,518.8 441.4,518.8 441.6,518.8 441.8,518.8 442.0,518.8 442.2,518.8 442.4,518.8 442.6,518.8 442.8,518.8 443.0,518.8 443.2,518.8 443.4,518.8 443.6,518.8 443.8,518.8 444.0,518.8 444.2,518.8 444.4,518.8 444.6,518.8 444.8,518.8 445.0,518.8 445.2,518.8 445.4,518.8 445.6,518.8 445.8,518.8 446.0,518.8 446.2,518.8 446.4,518.8 446.6,518.8 446.8,518.8 447.0,518.8 447.2,518.8 447.4,518.8 447.6,518.8 447.8,518.8 448.0,518.8 448.2,518.8 448.4,518.8 448.6,518.8 448.8,518.8 449.0,518.8 449.2,518.8 449.4,518.8 449.6,518.8 449.8,518.8 450.0,518.8 450.2,518.8 450.4,518.8 450.6,518.8 450.8,518.8 451.0,518.8 451.2,518.8 451.4,518.8 451.6,518.8 451.8,518.8 452.0,518.8 452.2,518.8 452.4,518.8 452.6,518.8 452.8,518.8 453.0,518.8 453.2,518.8 453.4,518.8 453.6,518.8 453.8,518.8 454.0,518.8 454.2,518.8 454.4,518.8 454.6,518.8 454.8,518.8 455.0,518.8 455.2,518.8 455.4,518.8 455.6,518.8 455.8,518.8 456.0,518.8 456.2,518.8 456.4,518.8 456.6,518.8 456.8,518.8 457.0,518.8 457.2,518.8 457.4,518.8 457.6,518.8 457.8,518.8 458.0,518.8 458.2,518.8 458.4,518.8 458.6,518.8 458.8,518.8 459.0,518.8 459.2,518.8 459.4,518.8 459.6,518.8 459.8,518.8 460.0,518.8 460.2,518.8 460.4,518.8 460.6,518.8 460.8,518.8 461.0,518.8 461.2,518.8 461.4,518.8 461.6,518.8 461.8,518.8 462.0,518.8 462.2,518.8 462.4,518.8 462.6,518.8 462.8,518.8 463.0,518.8 463.2,518.8 463.4,518.8 463.6,518.8 463.8,518.8 464.0,518.8 464.2,518.8 464.4,518.8 464.6,518.8 464.8,518.8 465.0,518.8 465.2,518.8 465.4,518.8 465.6,518.8 465.8,518.8 466.0,518.8 466.2,518.8 466.4,518.8 466.6,518.8 466.8,518.8 467.0,518.8 467.2,518.8 467.4,518.8 467.6,518.8 467.8,518.8 468.0,518.8 468.2,518.8 468.4,518.8 468.6,518.8 468.8,518.8 469.0,518.8 469.2,518.8 469.4,518.8 469.6,518.8 469.8,518.8 470.0,518.8 470.2,518.8 470.4,518.8 470.6,518.8 470.8,518.8 471.0,518.8 471.2,518.8 471.4,518.8 471.6,518.8 471.8,518.8 472.0,518.8 472.2,518.8 472.4,518.8 472.6,518.8 472.8,518.8 473.0,518.8 473.2,518.8 473.4,518.8 473.6,518.8 473.8,518.8 474.0,518.8 474.2,518.8 474.4,518.8 474.6,518.8 474.8,518.8 475.0,518.8 475.2,518.8 475.4,518.8 475.6,518.8 475.8,518.8 476.0,518.8 476.2,518.8 476.4,518.8 476.6,518.8 476.8,518.8 477.0,518.8 477.2,518.8 477.4,518.8 477.6,518.8 477.8,518.8 478.0,518.8 478.2,518.8 478.4,518.8 478.6,518.8 478.8,518.8 479.0,518.8 479.2,518.8 479.4,518.8 479.6,518.8 479.8,518.8 480.0,518.8 480.2,518.8 480.4,518.8 480.6,518.8 480.8,518.8 481.0,518.8 481.2,518.8 481.4,518.8 481.6,518.8 481.8,518.8 482.0,518.8 482.2,518.8 482.4,518.8 482.6,518.8 482.8,518.8 483.0,518.8 483.2,518.8 483.4,518.8 483.6,518.8 483.8,518.8 484.0,518.8 484.2,518.8 484.4,518.8 484.6,518.8 484.8,518.8 485.0,518.8 485.2,518.8 485.4,518.8 485.6,518.8 485.8,518.8 486.0,518.8 486.2,518.8 486.4,518.8 486.6,518.8 486.8,518.8 487.0,518.8 487.2,518.8 487.4,518.8 487.6,518.8 487.8,518.8 488.0,518.8 488.2,518.8 488.4,518.8 488.6,518.8 488.8,518.8 489.0,518.8 489.2,518.8 489.4,518.8 489.6,518.8 489.8,518.8 490.0,518.8 490.2,518.8 490.4,518.8 490.6,518.8 490.8,518.8 491.0,518.8 491.2,518.8 491.4,518.8 491.6,518.8 491.8,518.8 492.0,518.8 492.2,518.8 492.4,518.8 492.6,518.8 492.8,518.8 493.0,518.8 493.2,518.8 493.4,518.8 493.6,518.8 493.8,518.8 494.0,518.8 494.2,518.8 494.4,518.8 494.6,518.8 494.8,518.8 495.0,518.8 495.2,518.8 495.4,518.8 495.6,518.8 495.8,518.8 496.0,518.8 496.2,518.8 496.4,518.8 496.6,518.8 496.8,518.8 497.0,518.8 497.2,518.8 497.4,518.8 497.6,518.8 497.8,518.8 498.0,518.8 498.2,518.8 498.4,518.8 498.6,518.8 498.8,518.8 499.0,518.8 499.2,518.8 499.4,518.8 499.6,518.8 499.8,518.8 500.0,518.8 500.2,518.8 500.4,518.8 500.6,518.8 500.8,518.8 501.0,518.8 501.2,518.8 501.4,518.8 501.6,518.8 501.8,518.8 502.0,518.8 502.2,518.8 502.4,518.8 502.6,518.8 502.8,518.8 503.0,518.8 503.2,518.8 503.4,518.8 503.6,518.8 503.8,518.8 504.0,518.8 504.2,518.8 504.4,518.8 504.6,518.8 504.8,518.8 505.0,518.8 505.2,518.8 505.4,518.8 505.6,518.8 505.8,518.8 506.0,518.8 506.2,518.8 506.4,518.8 506.6,518.8 506.8,518.8 507.0,518.8 507.2,518.8 507.4,518.8 507.6,518.8 507.8,518.8 508.0,518.8 508.2,518.8 508.4,518.8 508.6,518.8 508.8,518.8 509.0,518.8 509.2,518.8 509.4,518.8 509.6,518.8 509.8,518.8 510.0,518.8 510.2,518.8 510.4,518.8 510.6,518.8 510.8,518.8 511.0,518.8 511.2,518.8 511.4,518.8 511.6,518.8 511.8,518.8 512.0,518.8 512.2,518.8 512.4,518.8 512.6,518.8 512.8,518.8 513.0,518.8 513.2,518.8 513.4,518.8 513.6,518.8 513.8,518.8 514.0,518.8 514.2,518.8 514.4,518.8 514.6,518.8 514.8,518.8 515.0,518.8 515.2,518.8 515.4,518.8 515.6,518.8 515.8,518.8 516.0,518.8 516.2,518.8 516.4,518.8 516.6,518.8 516.8,518.8 517.0,518.8 517.2,518.8 517.4,518.8 517.6,518.8 517.8,518.8 518.0,518.8 518.2,518.8 518.4,518.8 518.6,518.8 518.8,518.8 519.0,518.8 519.2,518.8 519.4,518.8 519.6,518.8 519.8,518.8 520.0,518.8 520.2,518.8 520.4,518.8 520.6,518.8 520.8,518.8 521.0,518.8 521.2,518.8 521.4,518.8 521.6,518.8 521.8,518.8 522.0,518.8 522.2,518.8 522.4,518.8 522.6,518.8 522.8,518.8 523.0,518.8 523.2,518.8 523.4,518.8 523.6,518.8 523.8,518.8 524.0,518.8 524.2,518.8 524.4,518.8 524.6,518.8 524.8,518.8 525.0,518.8 525.2,518.8 525.4,518.8 525.6,518.8 525.8,518.8 526.0,518.8 526.2,518.8 526.4,518.8 526.6,518.8 526.8,518.8 527.0,518.8 527.2,518.8 527.4,518.8 527.6,518.8 527.8,518.8 528.0,518.8 528.2,518.8 528.4,518.8 528.6,518.8 528.8,518.8 529.0,518.8 529.2,518.8 529.4,518.8 529.6,518.8 529.8,518.8 530.0,518.8 530.2,518.8 530.4,518.8 530.6,518.8 530.8,518.8 531.0,518.8 531.2,518.8 531.4,518.8 531.6,518.8 531.8,518.8 532.0,518.8 532.2,518.8 532.4,518.8 532.6,518.8 532.8,518.8 533.0,518.8 533.2,518.8 533.4,518.8 533.6,518.8 533.8,518.8 534.0,518.8 534.2,518.8 534.4,518.8 534.6,518.8 534.8,518.8 535.0,518.8 535.2,518.8 535.4,518.8 535.6,518.8 535.8,518.8 536.0,518.8 536.2,518.8 536.4,518.8 536.6,518.8 536.8,518.8 537.0,518.8 537.2,518.8 537.4,518.8 537.6,518.8 537.8,518.8 538.0,518.8 538.2,518.8 538.4,518.8 538.6,518.8 538.8,518.8 539.0,518.8 539.2,518.8 539.4,518.8 539.6,518.8 539.8,518.8 540.0,518.8 540.2,518.8 540.4,518.8 540.6,518.8 540.8,518.8 541.0,518.8 541.2,518.8 541.4,518.8 541.6,518.8 541.8,518.8 542.0,518.8" fill="none" stroke="#e030d0" stroke-width="1.05" stroke-linejoin="round"/>
<line x1="6.2" y1="110.4" x2="542.4" y2="110.4" stroke="#585858" stroke-width="1.3"/>
<line x1="6.2" y1="213.7" x2="542.4" y2="213.7" stroke="#585858" stroke-width="1.3"/>
<line x1="6.2" y1="317.4" x2="542.4" y2="317.4" stroke="#585858" stroke-width="1.3"/>
<line x1="6.2" y1="420.9" x2="542.4" y2="420.9" stroke="#585858" stroke-width="1.3"/>
<line x1="43.2" y1="6.2" x2="43.2" y2="528.7" stroke="#585858" stroke-width="1.2"/>
<line x1="543.4" y1="6.2" x2="543.4" y2="546" stroke="#b0b0b0" stroke-width="1.0"/>
<line x1="43.2" y1="523.7" x2="542.4" y2="523.7" stroke="#585858" stroke-width="1.3"/>
<line x1="44.39" y1="523.7" x2="44.39" y2="526.7" stroke="#555" stroke-width="0.9"/>
<line x1="53.72" y1="523.7" x2="53.72" y2="526.7" stroke="#555" stroke-width="0.9"/>
<line x1="63.05" y1="523.7" x2="63.05" y2="526.7" stroke="#555" stroke-width="0.9"/>
<line x1="72.38" y1="523.7" x2="72.38" y2="526.7" stroke="#555" stroke-width="0.9"/>
<line x1="81.71" y1="523.7" x2="81.71" y2="526.7" stroke="#555" stroke-width="0.9"/>
<line x1="91.04" y1="523.7" x2="91.04" y2="526.7" stroke="#555" stroke-width="0.9"/>
<line x1="100.37" y1="523.7" x2="100.37" y2="526.7" stroke="#555" stroke-width="0.9"/>
<line x1="109.70" y1="523.7" x2="109.70" y2="528.9000000000001" stroke="#555" stroke-width="0.9"/>
<line x1="119.03" y1="523.7" x2="119.03" y2="526.7" stroke="#555" stroke-width="0.9"/>
<line x1="128.36" y1="523.7" x2="128.36" y2="526.7" stroke="#555" stroke-width="0.9"/>
<line x1="137.69" y1="523.7" x2="137.69" y2="526.7" stroke="#555" stroke-width="0.9"/>
<line x1="147.02" y1="523.7" x2="147.02" y2="526.7" stroke="#555" stroke-width="0.9"/>
<line x1="156.35" y1="523.7" x2="156.35" y2="526.7" stroke="#555" stroke-width="0.9"/>
<line x1="165.68" y1="523.7" x2="165.68" y2="526.7" stroke="#555" stroke-width="0.9"/>
<line x1="175.01" y1="523.7" x2="175.01" y2="526.7" stroke="#555" stroke-width="0.9"/>
<line x1="184.34" y1="523.7" x2="184.34" y2="526.7" stroke="#555" stroke-width="0.9"/>
<line x1="193.67" y1="523.7" x2="193.67" y2="526.7" stroke="#555" stroke-width="0.9"/>
<line x1="203.00" y1="523.7" x2="203.00" y2="528.9000000000001" stroke="#555" stroke-width="0.9"/>
<line x1="212.33" y1="523.7" x2="212.33" y2="526.7" stroke="#555" stroke-width="0.9"/>
<line x1="221.66" y1="523.7" x2="221.66" y2="526.7" stroke="#555" stroke-width="0.9"/>
<line x1="230.99" y1="523.7" x2="230.99" y2="526.7" stroke="#555" stroke-width="0.9"/>
<line x1="240.32" y1="523.7" x2="240.32" y2="526.7" stroke="#555" stroke-width="0.9"/>
<line x1="249.65" y1="523.7" x2="249.65" y2="526.7" stroke="#555" stroke-width="0.9"/>
<line x1="258.98" y1="523.7" x2="258.98" y2="526.7" stroke="#555" stroke-width="0.9"/>
<line x1="268.31" y1="523.7" x2="268.31" y2="526.7" stroke="#555" stroke-width="0.9"/>
<line x1="277.64" y1="523.7" x2="277.64" y2="526.7" stroke="#555" stroke-width="0.9"/>
<line x1="286.97" y1="523.7" x2="286.97" y2="526.7" stroke="#555" stroke-width="0.9"/>
<line x1="296.30" y1="523.7" x2="296.30" y2="528.9000000000001" stroke="#555" stroke-width="0.9"/>
<line x1="305.63" y1="523.7" x2="305.63" y2="526.7" stroke="#555" stroke-width="0.9"/>
<line x1="314.96" y1="523.7" x2="314.96" y2="526.7" stroke="#555" stroke-width="0.9"/>
<line x1="324.29" y1="523.7" x2="324.29" y2="526.7" stroke="#555" stroke-width="0.9"/>
<line x1="333.62" y1="523.7" x2="333.62" y2="526.7" stroke="#555" stroke-width="0.9"/>
<line x1="342.95" y1="523.7" x2="342.95" y2="526.7" stroke="#555" stroke-width="0.9"/>
<line x1="352.28" y1="523.7" x2="352.28" y2="526.7" stroke="#555" stroke-width="0.9"/>
<line x1="361.61" y1="523.7" x2="361.61" y2="526.7" stroke="#555" stroke-width="0.9"/>
<line x1="370.94" y1="523.7" x2="370.94" y2="526.7" stroke="#555" stroke-width="0.9"/>
<line x1="380.27" y1="523.7" x2="380.27" y2="526.7" stroke="#555" stroke-width="0.9"/>
<line x1="389.60" y1="523.7" x2="389.60" y2="528.9000000000001" stroke="#555" stroke-width="0.9"/>
<line x1="398.93" y1="523.7" x2="398.93" y2="526.7" stroke="#555" stroke-width="0.9"/>
<line x1="408.26" y1="523.7" x2="408.26" y2="526.7" stroke="#555" stroke-width="0.9"/>
<line x1="417.59" y1="523.7" x2="417.59" y2="526.7" stroke="#555" stroke-width="0.9"/>
<line x1="426.92" y1="523.7" x2="426.92" y2="526.7" stroke="#555" stroke-width="0.9"/>
<line x1="436.25" y1="523.7" x2="436.25" y2="526.7" stroke="#555" stroke-width="0.9"/>
<line x1="445.58" y1="523.7" x2="445.58" y2="526.7" stroke="#555" stroke-width="0.9"/>
<line x1="454.91" y1="523.7" x2="454.91" y2="526.7" stroke="#555" stroke-width="0.9"/>
<line x1="464.24" y1="523.7" x2="464.24" y2="526.7" stroke="#555" stroke-width="0.9"/>
<line x1="473.57" y1="523.7" x2="473.57" y2="526.7" stroke="#555" stroke-width="0.9"/>
<line x1="482.90" y1="523.7" x2="482.90" y2="528.9000000000001" stroke="#555" stroke-width="0.9"/>
<line x1="492.23" y1="523.7" x2="492.23" y2="526.7" stroke="#555" stroke-width="0.9"/>
<line x1="501.56" y1="523.7" x2="501.56" y2="526.7" stroke="#555" stroke-width="0.9"/>
<line x1="510.89" y1="523.7" x2="510.89" y2="526.7" stroke="#555" stroke-width="0.9"/>
<line x1="520.22" y1="523.7" x2="520.22" y2="526.7" stroke="#555" stroke-width="0.9"/>
<line x1="529.55" y1="523.7" x2="529.55" y2="526.7" stroke="#555" stroke-width="0.9"/>
<line x1="538.88" y1="523.7" x2="538.88" y2="526.7" stroke="#555" stroke-width="0.9"/>
<text x="106.40" y="537.8" font-size="10" fill="#555555" textLength="6.6" lengthAdjust="spacingAndGlyphs">10</text>
<text x="199.70" y="537.8" font-size="10" fill="#555555" textLength="6.6" lengthAdjust="spacingAndGlyphs">20</text>
<text x="293.00" y="537.8" font-size="10" fill="#555555" textLength="6.6" lengthAdjust="spacingAndGlyphs">30</text>
<text x="386.30" y="537.8" font-size="10" fill="#555555" textLength="6.6" lengthAdjust="spacingAndGlyphs">40</text>
<text x="479.60" y="537.8" font-size="10" fill="#555555" textLength="6.6" lengthAdjust="spacingAndGlyphs">50</text>
<text x="515.6" y="545.2" font-size="9.6" fill="#555555" textLength="25" lengthAdjust="spacingAndGlyphs">minutes</text>
<rect x="6.2" y="6.6" width="539.8" height="540" fill="none" stroke="#454545" stroke-width="1.4"/>
<rect x="48.9" y="10.5" width="220.2" height="73.0" fill="#fff" stroke="#36599a" stroke-width="1.3"/>
<polygon points="62.00,27.00 71.35,31.95 71.35,41.85 62.00,46.80 52.65,41.85 52.65,31.95" fill="none" stroke="#2a2a2a" stroke-width="0.9" stroke-linejoin="miter"/><polygon points="99.40,27.00 108.75,31.95 108.75,41.85 99.40,46.80 90.05,41.85 90.05,31.95" fill="none" stroke="#2a2a2a" stroke-width="0.9" stroke-linejoin="miter"/><polygon points="136.80,27.00 146.15,31.95 146.15,41.85 136.80,46.80 127.45,41.85 127.45,31.95" fill="none" stroke="#2a2a2a" stroke-width="0.9" stroke-linejoin="miter"/><polyline points="71.35,31.95 80.70,27.00 90.05,31.95" fill="none" stroke="#2a2a2a" stroke-width="0.9"/><polyline points="108.75,31.95 118.10,27.00 127.45,31.95" fill="none" stroke="#2a2a2a" stroke-width="0.9"/><line x1="99.40" y1="27.00" x2="99.40" y2="19.70" stroke="#2a2a2a" stroke-width="0.9"/><text x="97.51" y="18.35" font-size="5.4" fill="#444">CH<tspan font-size="3.78" dy="1.62">3</tspan></text>
<polygon points="166.40,27.50 175.75,32.45 175.75,42.35 166.40,47.30 157.05,42.35 157.05,32.45" fill="none" stroke="#2a2a2a" stroke-width="0.9" stroke-linejoin="miter"/><polygon points="203.80,27.50 213.15,32.45 213.15,42.35 203.80,47.30 194.45,42.35 194.45,32.45" fill="none" stroke="#2a2a2a" stroke-width="0.9" stroke-linejoin="miter"/><line x1="211.85" y1="33.64" x2="211.85" y2="41.16" stroke="#2a2a2a" stroke-width="0.9"/><line x1="203.37" y1="45.61" x2="196.26" y2="41.84" stroke="#2a2a2a" stroke-width="0.9"/><line x1="196.26" y1="32.96" x2="203.37" y2="29.19" stroke="#2a2a2a" stroke-width="0.9"/><polygon points="241.20,27.50 250.55,32.45 250.55,42.35 241.20,47.30 231.85,42.35 231.85,32.45" fill="none" stroke="#2a2a2a" stroke-width="0.9" stroke-linejoin="miter"/><line x1="249.25" y1="33.64" x2="249.25" y2="41.16" stroke="#2a2a2a" stroke-width="0.9"/><line x1="240.77" y1="45.61" x2="233.66" y2="41.84" stroke="#2a2a2a" stroke-width="0.9"/><line x1="233.66" y1="32.96" x2="240.77" y2="29.19" stroke="#2a2a2a" stroke-width="0.9"/><polyline points="175.75,32.45 185.10,27.50 194.45,32.45" fill="none" stroke="#2a2a2a" stroke-width="0.9"/><polyline points="213.15,32.45 222.50,27.50 231.85,32.45" fill="none" stroke="#2a2a2a" stroke-width="0.9"/><line x1="203.80" y1="27.50" x2="203.80" y2="20.30" stroke="#2a2a2a" stroke-width="0.9"/><text x="201.91" y="18.95" font-size="5.4" fill="#444">CH<tspan font-size="3.78" dy="1.62">3</tspan></text>
<polygon points="62.20,61.10 71.55,66.05 71.55,75.95 62.20,80.90 52.85,75.95 52.85,66.05" fill="none" stroke="#2a2a2a" stroke-width="0.9" stroke-linejoin="miter"/><polygon points="99.60,61.10 108.95,66.05 108.95,75.95 99.60,80.90 90.25,75.95 90.25,66.05" fill="none" stroke="#2a2a2a" stroke-width="0.9" stroke-linejoin="miter"/><polygon points="137.00,61.10 146.35,66.05 146.35,75.95 137.00,80.90 127.65,75.95 127.65,66.05" fill="none" stroke="#2a2a2a" stroke-width="0.9" stroke-linejoin="miter"/><line x1="145.05" y1="67.24" x2="145.05" y2="74.76" stroke="#2a2a2a" stroke-width="0.9"/><line x1="136.57" y1="79.21" x2="129.46" y2="75.44" stroke="#2a2a2a" stroke-width="0.9"/><line x1="129.46" y1="66.56" x2="136.57" y2="62.79" stroke="#2a2a2a" stroke-width="0.9"/><polyline points="71.55,66.05 80.90,61.10 90.25,66.05" fill="none" stroke="#2a2a2a" stroke-width="0.9"/><polyline points="108.95,66.05 118.30,61.10 127.65,66.05" fill="none" stroke="#2a2a2a" stroke-width="0.9"/><line x1="99.60" y1="61.10" x2="99.60" y2="53.90" stroke="#2a2a2a" stroke-width="0.9"/><text x="97.71" y="52.55" font-size="5.4" fill="#444">CH<tspan font-size="3.78" dy="1.62">3</tspan></text>
<polygon points="173.80,61.30 183.40,66.25 183.40,76.15 173.80,81.10 164.20,76.15 164.20,66.25" fill="none" stroke="#2a2a2a" stroke-width="0.9" stroke-linejoin="miter"/><line x1="182.10" y1="67.44" x2="182.10" y2="74.96" stroke="#2a2a2a" stroke-width="0.9"/><line x1="173.35" y1="79.41" x2="166.06" y2="75.65" stroke="#2a2a2a" stroke-width="0.9"/><line x1="166.06" y1="66.75" x2="173.35" y2="62.99" stroke="#2a2a2a" stroke-width="0.9"/><polygon points="212.20,61.30 221.80,66.25 221.80,76.15 212.20,81.10 202.60,76.15 202.60,66.25" fill="none" stroke="#2a2a2a" stroke-width="0.9" stroke-linejoin="miter"/><line x1="220.50" y1="67.44" x2="220.50" y2="74.96" stroke="#2a2a2a" stroke-width="0.9"/><line x1="211.75" y1="79.41" x2="204.46" y2="75.65" stroke="#2a2a2a" stroke-width="0.9"/><line x1="204.46" y1="66.75" x2="211.75" y2="62.99" stroke="#2a2a2a" stroke-width="0.9"/><polygon points="250.60,61.30 260.20,66.25 260.20,76.15 250.60,81.10 241.00,76.15 241.00,66.25" fill="none" stroke="#2a2a2a" stroke-width="0.9" stroke-linejoin="miter"/><line x1="258.90" y1="67.44" x2="258.90" y2="74.96" stroke="#2a2a2a" stroke-width="0.9"/><line x1="250.15" y1="79.41" x2="242.86" y2="75.65" stroke="#2a2a2a" stroke-width="0.9"/><line x1="242.86" y1="66.75" x2="250.15" y2="62.99" stroke="#2a2a2a" stroke-width="0.9"/><polyline points="183.40,66.25 193.00,61.30 202.60,66.25" fill="none" stroke="#2a2a2a" stroke-width="0.9"/><polyline points="221.80,66.25 231.40,61.30 241.00,66.25" fill="none" stroke="#2a2a2a" stroke-width="0.9"/><line x1="212.20" y1="61.30" x2="212.20" y2="54.00" stroke="#2a2a2a" stroke-width="0.9"/><text x="210.31" y="52.65" font-size="5.4" fill="#444">CH<tspan font-size="3.78" dy="1.62">3</tspan></text>
<rect x="46.4" y="157.6" width="187.4" height="309.8" fill="#fff" stroke="#1a1a1a" stroke-width="1.2"/>
<line x1="46.9" y1="213.5" x2="233.8" y2="213.5" stroke="#1a1a1a" stroke-width="1.1" stroke-dasharray="2.3,2.0"/>
<line x1="46.9" y1="318.6" x2="233.8" y2="318.6" stroke="#1a1a1a" stroke-width="1.1" stroke-dasharray="2.3,2.0"/>
<line x1="46.9" y1="416.3" x2="233.8" y2="416.3" stroke="#1a1a1a" stroke-width="1.1" stroke-dasharray="2.3,2.0"/>
<polygon points="68.00,177.40 79.75,184.00 79.75,197.20 68.00,203.80 56.25,197.20 56.25,184.00" fill="none" stroke="#2a2a2a" stroke-width="1.1" stroke-linejoin="miter"/><polygon points="115.00,177.40 126.75,184.00 126.75,197.20 115.00,203.80 103.25,197.20 103.25,184.00" fill="none" stroke="#2a2a2a" stroke-width="1.1" stroke-linejoin="miter"/><polygon points="162.00,177.40 173.75,184.00 173.75,197.20 162.00,203.80 150.25,197.20 150.25,184.00" fill="none" stroke="#2a2a2a" stroke-width="1.1" stroke-linejoin="miter"/><polyline points="79.75,184.00 91.50,177.40 103.25,184.00" fill="none" stroke="#2a2a2a" stroke-width="1.1"/><polyline points="126.75,184.00 138.50,177.40 150.25,184.00" fill="none" stroke="#2a2a2a" stroke-width="1.1"/><line x1="115.00" y1="177.40" x2="115.00" y2="168.40" stroke="#2a2a2a" stroke-width="1.1"/><text x="112.55" y="166.65" font-size="7" fill="#444">CH<tspan font-size="4.90" dy="2.10">3</tspan></text>
<polygon points="67.60,260.40 79.35,267.00 79.35,280.20 67.60,286.80 55.85,280.20 55.85,267.00" fill="none" stroke="#2a2a2a" stroke-width="1.1" stroke-linejoin="miter"/><polygon points="114.60,260.40 126.35,267.00 126.35,280.20 114.60,286.80 102.85,280.20 102.85,267.00" fill="none" stroke="#2a2a2a" stroke-width="1.1" stroke-linejoin="miter"/><polygon points="161.60,260.40 173.35,267.00 173.35,280.20 161.60,286.80 149.85,280.20 149.85,267.00" fill="none" stroke="#2a2a2a" stroke-width="1.1" stroke-linejoin="miter"/><line x1="171.41" y1="268.58" x2="171.41" y2="278.62" stroke="#2a2a2a" stroke-width="1.1"/><line x1="161.18" y1="284.34" x2="152.25" y2="279.32" stroke="#2a2a2a" stroke-width="1.1"/><line x1="152.25" y1="267.88" x2="161.18" y2="262.86" stroke="#2a2a2a" stroke-width="1.1"/><polyline points="79.35,267.00 91.10,260.40 102.85,267.00" fill="none" stroke="#2a2a2a" stroke-width="1.1"/><polyline points="126.35,267.00 138.10,260.40 149.85,267.00" fill="none" stroke="#2a2a2a" stroke-width="1.1"/><line x1="114.60" y1="260.40" x2="114.60" y2="251.40" stroke="#2a2a2a" stroke-width="1.1"/><text x="112.15" y="249.65" font-size="7" fill="#444">CH<tspan font-size="4.90" dy="2.10">3</tspan></text>
<polygon points="67.60,348.80 79.35,355.40 79.35,368.60 67.60,375.20 55.85,368.60 55.85,355.40" fill="none" stroke="#2a2a2a" stroke-width="1.1" stroke-linejoin="miter"/><polygon points="114.60,348.80 126.35,355.40 126.35,368.60 114.60,375.20 102.85,368.60 102.85,355.40" fill="none" stroke="#2a2a2a" stroke-width="1.1" stroke-linejoin="miter"/><line x1="124.41" y1="356.98" x2="124.41" y2="367.02" stroke="#2a2a2a" stroke-width="1.1"/><line x1="114.18" y1="372.74" x2="105.25" y2="367.72" stroke="#2a2a2a" stroke-width="1.1"/><line x1="105.25" y1="356.28" x2="114.18" y2="351.26" stroke="#2a2a2a" stroke-width="1.1"/><polygon points="161.60,348.80 173.35,355.40 173.35,368.60 161.60,375.20 149.85,368.60 149.85,355.40" fill="none" stroke="#2a2a2a" stroke-width="1.1" stroke-linejoin="miter"/><line x1="171.41" y1="356.98" x2="171.41" y2="367.02" stroke="#2a2a2a" stroke-width="1.1"/><line x1="161.18" y1="372.74" x2="152.25" y2="367.72" stroke="#2a2a2a" stroke-width="1.1"/><line x1="152.25" y1="356.28" x2="161.18" y2="351.26" stroke="#2a2a2a" stroke-width="1.1"/><polyline points="79.35,355.40 91.10,348.80 102.85,355.40" fill="none" stroke="#2a2a2a" stroke-width="1.1"/><polyline points="126.35,355.40 138.10,348.80 149.85,355.40" fill="none" stroke="#2a2a2a" stroke-width="1.1"/><line x1="114.60" y1="348.80" x2="114.60" y2="339.80" stroke="#2a2a2a" stroke-width="1.1"/><text x="112.15" y="338.05" font-size="7" fill="#444">CH<tspan font-size="4.90" dy="2.10">3</tspan></text>
<polygon points="67.70,434.10 79.45,440.70 79.45,453.90 67.70,460.50 55.95,453.90 55.95,440.70" fill="none" stroke="#2a2a2a" stroke-width="1.1" stroke-linejoin="miter"/><line x1="77.51" y1="442.28" x2="77.51" y2="452.32" stroke="#2a2a2a" stroke-width="1.1"/><line x1="67.28" y1="458.04" x2="58.35" y2="453.02" stroke="#2a2a2a" stroke-width="1.1"/><line x1="58.35" y1="441.58" x2="67.28" y2="436.56" stroke="#2a2a2a" stroke-width="1.1"/><polygon points="114.70,434.10 126.45,440.70 126.45,453.90 114.70,460.50 102.95,453.90 102.95,440.70" fill="none" stroke="#2a2a2a" stroke-width="1.1" stroke-linejoin="miter"/><line x1="124.51" y1="442.28" x2="124.51" y2="452.32" stroke="#2a2a2a" stroke-width="1.1"/><line x1="114.28" y1="458.04" x2="105.35" y2="453.02" stroke="#2a2a2a" stroke-width="1.1"/><line x1="105.35" y1="441.58" x2="114.28" y2="436.56" stroke="#2a2a2a" stroke-width="1.1"/><polygon points="161.70,434.10 173.45,440.70 173.45,453.90 161.70,460.50 149.95,453.90 149.95,440.70" fill="none" stroke="#2a2a2a" stroke-width="1.1" stroke-linejoin="miter"/><line x1="171.51" y1="442.28" x2="171.51" y2="452.32" stroke="#2a2a2a" stroke-width="1.1"/><line x1="161.28" y1="458.04" x2="152.35" y2="453.02" stroke="#2a2a2a" stroke-width="1.1"/><line x1="152.35" y1="441.58" x2="161.28" y2="436.56" stroke="#2a2a2a" stroke-width="1.1"/><polyline points="79.45,440.70 91.20,434.10 102.95,440.70" fill="none" stroke="#2a2a2a" stroke-width="1.1"/><polyline points="126.45,440.70 138.20,434.10 149.95,440.70" fill="none" stroke="#2a2a2a" stroke-width="1.1"/><line x1="114.70" y1="434.10" x2="114.70" y2="425.10" stroke="#2a2a2a" stroke-width="1.1"/><text x="112.25" y="423.35" font-size="7" fill="#444">CH<tspan font-size="4.90" dy="2.10">3</tspan></text>
<text x="188.8" y="192.7" font-size="8.2" fill="#2a2a2a" stroke="#2a2a2a" stroke-width="0.15" textLength="33.9" lengthAdjust="spacingAndGlyphs">H18-DBT</text>
<text x="188.8" y="276.9" font-size="8.2" fill="#2a2a2a" stroke="#2a2a2a" stroke-width="0.15" textLength="34.4" lengthAdjust="spacingAndGlyphs">H12-DBT</text>
<text x="190.3" y="365.2" font-size="8.2" fill="#2a2a2a" stroke="#2a2a2a" stroke-width="0.15" textLength="29.0" lengthAdjust="spacingAndGlyphs">H6-DBT</text>
<text x="189.3" y="451.1" font-size="8.2" fill="#2a2a2a" stroke="#2a2a2a" stroke-width="0.15" textLength="28.4" lengthAdjust="spacingAndGlyphs">H0-DBT</text>
<rect x="113.35" y="213.5" width="2.5" height="24.0" fill="#8c8c8c"/><line x1="113.50" y1="213.0" x2="113.50" y2="238.0" stroke="#555" stroke-width="0.45"/><line x1="115.70" y1="213.0" x2="115.70" y2="238.0" stroke="#555" stroke-width="0.45"/><polygon points="112.80,215.6 114.60,211.0 116.40,215.6" fill="#1a1a1a"/><polygon points="112.80,235.4 114.60,240.0 116.40,235.4" fill="#1a1a1a"/>
<text x="122.8" y="232.5" font-size="8.0" fill="#2a2a2a">-3H<tspan font-size="5.6" dy="2.2">2</tspan></text>
<rect x="113.35" y="297.9" width="2.5" height="25.0" fill="#8c8c8c"/><line x1="113.50" y1="297.4" x2="113.50" y2="323.4" stroke="#555" stroke-width="0.45"/><line x1="115.70" y1="297.4" x2="115.70" y2="323.4" stroke="#555" stroke-width="0.45"/><polygon points="112.80,300.0 114.60,295.4 116.40,300.0" fill="#1a1a1a"/><polygon points="112.80,320.8 114.60,325.4 116.40,320.8" fill="#1a1a1a"/>
<text x="123.9" y="316.6" font-size="8.0" fill="#2a2a2a">-3H<tspan font-size="5.6" dy="2.2">2</tspan></text>
<rect x="113.35" y="384.0" width="2.5" height="25.0" fill="#8c8c8c"/><line x1="113.50" y1="383.5" x2="113.50" y2="409.5" stroke="#555" stroke-width="0.45"/><line x1="115.70" y1="383.5" x2="115.70" y2="409.5" stroke="#555" stroke-width="0.45"/><polygon points="112.80,386.1 114.60,381.5 116.40,386.1" fill="#1a1a1a"/><polygon points="112.80,406.9 114.60,411.5 116.40,406.9" fill="#1a1a1a"/>
<text x="125" y="404.1" font-size="8.0" fill="#2a2a2a">-3H<tspan font-size="5.6" dy="2.2">2</tspan></text>
</svg></body></html>
